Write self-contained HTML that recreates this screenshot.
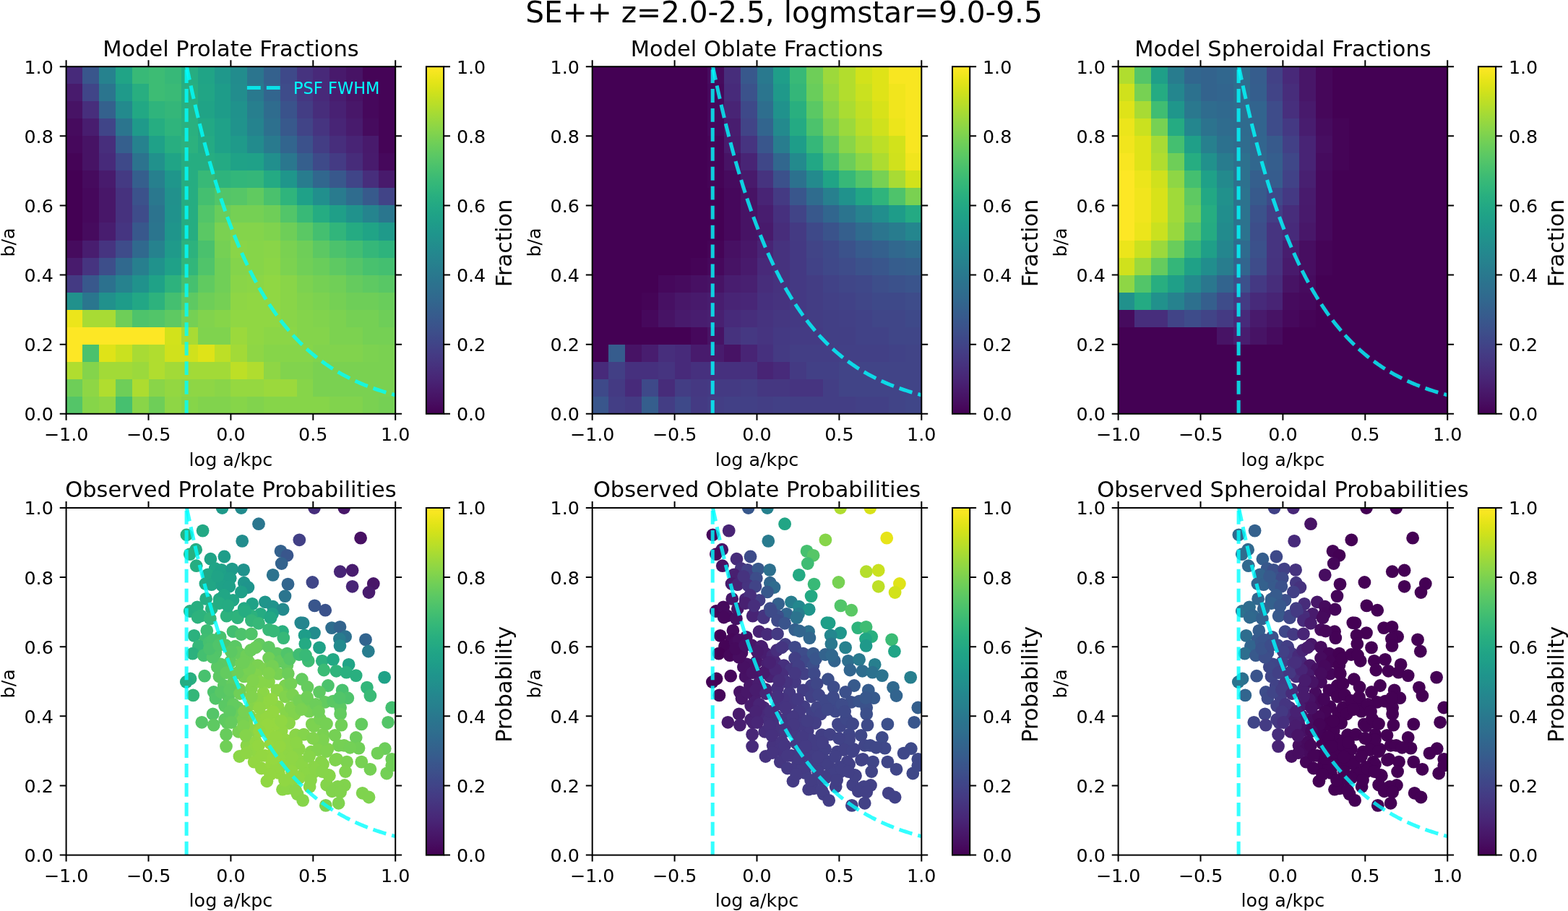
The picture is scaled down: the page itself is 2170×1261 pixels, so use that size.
<!DOCTYPE html>
<html><head><meta charset="utf-8"><title>SE++ shape fractions</title>
<style>html,body{margin:0;padding:0;background:#fff;}svg{display:block;}</style>
</head><body>
<svg width="2170" height="1261" viewBox="0 0 2170 1261">
<rect x="0" y="0" width="2170" height="1261" fill="#ffffff"/>
<defs>
<clipPath id="c00"><rect x="91.60" y="92.20" width="455.60" height="480.60"/></clipPath>
<clipPath id="c01"><rect x="819.70" y="92.20" width="455.60" height="480.60"/></clipPath>
<clipPath id="c02"><rect x="1547.60" y="92.20" width="455.60" height="480.60"/></clipPath>
<clipPath id="c10"><rect x="91.60" y="703.00" width="455.60" height="480.60"/></clipPath>
<clipPath id="c11"><rect x="819.70" y="703.00" width="455.60" height="480.60"/></clipPath>
<clipPath id="c12"><rect x="1547.60" y="703.00" width="455.60" height="480.60"/></clipPath>
<linearGradient id="vg" x1="0" y1="1" x2="0" y2="0">
<stop offset="0.0000" stop-color="#440154"/>
<stop offset="0.0156" stop-color="#46075a"/>
<stop offset="0.0312" stop-color="#470d60"/>
<stop offset="0.0469" stop-color="#471365"/>
<stop offset="0.0625" stop-color="#48186a"/>
<stop offset="0.0781" stop-color="#481d6f"/>
<stop offset="0.0938" stop-color="#482374"/>
<stop offset="0.1094" stop-color="#482878"/>
<stop offset="0.1250" stop-color="#472d7b"/>
<stop offset="0.1406" stop-color="#46327e"/>
<stop offset="0.1562" stop-color="#453781"/>
<stop offset="0.1719" stop-color="#443b84"/>
<stop offset="0.1875" stop-color="#424086"/>
<stop offset="0.2031" stop-color="#404588"/>
<stop offset="0.2188" stop-color="#3e4989"/>
<stop offset="0.2344" stop-color="#3d4e8a"/>
<stop offset="0.2500" stop-color="#3b528b"/>
<stop offset="0.2656" stop-color="#39568c"/>
<stop offset="0.2812" stop-color="#375b8d"/>
<stop offset="0.2969" stop-color="#355f8d"/>
<stop offset="0.3125" stop-color="#33638d"/>
<stop offset="0.3281" stop-color="#31678e"/>
<stop offset="0.3438" stop-color="#2f6b8e"/>
<stop offset="0.3594" stop-color="#2e6f8e"/>
<stop offset="0.3750" stop-color="#2c728e"/>
<stop offset="0.3906" stop-color="#2a768e"/>
<stop offset="0.4062" stop-color="#297a8e"/>
<stop offset="0.4219" stop-color="#277e8e"/>
<stop offset="0.4375" stop-color="#26828e"/>
<stop offset="0.4531" stop-color="#25858e"/>
<stop offset="0.4688" stop-color="#23898e"/>
<stop offset="0.4844" stop-color="#228d8d"/>
<stop offset="0.5000" stop-color="#21918c"/>
<stop offset="0.5156" stop-color="#1f948c"/>
<stop offset="0.5312" stop-color="#1f988b"/>
<stop offset="0.5469" stop-color="#1e9c89"/>
<stop offset="0.5625" stop-color="#1fa088"/>
<stop offset="0.5781" stop-color="#20a386"/>
<stop offset="0.5938" stop-color="#22a785"/>
<stop offset="0.6094" stop-color="#25ab82"/>
<stop offset="0.6250" stop-color="#28ae80"/>
<stop offset="0.6406" stop-color="#2db27d"/>
<stop offset="0.6562" stop-color="#32b67a"/>
<stop offset="0.6719" stop-color="#38b977"/>
<stop offset="0.6875" stop-color="#3fbc73"/>
<stop offset="0.7031" stop-color="#46c06f"/>
<stop offset="0.7188" stop-color="#4ec36b"/>
<stop offset="0.7344" stop-color="#56c667"/>
<stop offset="0.7500" stop-color="#5ec962"/>
<stop offset="0.7656" stop-color="#67cc5c"/>
<stop offset="0.7812" stop-color="#70cf57"/>
<stop offset="0.7969" stop-color="#7ad151"/>
<stop offset="0.8125" stop-color="#84d44b"/>
<stop offset="0.8281" stop-color="#8ed645"/>
<stop offset="0.8438" stop-color="#98d83e"/>
<stop offset="0.8594" stop-color="#a2da37"/>
<stop offset="0.8750" stop-color="#addc30"/>
<stop offset="0.8906" stop-color="#b8de29"/>
<stop offset="0.9062" stop-color="#c2df23"/>
<stop offset="0.9219" stop-color="#cde11d"/>
<stop offset="0.9375" stop-color="#d8e219"/>
<stop offset="0.9531" stop-color="#e2e418"/>
<stop offset="0.9688" stop-color="#ece51b"/>
<stop offset="0.9844" stop-color="#f6e620"/>
<stop offset="1.0000" stop-color="#fde725"/>
</linearGradient>
</defs>
<g clip-path="url(#c00)" shape-rendering="crispEdges">
<rect x="91.60" y="92.20" width="23.38" height="24.63" fill="#472a7a"/>
<rect x="114.38" y="92.20" width="23.38" height="24.63" fill="#39568c"/>
<rect x="137.16" y="92.20" width="23.38" height="24.63" fill="#26828e"/>
<rect x="159.94" y="92.20" width="23.38" height="24.63" fill="#20a486"/>
<rect x="182.72" y="92.20" width="23.38" height="24.63" fill="#38b977"/>
<rect x="205.50" y="92.20" width="23.38" height="24.63" fill="#3dbc74"/>
<rect x="228.28" y="92.20" width="23.38" height="24.63" fill="#37b878"/>
<rect x="251.06" y="92.20" width="23.38" height="24.63" fill="#26ad81"/>
<rect x="273.84" y="92.20" width="23.38" height="24.63" fill="#20a486"/>
<rect x="296.62" y="92.20" width="23.38" height="24.63" fill="#1f988b"/>
<rect x="319.40" y="92.20" width="23.38" height="24.63" fill="#228c8d"/>
<rect x="342.18" y="92.20" width="23.38" height="24.63" fill="#2b758e"/>
<rect x="364.96" y="92.20" width="23.38" height="24.63" fill="#34618d"/>
<rect x="387.74" y="92.20" width="23.38" height="24.63" fill="#3e4989"/>
<rect x="410.52" y="92.20" width="23.38" height="24.63" fill="#46337f"/>
<rect x="433.30" y="92.20" width="23.38" height="24.63" fill="#482979"/>
<rect x="456.08" y="92.20" width="23.38" height="24.63" fill="#481a6c"/>
<rect x="478.86" y="92.20" width="23.38" height="24.63" fill="#471365"/>
<rect x="501.64" y="92.20" width="23.38" height="24.63" fill="#450457"/>
<rect x="524.42" y="92.20" width="23.38" height="24.63" fill="#450457"/>
<rect x="91.60" y="116.23" width="23.38" height="24.63" fill="#481b6d"/>
<rect x="114.38" y="116.23" width="23.38" height="24.63" fill="#404588"/>
<rect x="137.16" y="116.23" width="23.38" height="24.63" fill="#2b758e"/>
<rect x="159.94" y="116.23" width="23.38" height="24.63" fill="#1f9a8a"/>
<rect x="182.72" y="116.23" width="23.38" height="24.63" fill="#28ae80"/>
<rect x="205.50" y="116.23" width="23.38" height="24.63" fill="#3dbc74"/>
<rect x="228.28" y="116.23" width="23.38" height="24.63" fill="#3aba76"/>
<rect x="251.06" y="116.23" width="23.38" height="24.63" fill="#28ae80"/>
<rect x="273.84" y="116.23" width="23.38" height="24.63" fill="#21a585"/>
<rect x="296.62" y="116.23" width="23.38" height="24.63" fill="#1e9c89"/>
<rect x="319.40" y="116.23" width="23.38" height="24.63" fill="#228d8d"/>
<rect x="342.18" y="116.23" width="23.38" height="24.63" fill="#29798e"/>
<rect x="364.96" y="116.23" width="23.38" height="24.63" fill="#32658e"/>
<rect x="387.74" y="116.23" width="23.38" height="24.63" fill="#3e4c8a"/>
<rect x="410.52" y="116.23" width="23.38" height="24.63" fill="#453781"/>
<rect x="433.30" y="116.23" width="23.38" height="24.63" fill="#482979"/>
<rect x="456.08" y="116.23" width="23.38" height="24.63" fill="#481d6f"/>
<rect x="478.86" y="116.23" width="23.38" height="24.63" fill="#471365"/>
<rect x="501.64" y="116.23" width="23.38" height="24.63" fill="#46085c"/>
<rect x="524.42" y="116.23" width="23.38" height="24.63" fill="#450457"/>
<rect x="91.60" y="140.26" width="23.38" height="24.63" fill="#471365"/>
<rect x="114.38" y="140.26" width="23.38" height="24.63" fill="#472e7c"/>
<rect x="137.16" y="140.26" width="23.38" height="24.63" fill="#34618d"/>
<rect x="159.94" y="140.26" width="23.38" height="24.63" fill="#238a8d"/>
<rect x="182.72" y="140.26" width="23.38" height="24.63" fill="#22a884"/>
<rect x="205.50" y="140.26" width="23.38" height="24.63" fill="#2fb47c"/>
<rect x="228.28" y="140.26" width="23.38" height="24.63" fill="#34b679"/>
<rect x="251.06" y="140.26" width="23.38" height="24.63" fill="#29af7f"/>
<rect x="273.84" y="140.26" width="23.38" height="24.63" fill="#20a386"/>
<rect x="296.62" y="140.26" width="23.38" height="24.63" fill="#1e9c89"/>
<rect x="319.40" y="140.26" width="23.38" height="24.63" fill="#20928c"/>
<rect x="342.18" y="140.26" width="23.38" height="24.63" fill="#277f8e"/>
<rect x="364.96" y="140.26" width="23.38" height="24.63" fill="#2f6c8e"/>
<rect x="387.74" y="140.26" width="23.38" height="24.63" fill="#3a538b"/>
<rect x="410.52" y="140.26" width="23.38" height="24.63" fill="#433d84"/>
<rect x="433.30" y="140.26" width="23.38" height="24.63" fill="#472d7b"/>
<rect x="456.08" y="140.26" width="23.38" height="24.63" fill="#482173"/>
<rect x="478.86" y="140.26" width="23.38" height="24.63" fill="#481769"/>
<rect x="501.64" y="140.26" width="23.38" height="24.63" fill="#46085c"/>
<rect x="524.42" y="140.26" width="23.38" height="24.63" fill="#450457"/>
<rect x="91.60" y="164.29" width="23.38" height="24.63" fill="#460b5e"/>
<rect x="114.38" y="164.29" width="23.38" height="24.63" fill="#481d6f"/>
<rect x="137.16" y="164.29" width="23.38" height="24.63" fill="#404588"/>
<rect x="159.94" y="164.29" width="23.38" height="24.63" fill="#2b758e"/>
<rect x="182.72" y="164.29" width="23.38" height="24.63" fill="#1f9a8a"/>
<rect x="205.50" y="164.29" width="23.38" height="24.63" fill="#26ad81"/>
<rect x="228.28" y="164.29" width="23.38" height="24.63" fill="#2fb47c"/>
<rect x="251.06" y="164.29" width="23.38" height="24.63" fill="#2ab07f"/>
<rect x="273.84" y="164.29" width="23.38" height="24.63" fill="#22a884"/>
<rect x="296.62" y="164.29" width="23.38" height="24.63" fill="#1fa188"/>
<rect x="319.40" y="164.29" width="23.38" height="24.63" fill="#20938c"/>
<rect x="342.18" y="164.29" width="23.38" height="24.63" fill="#25838e"/>
<rect x="364.96" y="164.29" width="23.38" height="24.63" fill="#2d708e"/>
<rect x="387.74" y="164.29" width="23.38" height="24.63" fill="#38598c"/>
<rect x="410.52" y="164.29" width="23.38" height="24.63" fill="#414487"/>
<rect x="433.30" y="164.29" width="23.38" height="24.63" fill="#463480"/>
<rect x="456.08" y="164.29" width="23.38" height="24.63" fill="#482576"/>
<rect x="478.86" y="164.29" width="23.38" height="24.63" fill="#481b6d"/>
<rect x="501.64" y="164.29" width="23.38" height="24.63" fill="#460b5e"/>
<rect x="524.42" y="164.29" width="23.38" height="24.63" fill="#450457"/>
<rect x="91.60" y="188.32" width="23.38" height="24.63" fill="#46085c"/>
<rect x="114.38" y="188.32" width="23.38" height="24.63" fill="#471365"/>
<rect x="137.16" y="188.32" width="23.38" height="24.63" fill="#472e7c"/>
<rect x="159.94" y="188.32" width="23.38" height="24.63" fill="#355f8d"/>
<rect x="182.72" y="188.32" width="23.38" height="24.63" fill="#26828e"/>
<rect x="205.50" y="188.32" width="23.38" height="24.63" fill="#1fa188"/>
<rect x="228.28" y="188.32" width="23.38" height="24.63" fill="#28ae80"/>
<rect x="251.06" y="188.32" width="23.38" height="24.63" fill="#2cb17e"/>
<rect x="273.84" y="188.32" width="23.38" height="24.63" fill="#24aa83"/>
<rect x="296.62" y="188.32" width="23.38" height="24.63" fill="#1fa188"/>
<rect x="319.40" y="188.32" width="23.38" height="24.63" fill="#1f9a8a"/>
<rect x="342.18" y="188.32" width="23.38" height="24.63" fill="#228b8d"/>
<rect x="364.96" y="188.32" width="23.38" height="24.63" fill="#297a8e"/>
<rect x="387.74" y="188.32" width="23.38" height="24.63" fill="#32658e"/>
<rect x="410.52" y="188.32" width="23.38" height="24.63" fill="#3b518b"/>
<rect x="433.30" y="188.32" width="23.38" height="24.63" fill="#433d84"/>
<rect x="456.08" y="188.32" width="23.38" height="24.63" fill="#472e7c"/>
<rect x="478.86" y="188.32" width="23.38" height="24.63" fill="#482475"/>
<rect x="501.64" y="188.32" width="23.38" height="24.63" fill="#481a6c"/>
<rect x="524.42" y="188.32" width="23.38" height="24.63" fill="#450457"/>
<rect x="91.60" y="212.35" width="23.38" height="24.63" fill="#450457"/>
<rect x="114.38" y="212.35" width="23.38" height="24.63" fill="#471365"/>
<rect x="137.16" y="212.35" width="23.38" height="24.63" fill="#472a7a"/>
<rect x="159.94" y="212.35" width="23.38" height="24.63" fill="#3e4989"/>
<rect x="182.72" y="212.35" width="23.38" height="24.63" fill="#2c738e"/>
<rect x="205.50" y="212.35" width="23.38" height="24.63" fill="#21918c"/>
<rect x="228.28" y="212.35" width="23.38" height="24.63" fill="#20a486"/>
<rect x="251.06" y="212.35" width="23.38" height="24.63" fill="#26ad81"/>
<rect x="273.84" y="212.35" width="23.38" height="24.63" fill="#26ad81"/>
<rect x="296.62" y="212.35" width="23.38" height="24.63" fill="#24aa83"/>
<rect x="319.40" y="212.35" width="23.38" height="24.63" fill="#1fa287"/>
<rect x="342.18" y="212.35" width="23.38" height="24.63" fill="#1fa188"/>
<rect x="364.96" y="212.35" width="23.38" height="24.63" fill="#218f8d"/>
<rect x="387.74" y="212.35" width="23.38" height="24.63" fill="#2a778e"/>
<rect x="410.52" y="212.35" width="23.38" height="24.63" fill="#355f8d"/>
<rect x="433.30" y="212.35" width="23.38" height="24.63" fill="#3e4a89"/>
<rect x="456.08" y="212.35" width="23.38" height="24.63" fill="#443b84"/>
<rect x="478.86" y="212.35" width="23.38" height="24.63" fill="#472c7a"/>
<rect x="501.64" y="212.35" width="23.38" height="24.63" fill="#481b6d"/>
<rect x="524.42" y="212.35" width="23.38" height="24.63" fill="#46085c"/>
<rect x="91.60" y="236.38" width="23.38" height="24.63" fill="#440154"/>
<rect x="114.38" y="236.38" width="23.38" height="24.63" fill="#460b5e"/>
<rect x="137.16" y="236.38" width="23.38" height="24.63" fill="#481b6d"/>
<rect x="159.94" y="236.38" width="23.38" height="24.63" fill="#443a83"/>
<rect x="182.72" y="236.38" width="23.38" height="24.63" fill="#355f8d"/>
<rect x="205.50" y="236.38" width="23.38" height="24.63" fill="#27808e"/>
<rect x="228.28" y="236.38" width="23.38" height="24.63" fill="#1f968b"/>
<rect x="251.06" y="236.38" width="23.38" height="24.63" fill="#26ad81"/>
<rect x="273.84" y="236.38" width="23.38" height="24.63" fill="#38b977"/>
<rect x="296.62" y="236.38" width="23.38" height="24.63" fill="#2eb37c"/>
<rect x="319.40" y="236.38" width="23.38" height="24.63" fill="#32b67a"/>
<rect x="342.18" y="236.38" width="23.38" height="24.63" fill="#34b679"/>
<rect x="364.96" y="236.38" width="23.38" height="24.63" fill="#24aa83"/>
<rect x="387.74" y="236.38" width="23.38" height="24.63" fill="#1f968b"/>
<rect x="410.52" y="236.38" width="23.38" height="24.63" fill="#287c8e"/>
<rect x="433.30" y="236.38" width="23.38" height="24.63" fill="#31678e"/>
<rect x="456.08" y="236.38" width="23.38" height="24.63" fill="#38588c"/>
<rect x="478.86" y="236.38" width="23.38" height="24.63" fill="#404588"/>
<rect x="501.64" y="236.38" width="23.38" height="24.63" fill="#472e7c"/>
<rect x="524.42" y="236.38" width="23.38" height="24.63" fill="#481a6c"/>
<rect x="91.60" y="260.41" width="23.38" height="24.63" fill="#440154"/>
<rect x="114.38" y="260.41" width="23.38" height="24.63" fill="#46085c"/>
<rect x="137.16" y="260.41" width="23.38" height="24.63" fill="#481769"/>
<rect x="159.94" y="260.41" width="23.38" height="24.63" fill="#46327e"/>
<rect x="182.72" y="260.41" width="23.38" height="24.63" fill="#3b528b"/>
<rect x="205.50" y="260.41" width="23.38" height="24.63" fill="#2a788e"/>
<rect x="228.28" y="260.41" width="23.38" height="24.63" fill="#21918c"/>
<rect x="251.06" y="260.41" width="23.38" height="24.63" fill="#26ad81"/>
<rect x="273.84" y="260.41" width="23.38" height="24.63" fill="#44bf70"/>
<rect x="296.62" y="260.41" width="23.38" height="24.63" fill="#52c569"/>
<rect x="319.40" y="260.41" width="23.38" height="24.63" fill="#56c667"/>
<rect x="342.18" y="260.41" width="23.38" height="24.63" fill="#60ca60"/>
<rect x="364.96" y="260.41" width="23.38" height="24.63" fill="#4ac16d"/>
<rect x="387.74" y="260.41" width="23.38" height="24.63" fill="#2fb47c"/>
<rect x="410.52" y="260.41" width="23.38" height="24.63" fill="#1fa188"/>
<rect x="433.30" y="260.41" width="23.38" height="24.63" fill="#218f8d"/>
<rect x="456.08" y="260.41" width="23.38" height="24.63" fill="#297b8e"/>
<rect x="478.86" y="260.41" width="23.38" height="24.63" fill="#2f6c8e"/>
<rect x="501.64" y="260.41" width="23.38" height="24.63" fill="#375a8c"/>
<rect x="524.42" y="260.41" width="23.38" height="24.63" fill="#414487"/>
<rect x="91.60" y="284.44" width="23.38" height="24.63" fill="#440154"/>
<rect x="114.38" y="284.44" width="23.38" height="24.63" fill="#46085c"/>
<rect x="137.16" y="284.44" width="23.38" height="24.63" fill="#481769"/>
<rect x="159.94" y="284.44" width="23.38" height="24.63" fill="#46327e"/>
<rect x="182.72" y="284.44" width="23.38" height="24.63" fill="#3e4c8a"/>
<rect x="205.50" y="284.44" width="23.38" height="24.63" fill="#2c738e"/>
<rect x="228.28" y="284.44" width="23.38" height="24.63" fill="#20928c"/>
<rect x="251.06" y="284.44" width="23.38" height="24.63" fill="#26ad81"/>
<rect x="273.84" y="284.44" width="23.38" height="24.63" fill="#52c569"/>
<rect x="296.62" y="284.44" width="23.38" height="24.63" fill="#69cd5b"/>
<rect x="319.40" y="284.44" width="23.38" height="24.63" fill="#75d054"/>
<rect x="342.18" y="284.44" width="23.38" height="24.63" fill="#75d054"/>
<rect x="364.96" y="284.44" width="23.38" height="24.63" fill="#6ece58"/>
<rect x="387.74" y="284.44" width="23.38" height="24.63" fill="#52c569"/>
<rect x="410.52" y="284.44" width="23.38" height="24.63" fill="#38b977"/>
<rect x="433.30" y="284.44" width="23.38" height="24.63" fill="#25ac82"/>
<rect x="456.08" y="284.44" width="23.38" height="24.63" fill="#1f9f88"/>
<rect x="478.86" y="284.44" width="23.38" height="24.63" fill="#20928c"/>
<rect x="501.64" y="284.44" width="23.38" height="24.63" fill="#25848e"/>
<rect x="524.42" y="284.44" width="23.38" height="24.63" fill="#2a768e"/>
<rect x="91.60" y="308.47" width="23.38" height="24.63" fill="#440154"/>
<rect x="114.38" y="308.47" width="23.38" height="24.63" fill="#460b5e"/>
<rect x="137.16" y="308.47" width="23.38" height="24.63" fill="#481d6f"/>
<rect x="159.94" y="308.47" width="23.38" height="24.63" fill="#453581"/>
<rect x="182.72" y="308.47" width="23.38" height="24.63" fill="#38588c"/>
<rect x="205.50" y="308.47" width="23.38" height="24.63" fill="#2b758e"/>
<rect x="228.28" y="308.47" width="23.38" height="24.63" fill="#1f958b"/>
<rect x="251.06" y="308.47" width="23.38" height="24.63" fill="#26ad81"/>
<rect x="273.84" y="308.47" width="23.38" height="24.63" fill="#5ac864"/>
<rect x="296.62" y="308.47" width="23.38" height="24.63" fill="#7ad151"/>
<rect x="319.40" y="308.47" width="23.38" height="24.63" fill="#84d44b"/>
<rect x="342.18" y="308.47" width="23.38" height="24.63" fill="#84d44b"/>
<rect x="364.96" y="308.47" width="23.38" height="24.63" fill="#7fd34e"/>
<rect x="387.74" y="308.47" width="23.38" height="24.63" fill="#6ece58"/>
<rect x="410.52" y="308.47" width="23.38" height="24.63" fill="#5ac864"/>
<rect x="433.30" y="308.47" width="23.38" height="24.63" fill="#44bf70"/>
<rect x="456.08" y="308.47" width="23.38" height="24.63" fill="#31b57b"/>
<rect x="478.86" y="308.47" width="23.38" height="24.63" fill="#25ab82"/>
<rect x="501.64" y="308.47" width="23.38" height="24.63" fill="#20a486"/>
<rect x="524.42" y="308.47" width="23.38" height="24.63" fill="#1f9a8a"/>
<rect x="91.60" y="332.50" width="23.38" height="24.63" fill="#460b5e"/>
<rect x="114.38" y="332.50" width="23.38" height="24.63" fill="#481d6f"/>
<rect x="137.16" y="332.50" width="23.38" height="24.63" fill="#463480"/>
<rect x="159.94" y="332.50" width="23.38" height="24.63" fill="#3e4c8a"/>
<rect x="182.72" y="332.50" width="23.38" height="24.63" fill="#30698e"/>
<rect x="205.50" y="332.50" width="23.38" height="24.63" fill="#26828e"/>
<rect x="228.28" y="332.50" width="23.38" height="24.63" fill="#1f9a8a"/>
<rect x="251.06" y="332.50" width="23.38" height="24.63" fill="#2db27d"/>
<rect x="273.84" y="332.50" width="23.38" height="24.63" fill="#4ac16d"/>
<rect x="296.62" y="332.50" width="23.38" height="24.63" fill="#75d054"/>
<rect x="319.40" y="332.50" width="23.38" height="24.63" fill="#89d548"/>
<rect x="342.18" y="332.50" width="23.38" height="24.63" fill="#86d549"/>
<rect x="364.96" y="332.50" width="23.38" height="24.63" fill="#89d548"/>
<rect x="387.74" y="332.50" width="23.38" height="24.63" fill="#7ad151"/>
<rect x="410.52" y="332.50" width="23.38" height="24.63" fill="#6ece58"/>
<rect x="433.30" y="332.50" width="23.38" height="24.63" fill="#5cc863"/>
<rect x="456.08" y="332.50" width="23.38" height="24.63" fill="#4cc26c"/>
<rect x="478.86" y="332.50" width="23.38" height="24.63" fill="#42be71"/>
<rect x="501.64" y="332.50" width="23.38" height="24.63" fill="#35b779"/>
<rect x="524.42" y="332.50" width="23.38" height="24.63" fill="#2eb37c"/>
<rect x="91.60" y="356.53" width="23.38" height="24.63" fill="#481b6d"/>
<rect x="114.38" y="356.53" width="23.38" height="24.63" fill="#463480"/>
<rect x="137.16" y="356.53" width="23.38" height="24.63" fill="#3d4e8a"/>
<rect x="159.94" y="356.53" width="23.38" height="24.63" fill="#30698e"/>
<rect x="182.72" y="356.53" width="23.38" height="24.63" fill="#277f8e"/>
<rect x="205.50" y="356.53" width="23.38" height="24.63" fill="#20928c"/>
<rect x="228.28" y="356.53" width="23.38" height="24.63" fill="#1fa188"/>
<rect x="251.06" y="356.53" width="23.38" height="24.63" fill="#32b67a"/>
<rect x="273.84" y="356.53" width="23.38" height="24.63" fill="#50c46a"/>
<rect x="296.62" y="356.53" width="23.38" height="24.63" fill="#70cf57"/>
<rect x="319.40" y="356.53" width="23.38" height="24.63" fill="#84d44b"/>
<rect x="342.18" y="356.53" width="23.38" height="24.63" fill="#86d549"/>
<rect x="364.96" y="356.53" width="23.38" height="24.63" fill="#8bd646"/>
<rect x="387.74" y="356.53" width="23.38" height="24.63" fill="#7cd250"/>
<rect x="410.52" y="356.53" width="23.38" height="24.63" fill="#70cf57"/>
<rect x="433.30" y="356.53" width="23.38" height="24.63" fill="#69cd5b"/>
<rect x="456.08" y="356.53" width="23.38" height="24.63" fill="#5ec962"/>
<rect x="478.86" y="356.53" width="23.38" height="24.63" fill="#54c568"/>
<rect x="501.64" y="356.53" width="23.38" height="24.63" fill="#48c16e"/>
<rect x="524.42" y="356.53" width="23.38" height="24.63" fill="#44bf70"/>
<rect x="91.60" y="380.56" width="23.38" height="24.63" fill="#443a83"/>
<rect x="114.38" y="380.56" width="23.38" height="24.63" fill="#38588c"/>
<rect x="137.16" y="380.56" width="23.38" height="24.63" fill="#2c718e"/>
<rect x="159.94" y="380.56" width="23.38" height="24.63" fill="#26828e"/>
<rect x="182.72" y="380.56" width="23.38" height="24.63" fill="#20928c"/>
<rect x="205.50" y="380.56" width="23.38" height="24.63" fill="#1fa287"/>
<rect x="228.28" y="380.56" width="23.38" height="24.63" fill="#2db27d"/>
<rect x="251.06" y="380.56" width="23.38" height="24.63" fill="#46c06f"/>
<rect x="273.84" y="380.56" width="23.38" height="24.63" fill="#60ca60"/>
<rect x="296.62" y="380.56" width="23.38" height="24.63" fill="#70cf57"/>
<rect x="319.40" y="380.56" width="23.38" height="24.63" fill="#89d548"/>
<rect x="342.18" y="380.56" width="23.38" height="24.63" fill="#8bd646"/>
<rect x="364.96" y="380.56" width="23.38" height="24.63" fill="#90d743"/>
<rect x="387.74" y="380.56" width="23.38" height="24.63" fill="#89d548"/>
<rect x="410.52" y="380.56" width="23.38" height="24.63" fill="#7cd250"/>
<rect x="433.30" y="380.56" width="23.38" height="24.63" fill="#75d054"/>
<rect x="456.08" y="380.56" width="23.38" height="24.63" fill="#70cf57"/>
<rect x="478.86" y="380.56" width="23.38" height="24.63" fill="#65cb5e"/>
<rect x="501.64" y="380.56" width="23.38" height="24.63" fill="#5ec962"/>
<rect x="524.42" y="380.56" width="23.38" height="24.63" fill="#58c765"/>
<rect x="91.60" y="404.59" width="23.38" height="24.63" fill="#21918c"/>
<rect x="114.38" y="404.59" width="23.38" height="24.63" fill="#2a768e"/>
<rect x="137.16" y="404.59" width="23.38" height="24.63" fill="#21918c"/>
<rect x="159.94" y="404.59" width="23.38" height="24.63" fill="#1e9c89"/>
<rect x="182.72" y="404.59" width="23.38" height="24.63" fill="#22a785"/>
<rect x="205.50" y="404.59" width="23.38" height="24.63" fill="#2db27d"/>
<rect x="228.28" y="404.59" width="23.38" height="24.63" fill="#44bf70"/>
<rect x="251.06" y="404.59" width="23.38" height="24.63" fill="#5ec962"/>
<rect x="273.84" y="404.59" width="23.38" height="24.63" fill="#6ece58"/>
<rect x="296.62" y="404.59" width="23.38" height="24.63" fill="#75d054"/>
<rect x="319.40" y="404.59" width="23.38" height="24.63" fill="#8ed645"/>
<rect x="342.18" y="404.59" width="23.38" height="24.63" fill="#90d743"/>
<rect x="364.96" y="404.59" width="23.38" height="24.63" fill="#90d743"/>
<rect x="387.74" y="404.59" width="23.38" height="24.63" fill="#89d548"/>
<rect x="410.52" y="404.59" width="23.38" height="24.63" fill="#81d34d"/>
<rect x="433.30" y="404.59" width="23.38" height="24.63" fill="#7cd250"/>
<rect x="456.08" y="404.59" width="23.38" height="24.63" fill="#75d054"/>
<rect x="478.86" y="404.59" width="23.38" height="24.63" fill="#6ece58"/>
<rect x="501.64" y="404.59" width="23.38" height="24.63" fill="#6ece58"/>
<rect x="524.42" y="404.59" width="23.38" height="24.63" fill="#69cd5b"/>
<rect x="91.60" y="428.62" width="23.38" height="24.63" fill="#ece51b"/>
<rect x="114.38" y="428.62" width="23.38" height="24.63" fill="#a8db34"/>
<rect x="137.16" y="428.62" width="23.38" height="24.63" fill="#a8db34"/>
<rect x="159.94" y="428.62" width="23.38" height="24.63" fill="#6ece58"/>
<rect x="182.72" y="428.62" width="23.38" height="24.63" fill="#4ec36b"/>
<rect x="205.50" y="428.62" width="23.38" height="24.63" fill="#52c569"/>
<rect x="228.28" y="428.62" width="23.38" height="24.63" fill="#5ec962"/>
<rect x="251.06" y="428.62" width="23.38" height="24.63" fill="#75d054"/>
<rect x="273.84" y="428.62" width="23.38" height="24.63" fill="#81d34d"/>
<rect x="296.62" y="428.62" width="23.38" height="24.63" fill="#86d549"/>
<rect x="319.40" y="428.62" width="23.38" height="24.63" fill="#90d743"/>
<rect x="342.18" y="428.62" width="23.38" height="24.63" fill="#90d743"/>
<rect x="364.96" y="428.62" width="23.38" height="24.63" fill="#90d743"/>
<rect x="387.74" y="428.62" width="23.38" height="24.63" fill="#89d548"/>
<rect x="410.52" y="428.62" width="23.38" height="24.63" fill="#84d44b"/>
<rect x="433.30" y="428.62" width="23.38" height="24.63" fill="#81d34d"/>
<rect x="456.08" y="428.62" width="23.38" height="24.63" fill="#7cd250"/>
<rect x="478.86" y="428.62" width="23.38" height="24.63" fill="#75d054"/>
<rect x="501.64" y="428.62" width="23.38" height="24.63" fill="#75d054"/>
<rect x="524.42" y="428.62" width="23.38" height="24.63" fill="#6ece58"/>
<rect x="91.60" y="452.65" width="23.38" height="24.63" fill="#fde725"/>
<rect x="114.38" y="452.65" width="23.38" height="24.63" fill="#fde725"/>
<rect x="137.16" y="452.65" width="23.38" height="24.63" fill="#fde725"/>
<rect x="159.94" y="452.65" width="23.38" height="24.63" fill="#fde725"/>
<rect x="182.72" y="452.65" width="23.38" height="24.63" fill="#fde725"/>
<rect x="205.50" y="452.65" width="23.38" height="24.63" fill="#fde725"/>
<rect x="228.28" y="452.65" width="23.38" height="24.63" fill="#d2e21b"/>
<rect x="251.06" y="452.65" width="23.38" height="24.63" fill="#a8db34"/>
<rect x="273.84" y="452.65" width="23.38" height="24.63" fill="#7fd34e"/>
<rect x="296.62" y="452.65" width="23.38" height="24.63" fill="#7fd34e"/>
<rect x="319.40" y="452.65" width="23.38" height="24.63" fill="#9bd93c"/>
<rect x="342.18" y="452.65" width="23.38" height="24.63" fill="#90d743"/>
<rect x="364.96" y="452.65" width="23.38" height="24.63" fill="#8bd646"/>
<rect x="387.74" y="452.65" width="23.38" height="24.63" fill="#8bd646"/>
<rect x="410.52" y="452.65" width="23.38" height="24.63" fill="#84d44b"/>
<rect x="433.30" y="452.65" width="23.38" height="24.63" fill="#84d44b"/>
<rect x="456.08" y="452.65" width="23.38" height="24.63" fill="#7cd250"/>
<rect x="478.86" y="452.65" width="23.38" height="24.63" fill="#7cd250"/>
<rect x="501.64" y="452.65" width="23.38" height="24.63" fill="#75d054"/>
<rect x="524.42" y="452.65" width="23.38" height="24.63" fill="#75d054"/>
<rect x="91.60" y="476.68" width="23.38" height="24.63" fill="#fde725"/>
<rect x="114.38" y="476.68" width="23.38" height="24.63" fill="#4ac16d"/>
<rect x="137.16" y="476.68" width="23.38" height="24.63" fill="#dfe318"/>
<rect x="159.94" y="476.68" width="23.38" height="24.63" fill="#cae11f"/>
<rect x="182.72" y="476.68" width="23.38" height="24.63" fill="#a8db34"/>
<rect x="205.50" y="476.68" width="23.38" height="24.63" fill="#b0dd2f"/>
<rect x="228.28" y="476.68" width="23.38" height="24.63" fill="#d0e11c"/>
<rect x="251.06" y="476.68" width="23.38" height="24.63" fill="#d0e11c"/>
<rect x="273.84" y="476.68" width="23.38" height="24.63" fill="#dfe318"/>
<rect x="296.62" y="476.68" width="23.38" height="24.63" fill="#bddf26"/>
<rect x="319.40" y="476.68" width="23.38" height="24.63" fill="#a2da37"/>
<rect x="342.18" y="476.68" width="23.38" height="24.63" fill="#8ed645"/>
<rect x="364.96" y="476.68" width="23.38" height="24.63" fill="#86d549"/>
<rect x="387.74" y="476.68" width="23.38" height="24.63" fill="#86d549"/>
<rect x="410.52" y="476.68" width="23.38" height="24.63" fill="#86d549"/>
<rect x="433.30" y="476.68" width="23.38" height="24.63" fill="#81d34d"/>
<rect x="456.08" y="476.68" width="23.38" height="24.63" fill="#81d34d"/>
<rect x="478.86" y="476.68" width="23.38" height="24.63" fill="#81d34d"/>
<rect x="501.64" y="476.68" width="23.38" height="24.63" fill="#7cd250"/>
<rect x="524.42" y="476.68" width="23.38" height="24.63" fill="#7ad151"/>
<rect x="91.60" y="500.71" width="23.38" height="24.63" fill="#b0dd2f"/>
<rect x="114.38" y="500.71" width="23.38" height="24.63" fill="#84d44b"/>
<rect x="137.16" y="500.71" width="23.38" height="24.63" fill="#a2da37"/>
<rect x="159.94" y="500.71" width="23.38" height="24.63" fill="#a2da37"/>
<rect x="182.72" y="500.71" width="23.38" height="24.63" fill="#9bd93c"/>
<rect x="205.50" y="500.71" width="23.38" height="24.63" fill="#b0dd2f"/>
<rect x="228.28" y="500.71" width="23.38" height="24.63" fill="#a2da37"/>
<rect x="251.06" y="500.71" width="23.38" height="24.63" fill="#a2da37"/>
<rect x="273.84" y="500.71" width="23.38" height="24.63" fill="#a2da37"/>
<rect x="296.62" y="500.71" width="23.38" height="24.63" fill="#a2da37"/>
<rect x="319.40" y="500.71" width="23.38" height="24.63" fill="#bddf26"/>
<rect x="342.18" y="500.71" width="23.38" height="24.63" fill="#b0dd2f"/>
<rect x="364.96" y="500.71" width="23.38" height="24.63" fill="#8ed645"/>
<rect x="387.74" y="500.71" width="23.38" height="24.63" fill="#81d34d"/>
<rect x="410.52" y="500.71" width="23.38" height="24.63" fill="#81d34d"/>
<rect x="433.30" y="500.71" width="23.38" height="24.63" fill="#7ad151"/>
<rect x="456.08" y="500.71" width="23.38" height="24.63" fill="#7ad151"/>
<rect x="478.86" y="500.71" width="23.38" height="24.63" fill="#7ad151"/>
<rect x="501.64" y="500.71" width="23.38" height="24.63" fill="#7ad151"/>
<rect x="524.42" y="500.71" width="23.38" height="24.63" fill="#7ad151"/>
<rect x="91.60" y="524.74" width="23.38" height="24.63" fill="#6ece58"/>
<rect x="114.38" y="524.74" width="23.38" height="24.63" fill="#8ed645"/>
<rect x="137.16" y="524.74" width="23.38" height="24.63" fill="#b0dd2f"/>
<rect x="159.94" y="524.74" width="23.38" height="24.63" fill="#6ece58"/>
<rect x="182.72" y="524.74" width="23.38" height="24.63" fill="#addc30"/>
<rect x="205.50" y="524.74" width="23.38" height="24.63" fill="#89d548"/>
<rect x="228.28" y="524.74" width="23.38" height="24.63" fill="#93d741"/>
<rect x="251.06" y="524.74" width="23.38" height="24.63" fill="#8ed645"/>
<rect x="273.84" y="524.74" width="23.38" height="24.63" fill="#8ed645"/>
<rect x="296.62" y="524.74" width="23.38" height="24.63" fill="#89d548"/>
<rect x="319.40" y="524.74" width="23.38" height="24.63" fill="#95d840"/>
<rect x="342.18" y="524.74" width="23.38" height="24.63" fill="#95d840"/>
<rect x="364.96" y="524.74" width="23.38" height="24.63" fill="#9bd93c"/>
<rect x="387.74" y="524.74" width="23.38" height="24.63" fill="#9bd93c"/>
<rect x="410.52" y="524.74" width="23.38" height="24.63" fill="#86d549"/>
<rect x="433.30" y="524.74" width="23.38" height="24.63" fill="#7ad151"/>
<rect x="456.08" y="524.74" width="23.38" height="24.63" fill="#7ad151"/>
<rect x="478.86" y="524.74" width="23.38" height="24.63" fill="#7ad151"/>
<rect x="501.64" y="524.74" width="23.38" height="24.63" fill="#7ad151"/>
<rect x="524.42" y="524.74" width="23.38" height="24.63" fill="#7ad151"/>
<rect x="91.60" y="548.77" width="23.38" height="24.63" fill="#54c568"/>
<rect x="114.38" y="548.77" width="23.38" height="24.63" fill="#86d549"/>
<rect x="137.16" y="548.77" width="23.38" height="24.63" fill="#8ed645"/>
<rect x="159.94" y="548.77" width="23.38" height="24.63" fill="#46c06f"/>
<rect x="182.72" y="548.77" width="23.38" height="24.63" fill="#89d548"/>
<rect x="205.50" y="548.77" width="23.38" height="24.63" fill="#6ece58"/>
<rect x="228.28" y="548.77" width="23.38" height="24.63" fill="#8ed645"/>
<rect x="251.06" y="548.77" width="23.38" height="24.63" fill="#86d549"/>
<rect x="273.84" y="548.77" width="23.38" height="24.63" fill="#81d34d"/>
<rect x="296.62" y="548.77" width="23.38" height="24.63" fill="#81d34d"/>
<rect x="319.40" y="548.77" width="23.38" height="24.63" fill="#86d549"/>
<rect x="342.18" y="548.77" width="23.38" height="24.63" fill="#81d34d"/>
<rect x="364.96" y="548.77" width="23.38" height="24.63" fill="#86d549"/>
<rect x="387.74" y="548.77" width="23.38" height="24.63" fill="#86d549"/>
<rect x="410.52" y="548.77" width="23.38" height="24.63" fill="#86d549"/>
<rect x="433.30" y="548.77" width="23.38" height="24.63" fill="#86d549"/>
<rect x="456.08" y="548.77" width="23.38" height="24.63" fill="#81d34d"/>
<rect x="478.86" y="548.77" width="23.38" height="24.63" fill="#81d34d"/>
<rect x="501.64" y="548.77" width="23.38" height="24.63" fill="#7ad151"/>
<rect x="524.42" y="548.77" width="23.38" height="24.63" fill="#75d054"/>
</g>
<g clip-path="url(#c00)">
<path d="M258.12 572.80 L258.12 92.20" fill="none" stroke="#00ffff" stroke-opacity="0.8" stroke-width="5.08" stroke-dasharray="18.8 8.13"/>
<path d="M258.46 92.20 L259.91 99.20 L261.37 106.09 L262.82 112.89 L264.27 119.58 L265.72 126.18 L267.17 132.68 L268.62 139.09 L270.07 145.41 L271.52 151.63 L272.97 157.76 L274.42 163.80 L275.87 169.76 L277.33 175.62 L278.78 181.41 L280.23 187.11 L281.68 192.72 L283.13 198.25 L284.58 203.71 L286.03 209.08 L287.48 214.38 L288.93 219.59 L290.38 224.74 L291.84 229.80 L293.29 234.80 L294.74 239.72 L296.19 244.57 L297.64 249.35 L299.09 254.06 L300.54 258.70 L301.99 263.27 L303.44 267.78 L304.89 272.22 L306.34 276.59 L307.80 280.91 L309.25 285.16 L310.70 289.34 L312.15 293.47 L313.60 297.54 L315.05 301.54 L316.50 305.49 L317.95 309.38 L319.40 313.22 L320.85 317.00 L322.30 320.72 L323.76 324.39 L325.21 328.01 L326.66 331.57 L328.11 335.09 L329.56 338.55 L331.01 341.96 L332.46 345.32 L333.91 348.63 L335.36 351.89 L336.81 355.11 L338.27 358.28 L339.72 361.40 L341.17 364.48 L342.62 367.51 L344.07 370.50 L345.52 373.45 L346.97 376.35 L348.42 379.21 L349.87 382.03 L351.32 384.81 L352.77 387.54 L354.23 390.24 L355.68 392.90 L357.13 395.52 L358.58 398.10 L360.03 400.64 L361.48 403.15 L362.93 405.62 L364.38 408.05 L365.83 410.45 L367.28 412.81 L368.73 415.14 L370.19 417.44 L371.64 419.70 L373.09 421.93 L374.54 424.13 L375.99 426.29 L377.44 428.42 L378.89 430.53 L380.34 432.60 L381.79 434.64 L383.24 436.65 L384.70 438.63 L386.15 440.58 L387.60 442.51 L389.05 444.41 L390.50 446.28 L391.95 448.12 L393.40 449.93 L394.85 451.72 L396.30 453.48 L397.75 455.22 L399.20 456.93 L400.66 458.62 L402.11 460.28 L403.56 461.92 L405.01 463.54 L406.46 465.13 L407.91 466.69 L409.36 468.24 L410.81 469.76 L412.26 471.26 L413.71 472.74 L415.16 474.20 L416.62 475.63 L418.07 477.05 L419.52 478.44 L420.97 479.81 L422.42 481.17 L423.87 482.50 L425.32 483.82 L426.77 485.11 L428.22 486.39 L429.67 487.65 L431.13 488.89 L432.58 490.11 L434.03 491.31 L435.48 492.50 L436.93 493.67 L438.38 494.82 L439.83 495.96 L441.28 497.07 L442.73 498.18 L444.18 499.26 L445.63 500.33 L447.09 501.39 L448.54 502.43 L449.99 503.45 L451.44 504.46 L452.89 505.46 L454.34 506.44 L455.79 507.40 L457.24 508.36 L458.69 509.29 L460.14 510.22 L461.59 511.13 L463.05 512.03 L464.50 512.91 L465.95 513.78 L467.40 514.64 L468.85 515.49 L470.30 516.32 L471.75 517.15 L473.20 517.96 L474.65 518.76 L476.10 519.54 L477.56 520.32 L479.01 521.08 L480.46 521.83 L481.91 522.58 L483.36 523.31 L484.81 524.03 L486.26 524.74 L487.71 525.44 L489.16 526.13 L490.61 526.81 L492.06 527.48 L493.52 528.14 L494.97 528.79 L496.42 529.43 L497.87 530.06 L499.32 530.68 L500.77 531.29 L502.22 531.90 L503.67 532.49 L505.12 533.08 L506.57 533.66 L508.02 534.23 L509.48 534.79 L510.93 535.34 L512.38 535.89 L513.83 536.43 L515.28 536.96 L516.73 537.48 L518.18 537.99 L519.63 538.50 L521.08 539.00 L522.53 539.49 L523.99 539.98 L525.44 540.45 L526.89 540.92 L528.34 541.39 L529.79 541.85 L531.24 542.30 L532.69 542.74 L534.14 543.18 L535.59 543.61 L537.04 544.03 L538.49 544.45 L539.95 544.87 L541.40 545.27 L542.85 545.67 L544.30 546.07 L545.75 546.46 L547.20 546.84" fill="none" stroke="#00ffff" stroke-opacity="0.8" stroke-width="5.08" stroke-dasharray="18.8 8.13"/>
</g>
<g clip-path="url(#c01)" shape-rendering="crispEdges">
<rect x="819.70" y="92.20" width="23.38" height="24.63" fill="#440154"/>
<rect x="842.48" y="92.20" width="23.38" height="24.63" fill="#440154"/>
<rect x="865.26" y="92.20" width="23.38" height="24.63" fill="#440154"/>
<rect x="888.04" y="92.20" width="23.38" height="24.63" fill="#440154"/>
<rect x="910.82" y="92.20" width="23.38" height="24.63" fill="#440154"/>
<rect x="933.60" y="92.20" width="23.38" height="24.63" fill="#440154"/>
<rect x="956.38" y="92.20" width="23.38" height="24.63" fill="#440154"/>
<rect x="979.16" y="92.20" width="23.38" height="24.63" fill="#460b5e"/>
<rect x="1001.94" y="92.20" width="23.38" height="24.63" fill="#472d7b"/>
<rect x="1024.72" y="92.20" width="23.38" height="24.63" fill="#38588c"/>
<rect x="1047.50" y="92.20" width="23.38" height="24.63" fill="#29798e"/>
<rect x="1070.28" y="92.20" width="23.38" height="24.63" fill="#1f9e89"/>
<rect x="1093.06" y="92.20" width="23.38" height="24.63" fill="#38b977"/>
<rect x="1115.84" y="92.20" width="23.38" height="24.63" fill="#6ece58"/>
<rect x="1138.62" y="92.20" width="23.38" height="24.63" fill="#9dd93b"/>
<rect x="1161.40" y="92.20" width="23.38" height="24.63" fill="#b2dd2d"/>
<rect x="1184.18" y="92.20" width="23.38" height="24.63" fill="#d2e21b"/>
<rect x="1206.96" y="92.20" width="23.38" height="24.63" fill="#dfe318"/>
<rect x="1229.74" y="92.20" width="23.38" height="24.63" fill="#f8e621"/>
<rect x="1252.52" y="92.20" width="23.38" height="24.63" fill="#f8e621"/>
<rect x="819.70" y="116.23" width="23.38" height="24.63" fill="#440154"/>
<rect x="842.48" y="116.23" width="23.38" height="24.63" fill="#440154"/>
<rect x="865.26" y="116.23" width="23.38" height="24.63" fill="#440154"/>
<rect x="888.04" y="116.23" width="23.38" height="24.63" fill="#440154"/>
<rect x="910.82" y="116.23" width="23.38" height="24.63" fill="#440154"/>
<rect x="933.60" y="116.23" width="23.38" height="24.63" fill="#440154"/>
<rect x="956.38" y="116.23" width="23.38" height="24.63" fill="#440154"/>
<rect x="979.16" y="116.23" width="23.38" height="24.63" fill="#46085c"/>
<rect x="1001.94" y="116.23" width="23.38" height="24.63" fill="#472a7a"/>
<rect x="1024.72" y="116.23" width="23.38" height="24.63" fill="#3b528b"/>
<rect x="1047.50" y="116.23" width="23.38" height="24.63" fill="#2b758e"/>
<rect x="1070.28" y="116.23" width="23.38" height="24.63" fill="#1f998a"/>
<rect x="1093.06" y="116.23" width="23.38" height="24.63" fill="#34b679"/>
<rect x="1115.84" y="116.23" width="23.38" height="24.63" fill="#69cd5b"/>
<rect x="1138.62" y="116.23" width="23.38" height="24.63" fill="#95d840"/>
<rect x="1161.40" y="116.23" width="23.38" height="24.63" fill="#b2dd2d"/>
<rect x="1184.18" y="116.23" width="23.38" height="24.63" fill="#cae11f"/>
<rect x="1206.96" y="116.23" width="23.38" height="24.63" fill="#dfe318"/>
<rect x="1229.74" y="116.23" width="23.38" height="24.63" fill="#f1e51d"/>
<rect x="1252.52" y="116.23" width="23.38" height="24.63" fill="#f8e621"/>
<rect x="819.70" y="140.26" width="23.38" height="24.63" fill="#440154"/>
<rect x="842.48" y="140.26" width="23.38" height="24.63" fill="#440154"/>
<rect x="865.26" y="140.26" width="23.38" height="24.63" fill="#440154"/>
<rect x="888.04" y="140.26" width="23.38" height="24.63" fill="#440154"/>
<rect x="910.82" y="140.26" width="23.38" height="24.63" fill="#440154"/>
<rect x="933.60" y="140.26" width="23.38" height="24.63" fill="#440154"/>
<rect x="956.38" y="140.26" width="23.38" height="24.63" fill="#440154"/>
<rect x="979.16" y="140.26" width="23.38" height="24.63" fill="#46085c"/>
<rect x="1001.94" y="140.26" width="23.38" height="24.63" fill="#482475"/>
<rect x="1024.72" y="140.26" width="23.38" height="24.63" fill="#3e4989"/>
<rect x="1047.50" y="140.26" width="23.38" height="24.63" fill="#2e6e8e"/>
<rect x="1070.28" y="140.26" width="23.38" height="24.63" fill="#20928c"/>
<rect x="1093.06" y="140.26" width="23.38" height="24.63" fill="#29af7f"/>
<rect x="1115.84" y="140.26" width="23.38" height="24.63" fill="#5ac864"/>
<rect x="1138.62" y="140.26" width="23.38" height="24.63" fill="#89d548"/>
<rect x="1161.40" y="140.26" width="23.38" height="24.63" fill="#aadc32"/>
<rect x="1184.18" y="140.26" width="23.38" height="24.63" fill="#c2df23"/>
<rect x="1206.96" y="140.26" width="23.38" height="24.63" fill="#d8e219"/>
<rect x="1229.74" y="140.26" width="23.38" height="24.63" fill="#f1e51d"/>
<rect x="1252.52" y="140.26" width="23.38" height="24.63" fill="#f8e621"/>
<rect x="819.70" y="164.29" width="23.38" height="24.63" fill="#440154"/>
<rect x="842.48" y="164.29" width="23.38" height="24.63" fill="#440154"/>
<rect x="865.26" y="164.29" width="23.38" height="24.63" fill="#440154"/>
<rect x="888.04" y="164.29" width="23.38" height="24.63" fill="#440154"/>
<rect x="910.82" y="164.29" width="23.38" height="24.63" fill="#440154"/>
<rect x="933.60" y="164.29" width="23.38" height="24.63" fill="#440154"/>
<rect x="956.38" y="164.29" width="23.38" height="24.63" fill="#440154"/>
<rect x="979.16" y="164.29" width="23.38" height="24.63" fill="#46085c"/>
<rect x="1001.94" y="164.29" width="23.38" height="24.63" fill="#481d6f"/>
<rect x="1024.72" y="164.29" width="23.38" height="24.63" fill="#414487"/>
<rect x="1047.50" y="164.29" width="23.38" height="24.63" fill="#32658e"/>
<rect x="1070.28" y="164.29" width="23.38" height="24.63" fill="#238a8d"/>
<rect x="1093.06" y="164.29" width="23.38" height="24.63" fill="#24aa83"/>
<rect x="1115.84" y="164.29" width="23.38" height="24.63" fill="#4cc26c"/>
<rect x="1138.62" y="164.29" width="23.38" height="24.63" fill="#7ad151"/>
<rect x="1161.40" y="164.29" width="23.38" height="24.63" fill="#9bd93c"/>
<rect x="1184.18" y="164.29" width="23.38" height="24.63" fill="#bade28"/>
<rect x="1206.96" y="164.29" width="23.38" height="24.63" fill="#d0e11c"/>
<rect x="1229.74" y="164.29" width="23.38" height="24.63" fill="#ece51b"/>
<rect x="1252.52" y="164.29" width="23.38" height="24.63" fill="#f8e621"/>
<rect x="819.70" y="188.32" width="23.38" height="24.63" fill="#440154"/>
<rect x="842.48" y="188.32" width="23.38" height="24.63" fill="#440154"/>
<rect x="865.26" y="188.32" width="23.38" height="24.63" fill="#440154"/>
<rect x="888.04" y="188.32" width="23.38" height="24.63" fill="#440154"/>
<rect x="910.82" y="188.32" width="23.38" height="24.63" fill="#440154"/>
<rect x="933.60" y="188.32" width="23.38" height="24.63" fill="#440154"/>
<rect x="956.38" y="188.32" width="23.38" height="24.63" fill="#440154"/>
<rect x="979.16" y="188.32" width="23.38" height="24.63" fill="#450457"/>
<rect x="1001.94" y="188.32" width="23.38" height="24.63" fill="#481b6d"/>
<rect x="1024.72" y="188.32" width="23.38" height="24.63" fill="#463480"/>
<rect x="1047.50" y="188.32" width="23.38" height="24.63" fill="#39568c"/>
<rect x="1070.28" y="188.32" width="23.38" height="24.63" fill="#287d8e"/>
<rect x="1093.06" y="188.32" width="23.38" height="24.63" fill="#1e9d89"/>
<rect x="1115.84" y="188.32" width="23.38" height="24.63" fill="#35b779"/>
<rect x="1138.62" y="188.32" width="23.38" height="24.63" fill="#5ec962"/>
<rect x="1161.40" y="188.32" width="23.38" height="24.63" fill="#89d548"/>
<rect x="1184.18" y="188.32" width="23.38" height="24.63" fill="#a8db34"/>
<rect x="1206.96" y="188.32" width="23.38" height="24.63" fill="#bddf26"/>
<rect x="1229.74" y="188.32" width="23.38" height="24.63" fill="#d2e21b"/>
<rect x="1252.52" y="188.32" width="23.38" height="24.63" fill="#f8e621"/>
<rect x="819.70" y="212.35" width="23.38" height="24.63" fill="#440154"/>
<rect x="842.48" y="212.35" width="23.38" height="24.63" fill="#440154"/>
<rect x="865.26" y="212.35" width="23.38" height="24.63" fill="#440154"/>
<rect x="888.04" y="212.35" width="23.38" height="24.63" fill="#440154"/>
<rect x="910.82" y="212.35" width="23.38" height="24.63" fill="#440154"/>
<rect x="933.60" y="212.35" width="23.38" height="24.63" fill="#440154"/>
<rect x="956.38" y="212.35" width="23.38" height="24.63" fill="#440154"/>
<rect x="979.16" y="212.35" width="23.38" height="24.63" fill="#450457"/>
<rect x="1001.94" y="212.35" width="23.38" height="24.63" fill="#471365"/>
<rect x="1024.72" y="212.35" width="23.38" height="24.63" fill="#482475"/>
<rect x="1047.50" y="212.35" width="23.38" height="24.63" fill="#3f4788"/>
<rect x="1070.28" y="212.35" width="23.38" height="24.63" fill="#31678e"/>
<rect x="1093.06" y="212.35" width="23.38" height="24.63" fill="#238a8d"/>
<rect x="1115.84" y="212.35" width="23.38" height="24.63" fill="#22a785"/>
<rect x="1138.62" y="212.35" width="23.38" height="24.63" fill="#44bf70"/>
<rect x="1161.40" y="212.35" width="23.38" height="24.63" fill="#6ccd5a"/>
<rect x="1184.18" y="212.35" width="23.38" height="24.63" fill="#8bd646"/>
<rect x="1206.96" y="212.35" width="23.38" height="24.63" fill="#addc30"/>
<rect x="1229.74" y="212.35" width="23.38" height="24.63" fill="#d0e11c"/>
<rect x="1252.52" y="212.35" width="23.38" height="24.63" fill="#f1e51d"/>
<rect x="819.70" y="236.38" width="23.38" height="24.63" fill="#440154"/>
<rect x="842.48" y="236.38" width="23.38" height="24.63" fill="#440154"/>
<rect x="865.26" y="236.38" width="23.38" height="24.63" fill="#440154"/>
<rect x="888.04" y="236.38" width="23.38" height="24.63" fill="#440154"/>
<rect x="910.82" y="236.38" width="23.38" height="24.63" fill="#440154"/>
<rect x="933.60" y="236.38" width="23.38" height="24.63" fill="#440154"/>
<rect x="956.38" y="236.38" width="23.38" height="24.63" fill="#440154"/>
<rect x="979.16" y="236.38" width="23.38" height="24.63" fill="#450457"/>
<rect x="1001.94" y="236.38" width="23.38" height="24.63" fill="#460b5e"/>
<rect x="1024.72" y="236.38" width="23.38" height="24.63" fill="#481a6c"/>
<rect x="1047.50" y="236.38" width="23.38" height="24.63" fill="#46337f"/>
<rect x="1070.28" y="236.38" width="23.38" height="24.63" fill="#3b518b"/>
<rect x="1093.06" y="236.38" width="23.38" height="24.63" fill="#2c718e"/>
<rect x="1115.84" y="236.38" width="23.38" height="24.63" fill="#238a8d"/>
<rect x="1138.62" y="236.38" width="23.38" height="24.63" fill="#20a486"/>
<rect x="1161.40" y="236.38" width="23.38" height="24.63" fill="#37b878"/>
<rect x="1184.18" y="236.38" width="23.38" height="24.63" fill="#52c569"/>
<rect x="1206.96" y="236.38" width="23.38" height="24.63" fill="#77d153"/>
<rect x="1229.74" y="236.38" width="23.38" height="24.63" fill="#a8db34"/>
<rect x="1252.52" y="236.38" width="23.38" height="24.63" fill="#d2e21b"/>
<rect x="819.70" y="260.41" width="23.38" height="24.63" fill="#440154"/>
<rect x="842.48" y="260.41" width="23.38" height="24.63" fill="#440154"/>
<rect x="865.26" y="260.41" width="23.38" height="24.63" fill="#440154"/>
<rect x="888.04" y="260.41" width="23.38" height="24.63" fill="#440154"/>
<rect x="910.82" y="260.41" width="23.38" height="24.63" fill="#440154"/>
<rect x="933.60" y="260.41" width="23.38" height="24.63" fill="#440154"/>
<rect x="956.38" y="260.41" width="23.38" height="24.63" fill="#440154"/>
<rect x="979.16" y="260.41" width="23.38" height="24.63" fill="#440154"/>
<rect x="1001.94" y="260.41" width="23.38" height="24.63" fill="#46085c"/>
<rect x="1024.72" y="260.41" width="23.38" height="24.63" fill="#471365"/>
<rect x="1047.50" y="260.41" width="23.38" height="24.63" fill="#482475"/>
<rect x="1070.28" y="260.41" width="23.38" height="24.63" fill="#443a83"/>
<rect x="1093.06" y="260.41" width="23.38" height="24.63" fill="#39568c"/>
<rect x="1115.84" y="260.41" width="23.38" height="24.63" fill="#2f6c8e"/>
<rect x="1138.62" y="260.41" width="23.38" height="24.63" fill="#27808e"/>
<rect x="1161.40" y="260.41" width="23.38" height="24.63" fill="#20928c"/>
<rect x="1184.18" y="260.41" width="23.38" height="24.63" fill="#21a585"/>
<rect x="1206.96" y="260.41" width="23.38" height="24.63" fill="#2fb47c"/>
<rect x="1229.74" y="260.41" width="23.38" height="24.63" fill="#4ec36b"/>
<rect x="1252.52" y="260.41" width="23.38" height="24.63" fill="#7ad151"/>
<rect x="819.70" y="284.44" width="23.38" height="24.63" fill="#440154"/>
<rect x="842.48" y="284.44" width="23.38" height="24.63" fill="#440154"/>
<rect x="865.26" y="284.44" width="23.38" height="24.63" fill="#440154"/>
<rect x="888.04" y="284.44" width="23.38" height="24.63" fill="#440154"/>
<rect x="910.82" y="284.44" width="23.38" height="24.63" fill="#440154"/>
<rect x="933.60" y="284.44" width="23.38" height="24.63" fill="#440154"/>
<rect x="956.38" y="284.44" width="23.38" height="24.63" fill="#440154"/>
<rect x="979.16" y="284.44" width="23.38" height="24.63" fill="#440154"/>
<rect x="1001.94" y="284.44" width="23.38" height="24.63" fill="#46085c"/>
<rect x="1024.72" y="284.44" width="23.38" height="24.63" fill="#471365"/>
<rect x="1047.50" y="284.44" width="23.38" height="24.63" fill="#481d6f"/>
<rect x="1070.28" y="284.44" width="23.38" height="24.63" fill="#46307e"/>
<rect x="1093.06" y="284.44" width="23.38" height="24.63" fill="#414487"/>
<rect x="1115.84" y="284.44" width="23.38" height="24.63" fill="#38588c"/>
<rect x="1138.62" y="284.44" width="23.38" height="24.63" fill="#31668e"/>
<rect x="1161.40" y="284.44" width="23.38" height="24.63" fill="#2b748e"/>
<rect x="1184.18" y="284.44" width="23.38" height="24.63" fill="#26828e"/>
<rect x="1206.96" y="284.44" width="23.38" height="24.63" fill="#218e8d"/>
<rect x="1229.74" y="284.44" width="23.38" height="24.63" fill="#1e9c89"/>
<rect x="1252.52" y="284.44" width="23.38" height="24.63" fill="#24aa83"/>
<rect x="819.70" y="308.47" width="23.38" height="24.63" fill="#440154"/>
<rect x="842.48" y="308.47" width="23.38" height="24.63" fill="#440154"/>
<rect x="865.26" y="308.47" width="23.38" height="24.63" fill="#440154"/>
<rect x="888.04" y="308.47" width="23.38" height="24.63" fill="#440154"/>
<rect x="910.82" y="308.47" width="23.38" height="24.63" fill="#440154"/>
<rect x="933.60" y="308.47" width="23.38" height="24.63" fill="#440154"/>
<rect x="956.38" y="308.47" width="23.38" height="24.63" fill="#440154"/>
<rect x="979.16" y="308.47" width="23.38" height="24.63" fill="#440154"/>
<rect x="1001.94" y="308.47" width="23.38" height="24.63" fill="#46085c"/>
<rect x="1024.72" y="308.47" width="23.38" height="24.63" fill="#471365"/>
<rect x="1047.50" y="308.47" width="23.38" height="24.63" fill="#481a6c"/>
<rect x="1070.28" y="308.47" width="23.38" height="24.63" fill="#472d7b"/>
<rect x="1093.06" y="308.47" width="23.38" height="24.63" fill="#443a83"/>
<rect x="1115.84" y="308.47" width="23.38" height="24.63" fill="#3e4989"/>
<rect x="1138.62" y="308.47" width="23.38" height="24.63" fill="#3a538b"/>
<rect x="1161.40" y="308.47" width="23.38" height="24.63" fill="#355f8d"/>
<rect x="1184.18" y="308.47" width="23.38" height="24.63" fill="#2f6b8e"/>
<rect x="1206.96" y="308.47" width="23.38" height="24.63" fill="#2b758e"/>
<rect x="1229.74" y="308.47" width="23.38" height="24.63" fill="#287c8e"/>
<rect x="1252.52" y="308.47" width="23.38" height="24.63" fill="#24868e"/>
<rect x="819.70" y="332.50" width="23.38" height="24.63" fill="#440154"/>
<rect x="842.48" y="332.50" width="23.38" height="24.63" fill="#440154"/>
<rect x="865.26" y="332.50" width="23.38" height="24.63" fill="#440154"/>
<rect x="888.04" y="332.50" width="23.38" height="24.63" fill="#440154"/>
<rect x="910.82" y="332.50" width="23.38" height="24.63" fill="#440154"/>
<rect x="933.60" y="332.50" width="23.38" height="24.63" fill="#440154"/>
<rect x="956.38" y="332.50" width="23.38" height="24.63" fill="#440154"/>
<rect x="979.16" y="332.50" width="23.38" height="24.63" fill="#450457"/>
<rect x="1001.94" y="332.50" width="23.38" height="24.63" fill="#471063"/>
<rect x="1024.72" y="332.50" width="23.38" height="24.63" fill="#481769"/>
<rect x="1047.50" y="332.50" width="23.38" height="24.63" fill="#482475"/>
<rect x="1070.28" y="332.50" width="23.38" height="24.63" fill="#46327e"/>
<rect x="1093.06" y="332.50" width="23.38" height="24.63" fill="#443983"/>
<rect x="1115.84" y="332.50" width="23.38" height="24.63" fill="#414487"/>
<rect x="1138.62" y="332.50" width="23.38" height="24.63" fill="#3e4989"/>
<rect x="1161.40" y="332.50" width="23.38" height="24.63" fill="#3b528b"/>
<rect x="1184.18" y="332.50" width="23.38" height="24.63" fill="#375b8d"/>
<rect x="1206.96" y="332.50" width="23.38" height="24.63" fill="#34608d"/>
<rect x="1229.74" y="332.50" width="23.38" height="24.63" fill="#31688e"/>
<rect x="1252.52" y="332.50" width="23.38" height="24.63" fill="#2e6d8e"/>
<rect x="819.70" y="356.53" width="23.38" height="24.63" fill="#440154"/>
<rect x="842.48" y="356.53" width="23.38" height="24.63" fill="#440154"/>
<rect x="865.26" y="356.53" width="23.38" height="24.63" fill="#440154"/>
<rect x="888.04" y="356.53" width="23.38" height="24.63" fill="#440154"/>
<rect x="910.82" y="356.53" width="23.38" height="24.63" fill="#440154"/>
<rect x="933.60" y="356.53" width="23.38" height="24.63" fill="#440154"/>
<rect x="956.38" y="356.53" width="23.38" height="24.63" fill="#450457"/>
<rect x="979.16" y="356.53" width="23.38" height="24.63" fill="#46085c"/>
<rect x="1001.94" y="356.53" width="23.38" height="24.63" fill="#471365"/>
<rect x="1024.72" y="356.53" width="23.38" height="24.63" fill="#481a6c"/>
<rect x="1047.50" y="356.53" width="23.38" height="24.63" fill="#482979"/>
<rect x="1070.28" y="356.53" width="23.38" height="24.63" fill="#46327e"/>
<rect x="1093.06" y="356.53" width="23.38" height="24.63" fill="#443983"/>
<rect x="1115.84" y="356.53" width="23.38" height="24.63" fill="#414287"/>
<rect x="1138.62" y="356.53" width="23.38" height="24.63" fill="#3f4889"/>
<rect x="1161.40" y="356.53" width="23.38" height="24.63" fill="#3e4c8a"/>
<rect x="1184.18" y="356.53" width="23.38" height="24.63" fill="#3b528b"/>
<rect x="1206.96" y="356.53" width="23.38" height="24.63" fill="#39568c"/>
<rect x="1229.74" y="356.53" width="23.38" height="24.63" fill="#365d8d"/>
<rect x="1252.52" y="356.53" width="23.38" height="24.63" fill="#355f8d"/>
<rect x="819.70" y="380.56" width="23.38" height="24.63" fill="#440154"/>
<rect x="842.48" y="380.56" width="23.38" height="24.63" fill="#440154"/>
<rect x="865.26" y="380.56" width="23.38" height="24.63" fill="#440154"/>
<rect x="888.04" y="380.56" width="23.38" height="24.63" fill="#440154"/>
<rect x="910.82" y="380.56" width="23.38" height="24.63" fill="#46085c"/>
<rect x="933.60" y="380.56" width="23.38" height="24.63" fill="#460b5e"/>
<rect x="956.38" y="380.56" width="23.38" height="24.63" fill="#471063"/>
<rect x="979.16" y="380.56" width="23.38" height="24.63" fill="#471365"/>
<rect x="1001.94" y="380.56" width="23.38" height="24.63" fill="#481d6f"/>
<rect x="1024.72" y="380.56" width="23.38" height="24.63" fill="#482071"/>
<rect x="1047.50" y="380.56" width="23.38" height="24.63" fill="#472d7b"/>
<rect x="1070.28" y="380.56" width="23.38" height="24.63" fill="#46327e"/>
<rect x="1093.06" y="380.56" width="23.38" height="24.63" fill="#443983"/>
<rect x="1115.84" y="380.56" width="23.38" height="24.63" fill="#433d84"/>
<rect x="1138.62" y="380.56" width="23.38" height="24.63" fill="#414287"/>
<rect x="1161.40" y="380.56" width="23.38" height="24.63" fill="#404688"/>
<rect x="1184.18" y="380.56" width="23.38" height="24.63" fill="#3f4889"/>
<rect x="1206.96" y="380.56" width="23.38" height="24.63" fill="#3d4e8a"/>
<rect x="1229.74" y="380.56" width="23.38" height="24.63" fill="#3b518b"/>
<rect x="1252.52" y="380.56" width="23.38" height="24.63" fill="#3a548c"/>
<rect x="819.70" y="404.59" width="23.38" height="24.63" fill="#440154"/>
<rect x="842.48" y="404.59" width="23.38" height="24.63" fill="#440154"/>
<rect x="865.26" y="404.59" width="23.38" height="24.63" fill="#440154"/>
<rect x="888.04" y="404.59" width="23.38" height="24.63" fill="#450457"/>
<rect x="910.82" y="404.59" width="23.38" height="24.63" fill="#471063"/>
<rect x="933.60" y="404.59" width="23.38" height="24.63" fill="#481769"/>
<rect x="956.38" y="404.59" width="23.38" height="24.63" fill="#481a6c"/>
<rect x="979.16" y="404.59" width="23.38" height="24.63" fill="#481d6f"/>
<rect x="1001.94" y="404.59" width="23.38" height="24.63" fill="#482475"/>
<rect x="1024.72" y="404.59" width="23.38" height="24.63" fill="#482677"/>
<rect x="1047.50" y="404.59" width="23.38" height="24.63" fill="#46307e"/>
<rect x="1070.28" y="404.59" width="23.38" height="24.63" fill="#46337f"/>
<rect x="1093.06" y="404.59" width="23.38" height="24.63" fill="#443983"/>
<rect x="1115.84" y="404.59" width="23.38" height="24.63" fill="#433d84"/>
<rect x="1138.62" y="404.59" width="23.38" height="24.63" fill="#424086"/>
<rect x="1161.40" y="404.59" width="23.38" height="24.63" fill="#414287"/>
<rect x="1184.18" y="404.59" width="23.38" height="24.63" fill="#404688"/>
<rect x="1206.96" y="404.59" width="23.38" height="24.63" fill="#3e4989"/>
<rect x="1229.74" y="404.59" width="23.38" height="24.63" fill="#3e4989"/>
<rect x="1252.52" y="404.59" width="23.38" height="24.63" fill="#3e4c8a"/>
<rect x="819.70" y="428.62" width="23.38" height="24.63" fill="#440154"/>
<rect x="842.48" y="428.62" width="23.38" height="24.63" fill="#440154"/>
<rect x="865.26" y="428.62" width="23.38" height="24.63" fill="#440154"/>
<rect x="888.04" y="428.62" width="23.38" height="24.63" fill="#46085c"/>
<rect x="910.82" y="428.62" width="23.38" height="24.63" fill="#471365"/>
<rect x="933.60" y="428.62" width="23.38" height="24.63" fill="#481a6c"/>
<rect x="956.38" y="428.62" width="23.38" height="24.63" fill="#481d6f"/>
<rect x="979.16" y="428.62" width="23.38" height="24.63" fill="#482071"/>
<rect x="1001.94" y="428.62" width="23.38" height="24.63" fill="#472a7a"/>
<rect x="1024.72" y="428.62" width="23.38" height="24.63" fill="#472e7c"/>
<rect x="1047.50" y="428.62" width="23.38" height="24.63" fill="#46337f"/>
<rect x="1070.28" y="428.62" width="23.38" height="24.63" fill="#453781"/>
<rect x="1093.06" y="428.62" width="23.38" height="24.63" fill="#443983"/>
<rect x="1115.84" y="428.62" width="23.38" height="24.63" fill="#433d84"/>
<rect x="1138.62" y="428.62" width="23.38" height="24.63" fill="#423f85"/>
<rect x="1161.40" y="428.62" width="23.38" height="24.63" fill="#424086"/>
<rect x="1184.18" y="428.62" width="23.38" height="24.63" fill="#414287"/>
<rect x="1206.96" y="428.62" width="23.38" height="24.63" fill="#404688"/>
<rect x="1229.74" y="428.62" width="23.38" height="24.63" fill="#404688"/>
<rect x="1252.52" y="428.62" width="23.38" height="24.63" fill="#3e4989"/>
<rect x="819.70" y="452.65" width="23.38" height="24.63" fill="#440154"/>
<rect x="842.48" y="452.65" width="23.38" height="24.63" fill="#440154"/>
<rect x="865.26" y="452.65" width="23.38" height="24.63" fill="#440154"/>
<rect x="888.04" y="452.65" width="23.38" height="24.63" fill="#440154"/>
<rect x="910.82" y="452.65" width="23.38" height="24.63" fill="#440154"/>
<rect x="933.60" y="452.65" width="23.38" height="24.63" fill="#440154"/>
<rect x="956.38" y="452.65" width="23.38" height="24.63" fill="#46085c"/>
<rect x="979.16" y="452.65" width="23.38" height="24.63" fill="#471365"/>
<rect x="1001.94" y="452.65" width="23.38" height="24.63" fill="#46327e"/>
<rect x="1024.72" y="452.65" width="23.38" height="24.63" fill="#453882"/>
<rect x="1047.50" y="452.65" width="23.38" height="24.63" fill="#463480"/>
<rect x="1070.28" y="452.65" width="23.38" height="24.63" fill="#443983"/>
<rect x="1093.06" y="452.65" width="23.38" height="24.63" fill="#443b84"/>
<rect x="1115.84" y="452.65" width="23.38" height="24.63" fill="#443b84"/>
<rect x="1138.62" y="452.65" width="23.38" height="24.63" fill="#423f85"/>
<rect x="1161.40" y="452.65" width="23.38" height="24.63" fill="#423f85"/>
<rect x="1184.18" y="452.65" width="23.38" height="24.63" fill="#414287"/>
<rect x="1206.96" y="452.65" width="23.38" height="24.63" fill="#414287"/>
<rect x="1229.74" y="452.65" width="23.38" height="24.63" fill="#404688"/>
<rect x="1252.52" y="452.65" width="23.38" height="24.63" fill="#404688"/>
<rect x="819.70" y="476.68" width="23.38" height="24.63" fill="#440154"/>
<rect x="842.48" y="476.68" width="23.38" height="24.63" fill="#365c8d"/>
<rect x="865.26" y="476.68" width="23.38" height="24.63" fill="#471365"/>
<rect x="888.04" y="476.68" width="23.38" height="24.63" fill="#481d6f"/>
<rect x="910.82" y="476.68" width="23.38" height="24.63" fill="#472e7c"/>
<rect x="933.60" y="476.68" width="23.38" height="24.63" fill="#472a7a"/>
<rect x="956.38" y="476.68" width="23.38" height="24.63" fill="#481b6d"/>
<rect x="979.16" y="476.68" width="23.38" height="24.63" fill="#481b6d"/>
<rect x="1001.94" y="476.68" width="23.38" height="24.63" fill="#471365"/>
<rect x="1024.72" y="476.68" width="23.38" height="24.63" fill="#482475"/>
<rect x="1047.50" y="476.68" width="23.38" height="24.63" fill="#46307e"/>
<rect x="1070.28" y="476.68" width="23.38" height="24.63" fill="#443a83"/>
<rect x="1093.06" y="476.68" width="23.38" height="24.63" fill="#433e85"/>
<rect x="1115.84" y="476.68" width="23.38" height="24.63" fill="#433e85"/>
<rect x="1138.62" y="476.68" width="23.38" height="24.63" fill="#433e85"/>
<rect x="1161.40" y="476.68" width="23.38" height="24.63" fill="#424086"/>
<rect x="1184.18" y="476.68" width="23.38" height="24.63" fill="#424086"/>
<rect x="1206.96" y="476.68" width="23.38" height="24.63" fill="#424086"/>
<rect x="1229.74" y="476.68" width="23.38" height="24.63" fill="#414287"/>
<rect x="1252.52" y="476.68" width="23.38" height="24.63" fill="#414487"/>
<rect x="819.70" y="500.71" width="23.38" height="24.63" fill="#472a7a"/>
<rect x="842.48" y="500.71" width="23.38" height="24.63" fill="#423f85"/>
<rect x="865.26" y="500.71" width="23.38" height="24.63" fill="#46307e"/>
<rect x="888.04" y="500.71" width="23.38" height="24.63" fill="#46307e"/>
<rect x="910.82" y="500.71" width="23.38" height="24.63" fill="#463480"/>
<rect x="933.60" y="500.71" width="23.38" height="24.63" fill="#472a7a"/>
<rect x="956.38" y="500.71" width="23.38" height="24.63" fill="#46307e"/>
<rect x="979.16" y="500.71" width="23.38" height="24.63" fill="#46307e"/>
<rect x="1001.94" y="500.71" width="23.38" height="24.63" fill="#46307e"/>
<rect x="1024.72" y="500.71" width="23.38" height="24.63" fill="#46307e"/>
<rect x="1047.50" y="500.71" width="23.38" height="24.63" fill="#482475"/>
<rect x="1070.28" y="500.71" width="23.38" height="24.63" fill="#472a7a"/>
<rect x="1093.06" y="500.71" width="23.38" height="24.63" fill="#443a83"/>
<rect x="1115.84" y="500.71" width="23.38" height="24.63" fill="#424086"/>
<rect x="1138.62" y="500.71" width="23.38" height="24.63" fill="#424086"/>
<rect x="1161.40" y="500.71" width="23.38" height="24.63" fill="#414487"/>
<rect x="1184.18" y="500.71" width="23.38" height="24.63" fill="#414487"/>
<rect x="1206.96" y="500.71" width="23.38" height="24.63" fill="#414487"/>
<rect x="1229.74" y="500.71" width="23.38" height="24.63" fill="#414487"/>
<rect x="1252.52" y="500.71" width="23.38" height="24.63" fill="#414487"/>
<rect x="819.70" y="524.74" width="23.38" height="24.63" fill="#3e4989"/>
<rect x="842.48" y="524.74" width="23.38" height="24.63" fill="#443a83"/>
<rect x="865.26" y="524.74" width="23.38" height="24.63" fill="#472a7a"/>
<rect x="888.04" y="524.74" width="23.38" height="24.63" fill="#3e4989"/>
<rect x="910.82" y="524.74" width="23.38" height="24.63" fill="#472c7a"/>
<rect x="933.60" y="524.74" width="23.38" height="24.63" fill="#433d84"/>
<rect x="956.38" y="524.74" width="23.38" height="24.63" fill="#453882"/>
<rect x="979.16" y="524.74" width="23.38" height="24.63" fill="#443a83"/>
<rect x="1001.94" y="524.74" width="23.38" height="24.63" fill="#443a83"/>
<rect x="1024.72" y="524.74" width="23.38" height="24.63" fill="#433d84"/>
<rect x="1047.50" y="524.74" width="23.38" height="24.63" fill="#453781"/>
<rect x="1070.28" y="524.74" width="23.38" height="24.63" fill="#453781"/>
<rect x="1093.06" y="524.74" width="23.38" height="24.63" fill="#463480"/>
<rect x="1115.84" y="524.74" width="23.38" height="24.63" fill="#463480"/>
<rect x="1138.62" y="524.74" width="23.38" height="24.63" fill="#433e85"/>
<rect x="1161.40" y="524.74" width="23.38" height="24.63" fill="#414487"/>
<rect x="1184.18" y="524.74" width="23.38" height="24.63" fill="#414487"/>
<rect x="1206.96" y="524.74" width="23.38" height="24.63" fill="#414487"/>
<rect x="1229.74" y="524.74" width="23.38" height="24.63" fill="#414487"/>
<rect x="1252.52" y="524.74" width="23.38" height="24.63" fill="#414487"/>
<rect x="819.70" y="548.77" width="23.38" height="24.63" fill="#39568c"/>
<rect x="842.48" y="548.77" width="23.38" height="24.63" fill="#433e85"/>
<rect x="865.26" y="548.77" width="23.38" height="24.63" fill="#443a83"/>
<rect x="888.04" y="548.77" width="23.38" height="24.63" fill="#355e8d"/>
<rect x="910.82" y="548.77" width="23.38" height="24.63" fill="#433d84"/>
<rect x="933.60" y="548.77" width="23.38" height="24.63" fill="#3e4989"/>
<rect x="956.38" y="548.77" width="23.38" height="24.63" fill="#443a83"/>
<rect x="979.16" y="548.77" width="23.38" height="24.63" fill="#433e85"/>
<rect x="1001.94" y="548.77" width="23.38" height="24.63" fill="#424086"/>
<rect x="1024.72" y="548.77" width="23.38" height="24.63" fill="#424086"/>
<rect x="1047.50" y="548.77" width="23.38" height="24.63" fill="#433e85"/>
<rect x="1070.28" y="548.77" width="23.38" height="24.63" fill="#424086"/>
<rect x="1093.06" y="548.77" width="23.38" height="24.63" fill="#433e85"/>
<rect x="1115.84" y="548.77" width="23.38" height="24.63" fill="#433e85"/>
<rect x="1138.62" y="548.77" width="23.38" height="24.63" fill="#433e85"/>
<rect x="1161.40" y="548.77" width="23.38" height="24.63" fill="#433e85"/>
<rect x="1184.18" y="548.77" width="23.38" height="24.63" fill="#424086"/>
<rect x="1206.96" y="548.77" width="23.38" height="24.63" fill="#424086"/>
<rect x="1229.74" y="548.77" width="23.38" height="24.63" fill="#414487"/>
<rect x="1252.52" y="548.77" width="23.38" height="24.63" fill="#404688"/>
</g>
<g clip-path="url(#c01)">
<path d="M986.22 572.80 L986.22 92.20" fill="none" stroke="#00ffff" stroke-opacity="0.8" stroke-width="5.08" stroke-dasharray="18.8 8.13"/>
<path d="M986.56 92.20 L988.01 99.20 L989.47 106.09 L990.92 112.89 L992.37 119.58 L993.82 126.18 L995.27 132.68 L996.72 139.09 L998.17 145.41 L999.62 151.63 L1001.07 157.76 L1002.52 163.80 L1003.97 169.76 L1005.43 175.62 L1006.88 181.41 L1008.33 187.11 L1009.78 192.72 L1011.23 198.25 L1012.68 203.71 L1014.13 209.08 L1015.58 214.38 L1017.03 219.59 L1018.48 224.74 L1019.94 229.80 L1021.39 234.80 L1022.84 239.72 L1024.29 244.57 L1025.74 249.35 L1027.19 254.06 L1028.64 258.70 L1030.09 263.27 L1031.54 267.78 L1032.99 272.22 L1034.44 276.59 L1035.90 280.91 L1037.35 285.16 L1038.80 289.34 L1040.25 293.47 L1041.70 297.54 L1043.15 301.54 L1044.60 305.49 L1046.05 309.38 L1047.50 313.22 L1048.95 317.00 L1050.40 320.72 L1051.86 324.39 L1053.31 328.01 L1054.76 331.57 L1056.21 335.09 L1057.66 338.55 L1059.11 341.96 L1060.56 345.32 L1062.01 348.63 L1063.46 351.89 L1064.91 355.11 L1066.37 358.28 L1067.82 361.40 L1069.27 364.48 L1070.72 367.51 L1072.17 370.50 L1073.62 373.45 L1075.07 376.35 L1076.52 379.21 L1077.97 382.03 L1079.42 384.81 L1080.87 387.54 L1082.33 390.24 L1083.78 392.90 L1085.23 395.52 L1086.68 398.10 L1088.13 400.64 L1089.58 403.15 L1091.03 405.62 L1092.48 408.05 L1093.93 410.45 L1095.38 412.81 L1096.83 415.14 L1098.29 417.44 L1099.74 419.70 L1101.19 421.93 L1102.64 424.13 L1104.09 426.29 L1105.54 428.42 L1106.99 430.53 L1108.44 432.60 L1109.89 434.64 L1111.34 436.65 L1112.80 438.63 L1114.25 440.58 L1115.70 442.51 L1117.15 444.41 L1118.60 446.28 L1120.05 448.12 L1121.50 449.93 L1122.95 451.72 L1124.40 453.48 L1125.85 455.22 L1127.30 456.93 L1128.76 458.62 L1130.21 460.28 L1131.66 461.92 L1133.11 463.54 L1134.56 465.13 L1136.01 466.69 L1137.46 468.24 L1138.91 469.76 L1140.36 471.26 L1141.81 472.74 L1143.26 474.20 L1144.72 475.63 L1146.17 477.05 L1147.62 478.44 L1149.07 479.81 L1150.52 481.17 L1151.97 482.50 L1153.42 483.82 L1154.87 485.11 L1156.32 486.39 L1157.77 487.65 L1159.23 488.89 L1160.68 490.11 L1162.13 491.31 L1163.58 492.50 L1165.03 493.67 L1166.48 494.82 L1167.93 495.96 L1169.38 497.07 L1170.83 498.18 L1172.28 499.26 L1173.73 500.33 L1175.19 501.39 L1176.64 502.43 L1178.09 503.45 L1179.54 504.46 L1180.99 505.46 L1182.44 506.44 L1183.89 507.40 L1185.34 508.36 L1186.79 509.29 L1188.24 510.22 L1189.69 511.13 L1191.15 512.03 L1192.60 512.91 L1194.05 513.78 L1195.50 514.64 L1196.95 515.49 L1198.40 516.32 L1199.85 517.15 L1201.30 517.96 L1202.75 518.76 L1204.20 519.54 L1205.66 520.32 L1207.11 521.08 L1208.56 521.83 L1210.01 522.58 L1211.46 523.31 L1212.91 524.03 L1214.36 524.74 L1215.81 525.44 L1217.26 526.13 L1218.71 526.81 L1220.16 527.48 L1221.62 528.14 L1223.07 528.79 L1224.52 529.43 L1225.97 530.06 L1227.42 530.68 L1228.87 531.29 L1230.32 531.90 L1231.77 532.49 L1233.22 533.08 L1234.67 533.66 L1236.12 534.23 L1237.58 534.79 L1239.03 535.34 L1240.48 535.89 L1241.93 536.43 L1243.38 536.96 L1244.83 537.48 L1246.28 537.99 L1247.73 538.50 L1249.18 539.00 L1250.63 539.49 L1252.09 539.98 L1253.54 540.45 L1254.99 540.92 L1256.44 541.39 L1257.89 541.85 L1259.34 542.30 L1260.79 542.74 L1262.24 543.18 L1263.69 543.61 L1265.14 544.03 L1266.59 544.45 L1268.05 544.87 L1269.50 545.27 L1270.95 545.67 L1272.40 546.07 L1273.85 546.46 L1275.30 546.84" fill="none" stroke="#00ffff" stroke-opacity="0.8" stroke-width="5.08" stroke-dasharray="18.8 8.13"/>
</g>
<g clip-path="url(#c02)" shape-rendering="crispEdges">
<rect x="1547.60" y="92.20" width="23.38" height="24.63" fill="#b0dd2f"/>
<rect x="1570.38" y="92.20" width="23.38" height="24.63" fill="#54c568"/>
<rect x="1593.16" y="92.20" width="23.38" height="24.63" fill="#1f9f88"/>
<rect x="1615.94" y="92.20" width="23.38" height="24.63" fill="#287c8e"/>
<rect x="1638.72" y="92.20" width="23.38" height="24.63" fill="#31668e"/>
<rect x="1661.50" y="92.20" width="23.38" height="24.63" fill="#33638d"/>
<rect x="1684.28" y="92.20" width="23.38" height="24.63" fill="#31678e"/>
<rect x="1707.06" y="92.20" width="23.38" height="24.63" fill="#2f6c8e"/>
<rect x="1729.84" y="92.20" width="23.38" height="24.63" fill="#365d8d"/>
<rect x="1752.62" y="92.20" width="23.38" height="24.63" fill="#424186"/>
<rect x="1775.40" y="92.20" width="23.38" height="24.63" fill="#482979"/>
<rect x="1798.18" y="92.20" width="23.38" height="24.63" fill="#481668"/>
<rect x="1820.96" y="92.20" width="23.38" height="24.63" fill="#46075a"/>
<rect x="1843.74" y="92.20" width="23.38" height="24.63" fill="#440154"/>
<rect x="1866.52" y="92.20" width="23.38" height="24.63" fill="#440154"/>
<rect x="1889.30" y="92.20" width="23.38" height="24.63" fill="#440154"/>
<rect x="1912.08" y="92.20" width="23.38" height="24.63" fill="#440154"/>
<rect x="1934.86" y="92.20" width="23.38" height="24.63" fill="#440154"/>
<rect x="1957.64" y="92.20" width="23.38" height="24.63" fill="#440154"/>
<rect x="1980.42" y="92.20" width="23.38" height="24.63" fill="#440154"/>
<rect x="1547.60" y="116.23" width="23.38" height="24.63" fill="#d0e11c"/>
<rect x="1570.38" y="116.23" width="23.38" height="24.63" fill="#77d153"/>
<rect x="1593.16" y="116.23" width="23.38" height="24.63" fill="#25ab82"/>
<rect x="1615.94" y="116.23" width="23.38" height="24.63" fill="#24868e"/>
<rect x="1638.72" y="116.23" width="23.38" height="24.63" fill="#2c718e"/>
<rect x="1661.50" y="116.23" width="23.38" height="24.63" fill="#33638d"/>
<rect x="1684.28" y="116.23" width="23.38" height="24.63" fill="#32658e"/>
<rect x="1707.06" y="116.23" width="23.38" height="24.63" fill="#2e6d8e"/>
<rect x="1729.84" y="116.23" width="23.38" height="24.63" fill="#355e8d"/>
<rect x="1752.62" y="116.23" width="23.38" height="24.63" fill="#414487"/>
<rect x="1775.40" y="116.23" width="23.38" height="24.63" fill="#472d7b"/>
<rect x="1798.18" y="116.23" width="23.38" height="24.63" fill="#481668"/>
<rect x="1820.96" y="116.23" width="23.38" height="24.63" fill="#46075a"/>
<rect x="1843.74" y="116.23" width="23.38" height="24.63" fill="#440154"/>
<rect x="1866.52" y="116.23" width="23.38" height="24.63" fill="#440154"/>
<rect x="1889.30" y="116.23" width="23.38" height="24.63" fill="#440154"/>
<rect x="1912.08" y="116.23" width="23.38" height="24.63" fill="#440154"/>
<rect x="1934.86" y="116.23" width="23.38" height="24.63" fill="#440154"/>
<rect x="1957.64" y="116.23" width="23.38" height="24.63" fill="#440154"/>
<rect x="1980.42" y="116.23" width="23.38" height="24.63" fill="#440154"/>
<rect x="1547.60" y="140.26" width="23.38" height="24.63" fill="#dfe318"/>
<rect x="1570.38" y="140.26" width="23.38" height="24.63" fill="#a8db34"/>
<rect x="1593.16" y="140.26" width="23.38" height="24.63" fill="#40bd72"/>
<rect x="1615.94" y="140.26" width="23.38" height="24.63" fill="#1f968b"/>
<rect x="1638.72" y="140.26" width="23.38" height="24.63" fill="#2a788e"/>
<rect x="1661.50" y="140.26" width="23.38" height="24.63" fill="#2f6c8e"/>
<rect x="1684.28" y="140.26" width="23.38" height="24.63" fill="#30698e"/>
<rect x="1707.06" y="140.26" width="23.38" height="24.63" fill="#2f6c8e"/>
<rect x="1729.84" y="140.26" width="23.38" height="24.63" fill="#32648e"/>
<rect x="1752.62" y="140.26" width="23.38" height="24.63" fill="#3e4c8a"/>
<rect x="1775.40" y="140.26" width="23.38" height="24.63" fill="#472f7d"/>
<rect x="1798.18" y="140.26" width="23.38" height="24.63" fill="#481a6c"/>
<rect x="1820.96" y="140.26" width="23.38" height="24.63" fill="#46075a"/>
<rect x="1843.74" y="140.26" width="23.38" height="24.63" fill="#440154"/>
<rect x="1866.52" y="140.26" width="23.38" height="24.63" fill="#440154"/>
<rect x="1889.30" y="140.26" width="23.38" height="24.63" fill="#440154"/>
<rect x="1912.08" y="140.26" width="23.38" height="24.63" fill="#440154"/>
<rect x="1934.86" y="140.26" width="23.38" height="24.63" fill="#440154"/>
<rect x="1957.64" y="140.26" width="23.38" height="24.63" fill="#440154"/>
<rect x="1980.42" y="140.26" width="23.38" height="24.63" fill="#440154"/>
<rect x="1547.60" y="164.29" width="23.38" height="24.63" fill="#ece51b"/>
<rect x="1570.38" y="164.29" width="23.38" height="24.63" fill="#cae11f"/>
<rect x="1593.16" y="164.29" width="23.38" height="24.63" fill="#77d153"/>
<rect x="1615.94" y="164.29" width="23.38" height="24.63" fill="#25ab82"/>
<rect x="1638.72" y="164.29" width="23.38" height="24.63" fill="#24868e"/>
<rect x="1661.50" y="164.29" width="23.38" height="24.63" fill="#2c738e"/>
<rect x="1684.28" y="164.29" width="23.38" height="24.63" fill="#2f6c8e"/>
<rect x="1707.06" y="164.29" width="23.38" height="24.63" fill="#2f6b8e"/>
<rect x="1729.84" y="164.29" width="23.38" height="24.63" fill="#32648e"/>
<rect x="1752.62" y="164.29" width="23.38" height="24.63" fill="#3e4c8a"/>
<rect x="1775.40" y="164.29" width="23.38" height="24.63" fill="#443983"/>
<rect x="1798.18" y="164.29" width="23.38" height="24.63" fill="#481d6f"/>
<rect x="1820.96" y="164.29" width="23.38" height="24.63" fill="#460b5e"/>
<rect x="1843.74" y="164.29" width="23.38" height="24.63" fill="#450457"/>
<rect x="1866.52" y="164.29" width="23.38" height="24.63" fill="#440154"/>
<rect x="1889.30" y="164.29" width="23.38" height="24.63" fill="#440154"/>
<rect x="1912.08" y="164.29" width="23.38" height="24.63" fill="#440154"/>
<rect x="1934.86" y="164.29" width="23.38" height="24.63" fill="#440154"/>
<rect x="1957.64" y="164.29" width="23.38" height="24.63" fill="#440154"/>
<rect x="1980.42" y="164.29" width="23.38" height="24.63" fill="#440154"/>
<rect x="1547.60" y="188.32" width="23.38" height="24.63" fill="#f1e51d"/>
<rect x="1570.38" y="188.32" width="23.38" height="24.63" fill="#dfe318"/>
<rect x="1593.16" y="188.32" width="23.38" height="24.63" fill="#a8db34"/>
<rect x="1615.94" y="188.32" width="23.38" height="24.63" fill="#44bf70"/>
<rect x="1638.72" y="188.32" width="23.38" height="24.63" fill="#1f9f88"/>
<rect x="1661.50" y="188.32" width="23.38" height="24.63" fill="#27808e"/>
<rect x="1684.28" y="188.32" width="23.38" height="24.63" fill="#2c718e"/>
<rect x="1707.06" y="188.32" width="23.38" height="24.63" fill="#2f6c8e"/>
<rect x="1729.84" y="188.32" width="23.38" height="24.63" fill="#32658e"/>
<rect x="1752.62" y="188.32" width="23.38" height="24.63" fill="#375a8c"/>
<rect x="1775.40" y="188.32" width="23.38" height="24.63" fill="#424086"/>
<rect x="1798.18" y="188.32" width="23.38" height="24.63" fill="#482475"/>
<rect x="1820.96" y="188.32" width="23.38" height="24.63" fill="#470e61"/>
<rect x="1843.74" y="188.32" width="23.38" height="24.63" fill="#450457"/>
<rect x="1866.52" y="188.32" width="23.38" height="24.63" fill="#440154"/>
<rect x="1889.30" y="188.32" width="23.38" height="24.63" fill="#440154"/>
<rect x="1912.08" y="188.32" width="23.38" height="24.63" fill="#440154"/>
<rect x="1934.86" y="188.32" width="23.38" height="24.63" fill="#440154"/>
<rect x="1957.64" y="188.32" width="23.38" height="24.63" fill="#440154"/>
<rect x="1980.42" y="188.32" width="23.38" height="24.63" fill="#440154"/>
<rect x="1547.60" y="212.35" width="23.38" height="24.63" fill="#f8e621"/>
<rect x="1570.38" y="212.35" width="23.38" height="24.63" fill="#dfe318"/>
<rect x="1593.16" y="212.35" width="23.38" height="24.63" fill="#b0dd2f"/>
<rect x="1615.94" y="212.35" width="23.38" height="24.63" fill="#6ece58"/>
<rect x="1638.72" y="212.35" width="23.38" height="24.63" fill="#26ad81"/>
<rect x="1661.50" y="212.35" width="23.38" height="24.63" fill="#21918c"/>
<rect x="1684.28" y="212.35" width="23.38" height="24.63" fill="#287c8e"/>
<rect x="1707.06" y="212.35" width="23.38" height="24.63" fill="#2d718e"/>
<rect x="1729.84" y="212.35" width="23.38" height="24.63" fill="#31678e"/>
<rect x="1752.62" y="212.35" width="23.38" height="24.63" fill="#355e8d"/>
<rect x="1775.40" y="212.35" width="23.38" height="24.63" fill="#3f4788"/>
<rect x="1798.18" y="212.35" width="23.38" height="24.63" fill="#482475"/>
<rect x="1820.96" y="212.35" width="23.38" height="24.63" fill="#460b5e"/>
<rect x="1843.74" y="212.35" width="23.38" height="24.63" fill="#450457"/>
<rect x="1866.52" y="212.35" width="23.38" height="24.63" fill="#440154"/>
<rect x="1889.30" y="212.35" width="23.38" height="24.63" fill="#440154"/>
<rect x="1912.08" y="212.35" width="23.38" height="24.63" fill="#440154"/>
<rect x="1934.86" y="212.35" width="23.38" height="24.63" fill="#440154"/>
<rect x="1957.64" y="212.35" width="23.38" height="24.63" fill="#440154"/>
<rect x="1980.42" y="212.35" width="23.38" height="24.63" fill="#440154"/>
<rect x="1547.60" y="236.38" width="23.38" height="24.63" fill="#fde725"/>
<rect x="1570.38" y="236.38" width="23.38" height="24.63" fill="#ece51b"/>
<rect x="1593.16" y="236.38" width="23.38" height="24.63" fill="#d0e11c"/>
<rect x="1615.94" y="236.38" width="23.38" height="24.63" fill="#8ed645"/>
<rect x="1638.72" y="236.38" width="23.38" height="24.63" fill="#44bf70"/>
<rect x="1661.50" y="236.38" width="23.38" height="24.63" fill="#1fa188"/>
<rect x="1684.28" y="236.38" width="23.38" height="24.63" fill="#238a8d"/>
<rect x="1707.06" y="236.38" width="23.38" height="24.63" fill="#2d718e"/>
<rect x="1729.84" y="236.38" width="23.38" height="24.63" fill="#355f8d"/>
<rect x="1752.62" y="236.38" width="23.38" height="24.63" fill="#365c8d"/>
<rect x="1775.40" y="236.38" width="23.38" height="24.63" fill="#414287"/>
<rect x="1798.18" y="236.38" width="23.38" height="24.63" fill="#482071"/>
<rect x="1820.96" y="236.38" width="23.38" height="24.63" fill="#46085c"/>
<rect x="1843.74" y="236.38" width="23.38" height="24.63" fill="#440154"/>
<rect x="1866.52" y="236.38" width="23.38" height="24.63" fill="#440154"/>
<rect x="1889.30" y="236.38" width="23.38" height="24.63" fill="#440154"/>
<rect x="1912.08" y="236.38" width="23.38" height="24.63" fill="#440154"/>
<rect x="1934.86" y="236.38" width="23.38" height="24.63" fill="#440154"/>
<rect x="1957.64" y="236.38" width="23.38" height="24.63" fill="#440154"/>
<rect x="1980.42" y="236.38" width="23.38" height="24.63" fill="#440154"/>
<rect x="1547.60" y="260.41" width="23.38" height="24.63" fill="#fde725"/>
<rect x="1570.38" y="260.41" width="23.38" height="24.63" fill="#f1e51d"/>
<rect x="1593.16" y="260.41" width="23.38" height="24.63" fill="#d8e219"/>
<rect x="1615.94" y="260.41" width="23.38" height="24.63" fill="#a0da39"/>
<rect x="1638.72" y="260.41" width="23.38" height="24.63" fill="#5ec962"/>
<rect x="1661.50" y="260.41" width="23.38" height="24.63" fill="#22a884"/>
<rect x="1684.28" y="260.41" width="23.38" height="24.63" fill="#21918c"/>
<rect x="1707.06" y="260.41" width="23.38" height="24.63" fill="#2c738e"/>
<rect x="1729.84" y="260.41" width="23.38" height="24.63" fill="#375a8c"/>
<rect x="1752.62" y="260.41" width="23.38" height="24.63" fill="#3e4989"/>
<rect x="1775.40" y="260.41" width="23.38" height="24.63" fill="#443983"/>
<rect x="1798.18" y="260.41" width="23.38" height="24.63" fill="#481b6d"/>
<rect x="1820.96" y="260.41" width="23.38" height="24.63" fill="#46085c"/>
<rect x="1843.74" y="260.41" width="23.38" height="24.63" fill="#440154"/>
<rect x="1866.52" y="260.41" width="23.38" height="24.63" fill="#440154"/>
<rect x="1889.30" y="260.41" width="23.38" height="24.63" fill="#440154"/>
<rect x="1912.08" y="260.41" width="23.38" height="24.63" fill="#440154"/>
<rect x="1934.86" y="260.41" width="23.38" height="24.63" fill="#440154"/>
<rect x="1957.64" y="260.41" width="23.38" height="24.63" fill="#440154"/>
<rect x="1980.42" y="260.41" width="23.38" height="24.63" fill="#440154"/>
<rect x="1547.60" y="284.44" width="23.38" height="24.63" fill="#fde725"/>
<rect x="1570.38" y="284.44" width="23.38" height="24.63" fill="#f1e51d"/>
<rect x="1593.16" y="284.44" width="23.38" height="24.63" fill="#d8e219"/>
<rect x="1615.94" y="284.44" width="23.38" height="24.63" fill="#a0da39"/>
<rect x="1638.72" y="284.44" width="23.38" height="24.63" fill="#69cd5b"/>
<rect x="1661.50" y="284.44" width="23.38" height="24.63" fill="#26ad81"/>
<rect x="1684.28" y="284.44" width="23.38" height="24.63" fill="#218e8d"/>
<rect x="1707.06" y="284.44" width="23.38" height="24.63" fill="#2c738e"/>
<rect x="1729.84" y="284.44" width="23.38" height="24.63" fill="#3b528b"/>
<rect x="1752.62" y="284.44" width="23.38" height="24.63" fill="#433e85"/>
<rect x="1775.40" y="284.44" width="23.38" height="24.63" fill="#472d7b"/>
<rect x="1798.18" y="284.44" width="23.38" height="24.63" fill="#481a6c"/>
<rect x="1820.96" y="284.44" width="23.38" height="24.63" fill="#46085c"/>
<rect x="1843.74" y="284.44" width="23.38" height="24.63" fill="#440154"/>
<rect x="1866.52" y="284.44" width="23.38" height="24.63" fill="#440154"/>
<rect x="1889.30" y="284.44" width="23.38" height="24.63" fill="#440154"/>
<rect x="1912.08" y="284.44" width="23.38" height="24.63" fill="#440154"/>
<rect x="1934.86" y="284.44" width="23.38" height="24.63" fill="#440154"/>
<rect x="1957.64" y="284.44" width="23.38" height="24.63" fill="#440154"/>
<rect x="1980.42" y="284.44" width="23.38" height="24.63" fill="#440154"/>
<rect x="1547.60" y="308.47" width="23.38" height="24.63" fill="#fde725"/>
<rect x="1570.38" y="308.47" width="23.38" height="24.63" fill="#ece51b"/>
<rect x="1593.16" y="308.47" width="23.38" height="24.63" fill="#cae11f"/>
<rect x="1615.94" y="308.47" width="23.38" height="24.63" fill="#98d83e"/>
<rect x="1638.72" y="308.47" width="23.38" height="24.63" fill="#52c569"/>
<rect x="1661.50" y="308.47" width="23.38" height="24.63" fill="#25ab82"/>
<rect x="1684.28" y="308.47" width="23.38" height="24.63" fill="#228b8d"/>
<rect x="1707.06" y="308.47" width="23.38" height="24.63" fill="#2c738e"/>
<rect x="1729.84" y="308.47" width="23.38" height="24.63" fill="#3d4e8a"/>
<rect x="1752.62" y="308.47" width="23.38" height="24.63" fill="#463480"/>
<rect x="1775.40" y="308.47" width="23.38" height="24.63" fill="#472a7a"/>
<rect x="1798.18" y="308.47" width="23.38" height="24.63" fill="#481769"/>
<rect x="1820.96" y="308.47" width="23.38" height="24.63" fill="#46085c"/>
<rect x="1843.74" y="308.47" width="23.38" height="24.63" fill="#440154"/>
<rect x="1866.52" y="308.47" width="23.38" height="24.63" fill="#440154"/>
<rect x="1889.30" y="308.47" width="23.38" height="24.63" fill="#440154"/>
<rect x="1912.08" y="308.47" width="23.38" height="24.63" fill="#440154"/>
<rect x="1934.86" y="308.47" width="23.38" height="24.63" fill="#440154"/>
<rect x="1957.64" y="308.47" width="23.38" height="24.63" fill="#440154"/>
<rect x="1980.42" y="308.47" width="23.38" height="24.63" fill="#440154"/>
<rect x="1547.60" y="332.50" width="23.38" height="24.63" fill="#ece51b"/>
<rect x="1570.38" y="332.50" width="23.38" height="24.63" fill="#cae11f"/>
<rect x="1593.16" y="332.50" width="23.38" height="24.63" fill="#9bd93c"/>
<rect x="1615.94" y="332.50" width="23.38" height="24.63" fill="#69cd5b"/>
<rect x="1638.72" y="332.50" width="23.38" height="24.63" fill="#34b679"/>
<rect x="1661.50" y="332.50" width="23.38" height="24.63" fill="#1f9f88"/>
<rect x="1684.28" y="332.50" width="23.38" height="24.63" fill="#24868e"/>
<rect x="1707.06" y="332.50" width="23.38" height="24.63" fill="#2f6b8e"/>
<rect x="1729.84" y="332.50" width="23.38" height="24.63" fill="#3b518b"/>
<rect x="1752.62" y="332.50" width="23.38" height="24.63" fill="#463480"/>
<rect x="1775.40" y="332.50" width="23.38" height="24.63" fill="#481d6f"/>
<rect x="1798.18" y="332.50" width="23.38" height="24.63" fill="#470e61"/>
<rect x="1820.96" y="332.50" width="23.38" height="24.63" fill="#450457"/>
<rect x="1843.74" y="332.50" width="23.38" height="24.63" fill="#440154"/>
<rect x="1866.52" y="332.50" width="23.38" height="24.63" fill="#440154"/>
<rect x="1889.30" y="332.50" width="23.38" height="24.63" fill="#440154"/>
<rect x="1912.08" y="332.50" width="23.38" height="24.63" fill="#440154"/>
<rect x="1934.86" y="332.50" width="23.38" height="24.63" fill="#440154"/>
<rect x="1957.64" y="332.50" width="23.38" height="24.63" fill="#440154"/>
<rect x="1980.42" y="332.50" width="23.38" height="24.63" fill="#440154"/>
<rect x="1547.60" y="356.53" width="23.38" height="24.63" fill="#d0e11c"/>
<rect x="1570.38" y="356.53" width="23.38" height="24.63" fill="#9bd93c"/>
<rect x="1593.16" y="356.53" width="23.38" height="24.63" fill="#65cb5e"/>
<rect x="1615.94" y="356.53" width="23.38" height="24.63" fill="#34b679"/>
<rect x="1638.72" y="356.53" width="23.38" height="24.63" fill="#1fa187"/>
<rect x="1661.50" y="356.53" width="23.38" height="24.63" fill="#218e8d"/>
<rect x="1684.28" y="356.53" width="23.38" height="24.63" fill="#287d8e"/>
<rect x="1707.06" y="356.53" width="23.38" height="24.63" fill="#32658e"/>
<rect x="1729.84" y="356.53" width="23.38" height="24.63" fill="#3e4c8a"/>
<rect x="1752.62" y="356.53" width="23.38" height="24.63" fill="#46337f"/>
<rect x="1775.40" y="356.53" width="23.38" height="24.63" fill="#481a6c"/>
<rect x="1798.18" y="356.53" width="23.38" height="24.63" fill="#470e61"/>
<rect x="1820.96" y="356.53" width="23.38" height="24.63" fill="#450457"/>
<rect x="1843.74" y="356.53" width="23.38" height="24.63" fill="#440154"/>
<rect x="1866.52" y="356.53" width="23.38" height="24.63" fill="#440154"/>
<rect x="1889.30" y="356.53" width="23.38" height="24.63" fill="#440154"/>
<rect x="1912.08" y="356.53" width="23.38" height="24.63" fill="#440154"/>
<rect x="1934.86" y="356.53" width="23.38" height="24.63" fill="#440154"/>
<rect x="1957.64" y="356.53" width="23.38" height="24.63" fill="#440154"/>
<rect x="1980.42" y="356.53" width="23.38" height="24.63" fill="#440154"/>
<rect x="1547.60" y="380.56" width="23.38" height="24.63" fill="#8ed645"/>
<rect x="1570.38" y="380.56" width="23.38" height="24.63" fill="#52c569"/>
<rect x="1593.16" y="380.56" width="23.38" height="24.63" fill="#28ae80"/>
<rect x="1615.94" y="380.56" width="23.38" height="24.63" fill="#1f9f88"/>
<rect x="1638.72" y="380.56" width="23.38" height="24.63" fill="#238a8d"/>
<rect x="1661.50" y="380.56" width="23.38" height="24.63" fill="#2a778e"/>
<rect x="1684.28" y="380.56" width="23.38" height="24.63" fill="#32648e"/>
<rect x="1707.06" y="380.56" width="23.38" height="24.63" fill="#3c508b"/>
<rect x="1729.84" y="380.56" width="23.38" height="24.63" fill="#443983"/>
<rect x="1752.62" y="380.56" width="23.38" height="24.63" fill="#472d7b"/>
<rect x="1775.40" y="380.56" width="23.38" height="24.63" fill="#471365"/>
<rect x="1798.18" y="380.56" width="23.38" height="24.63" fill="#460b5e"/>
<rect x="1820.96" y="380.56" width="23.38" height="24.63" fill="#440154"/>
<rect x="1843.74" y="380.56" width="23.38" height="24.63" fill="#440154"/>
<rect x="1866.52" y="380.56" width="23.38" height="24.63" fill="#440154"/>
<rect x="1889.30" y="380.56" width="23.38" height="24.63" fill="#440154"/>
<rect x="1912.08" y="380.56" width="23.38" height="24.63" fill="#440154"/>
<rect x="1934.86" y="380.56" width="23.38" height="24.63" fill="#440154"/>
<rect x="1957.64" y="380.56" width="23.38" height="24.63" fill="#440154"/>
<rect x="1980.42" y="380.56" width="23.38" height="24.63" fill="#440154"/>
<rect x="1547.60" y="404.59" width="23.38" height="24.63" fill="#21918c"/>
<rect x="1570.38" y="404.59" width="23.38" height="24.63" fill="#24aa83"/>
<rect x="1593.16" y="404.59" width="23.38" height="24.63" fill="#21918c"/>
<rect x="1615.94" y="404.59" width="23.38" height="24.63" fill="#26828e"/>
<rect x="1638.72" y="404.59" width="23.38" height="24.63" fill="#2d708e"/>
<rect x="1661.50" y="404.59" width="23.38" height="24.63" fill="#355f8d"/>
<rect x="1684.28" y="404.59" width="23.38" height="24.63" fill="#3e4c8a"/>
<rect x="1707.06" y="404.59" width="23.38" height="24.63" fill="#443a83"/>
<rect x="1729.84" y="404.59" width="23.38" height="24.63" fill="#472a7a"/>
<rect x="1752.62" y="404.59" width="23.38" height="24.63" fill="#482475"/>
<rect x="1775.40" y="404.59" width="23.38" height="24.63" fill="#460b5e"/>
<rect x="1798.18" y="404.59" width="23.38" height="24.63" fill="#46085c"/>
<rect x="1820.96" y="404.59" width="23.38" height="24.63" fill="#440154"/>
<rect x="1843.74" y="404.59" width="23.38" height="24.63" fill="#440154"/>
<rect x="1866.52" y="404.59" width="23.38" height="24.63" fill="#440154"/>
<rect x="1889.30" y="404.59" width="23.38" height="24.63" fill="#440154"/>
<rect x="1912.08" y="404.59" width="23.38" height="24.63" fill="#440154"/>
<rect x="1934.86" y="404.59" width="23.38" height="24.63" fill="#440154"/>
<rect x="1957.64" y="404.59" width="23.38" height="24.63" fill="#440154"/>
<rect x="1980.42" y="404.59" width="23.38" height="24.63" fill="#440154"/>
<rect x="1547.60" y="428.62" width="23.38" height="24.63" fill="#460b5e"/>
<rect x="1570.38" y="428.62" width="23.38" height="24.63" fill="#472e7c"/>
<rect x="1593.16" y="428.62" width="23.38" height="24.63" fill="#472e7c"/>
<rect x="1615.94" y="428.62" width="23.38" height="24.63" fill="#414487"/>
<rect x="1638.72" y="428.62" width="23.38" height="24.63" fill="#3e4c8a"/>
<rect x="1661.50" y="428.62" width="23.38" height="24.63" fill="#414487"/>
<rect x="1684.28" y="428.62" width="23.38" height="24.63" fill="#443a83"/>
<rect x="1707.06" y="428.62" width="23.38" height="24.63" fill="#472a7a"/>
<rect x="1729.84" y="428.62" width="23.38" height="24.63" fill="#481a6c"/>
<rect x="1752.62" y="428.62" width="23.38" height="24.63" fill="#471365"/>
<rect x="1775.40" y="428.62" width="23.38" height="24.63" fill="#46085c"/>
<rect x="1798.18" y="428.62" width="23.38" height="24.63" fill="#450457"/>
<rect x="1820.96" y="428.62" width="23.38" height="24.63" fill="#440154"/>
<rect x="1843.74" y="428.62" width="23.38" height="24.63" fill="#440154"/>
<rect x="1866.52" y="428.62" width="23.38" height="24.63" fill="#440154"/>
<rect x="1889.30" y="428.62" width="23.38" height="24.63" fill="#440154"/>
<rect x="1912.08" y="428.62" width="23.38" height="24.63" fill="#440154"/>
<rect x="1934.86" y="428.62" width="23.38" height="24.63" fill="#440154"/>
<rect x="1957.64" y="428.62" width="23.38" height="24.63" fill="#440154"/>
<rect x="1980.42" y="428.62" width="23.38" height="24.63" fill="#440154"/>
<rect x="1547.60" y="452.65" width="23.38" height="24.63" fill="#440154"/>
<rect x="1570.38" y="452.65" width="23.38" height="24.63" fill="#440154"/>
<rect x="1593.16" y="452.65" width="23.38" height="24.63" fill="#440154"/>
<rect x="1615.94" y="452.65" width="23.38" height="24.63" fill="#440154"/>
<rect x="1638.72" y="452.65" width="23.38" height="24.63" fill="#440154"/>
<rect x="1661.50" y="452.65" width="23.38" height="24.63" fill="#440154"/>
<rect x="1684.28" y="452.65" width="23.38" height="24.63" fill="#471365"/>
<rect x="1707.06" y="452.65" width="23.38" height="24.63" fill="#481d6f"/>
<rect x="1729.84" y="452.65" width="23.38" height="24.63" fill="#471365"/>
<rect x="1752.62" y="452.65" width="23.38" height="24.63" fill="#460b5e"/>
<rect x="1775.40" y="452.65" width="23.38" height="24.63" fill="#440154"/>
<rect x="1798.18" y="452.65" width="23.38" height="24.63" fill="#440154"/>
<rect x="1820.96" y="452.65" width="23.38" height="24.63" fill="#440154"/>
<rect x="1843.74" y="452.65" width="23.38" height="24.63" fill="#440154"/>
<rect x="1866.52" y="452.65" width="23.38" height="24.63" fill="#440154"/>
<rect x="1889.30" y="452.65" width="23.38" height="24.63" fill="#440154"/>
<rect x="1912.08" y="452.65" width="23.38" height="24.63" fill="#440154"/>
<rect x="1934.86" y="452.65" width="23.38" height="24.63" fill="#440154"/>
<rect x="1957.64" y="452.65" width="23.38" height="24.63" fill="#440154"/>
<rect x="1980.42" y="452.65" width="23.38" height="24.63" fill="#440154"/>
<rect x="1547.60" y="476.68" width="23.38" height="24.63" fill="#440154"/>
<rect x="1570.38" y="476.68" width="23.38" height="24.63" fill="#440154"/>
<rect x="1593.16" y="476.68" width="23.38" height="24.63" fill="#440154"/>
<rect x="1615.94" y="476.68" width="23.38" height="24.63" fill="#440154"/>
<rect x="1638.72" y="476.68" width="23.38" height="24.63" fill="#440154"/>
<rect x="1661.50" y="476.68" width="23.38" height="24.63" fill="#440154"/>
<rect x="1684.28" y="476.68" width="23.38" height="24.63" fill="#440154"/>
<rect x="1707.06" y="476.68" width="23.38" height="24.63" fill="#440154"/>
<rect x="1729.84" y="476.68" width="23.38" height="24.63" fill="#440154"/>
<rect x="1752.62" y="476.68" width="23.38" height="24.63" fill="#440154"/>
<rect x="1775.40" y="476.68" width="23.38" height="24.63" fill="#440154"/>
<rect x="1798.18" y="476.68" width="23.38" height="24.63" fill="#440154"/>
<rect x="1820.96" y="476.68" width="23.38" height="24.63" fill="#440154"/>
<rect x="1843.74" y="476.68" width="23.38" height="24.63" fill="#440154"/>
<rect x="1866.52" y="476.68" width="23.38" height="24.63" fill="#440154"/>
<rect x="1889.30" y="476.68" width="23.38" height="24.63" fill="#440154"/>
<rect x="1912.08" y="476.68" width="23.38" height="24.63" fill="#440154"/>
<rect x="1934.86" y="476.68" width="23.38" height="24.63" fill="#440154"/>
<rect x="1957.64" y="476.68" width="23.38" height="24.63" fill="#440154"/>
<rect x="1980.42" y="476.68" width="23.38" height="24.63" fill="#440154"/>
<rect x="1547.60" y="500.71" width="23.38" height="24.63" fill="#440154"/>
<rect x="1570.38" y="500.71" width="23.38" height="24.63" fill="#440154"/>
<rect x="1593.16" y="500.71" width="23.38" height="24.63" fill="#440154"/>
<rect x="1615.94" y="500.71" width="23.38" height="24.63" fill="#440154"/>
<rect x="1638.72" y="500.71" width="23.38" height="24.63" fill="#440154"/>
<rect x="1661.50" y="500.71" width="23.38" height="24.63" fill="#440154"/>
<rect x="1684.28" y="500.71" width="23.38" height="24.63" fill="#440154"/>
<rect x="1707.06" y="500.71" width="23.38" height="24.63" fill="#440154"/>
<rect x="1729.84" y="500.71" width="23.38" height="24.63" fill="#440154"/>
<rect x="1752.62" y="500.71" width="23.38" height="24.63" fill="#440154"/>
<rect x="1775.40" y="500.71" width="23.38" height="24.63" fill="#440154"/>
<rect x="1798.18" y="500.71" width="23.38" height="24.63" fill="#440154"/>
<rect x="1820.96" y="500.71" width="23.38" height="24.63" fill="#440154"/>
<rect x="1843.74" y="500.71" width="23.38" height="24.63" fill="#440154"/>
<rect x="1866.52" y="500.71" width="23.38" height="24.63" fill="#440154"/>
<rect x="1889.30" y="500.71" width="23.38" height="24.63" fill="#440154"/>
<rect x="1912.08" y="500.71" width="23.38" height="24.63" fill="#440154"/>
<rect x="1934.86" y="500.71" width="23.38" height="24.63" fill="#440154"/>
<rect x="1957.64" y="500.71" width="23.38" height="24.63" fill="#440154"/>
<rect x="1980.42" y="500.71" width="23.38" height="24.63" fill="#440154"/>
<rect x="1547.60" y="524.74" width="23.38" height="24.63" fill="#440154"/>
<rect x="1570.38" y="524.74" width="23.38" height="24.63" fill="#440154"/>
<rect x="1593.16" y="524.74" width="23.38" height="24.63" fill="#440154"/>
<rect x="1615.94" y="524.74" width="23.38" height="24.63" fill="#440154"/>
<rect x="1638.72" y="524.74" width="23.38" height="24.63" fill="#440154"/>
<rect x="1661.50" y="524.74" width="23.38" height="24.63" fill="#440154"/>
<rect x="1684.28" y="524.74" width="23.38" height="24.63" fill="#440154"/>
<rect x="1707.06" y="524.74" width="23.38" height="24.63" fill="#440154"/>
<rect x="1729.84" y="524.74" width="23.38" height="24.63" fill="#440154"/>
<rect x="1752.62" y="524.74" width="23.38" height="24.63" fill="#440154"/>
<rect x="1775.40" y="524.74" width="23.38" height="24.63" fill="#440154"/>
<rect x="1798.18" y="524.74" width="23.38" height="24.63" fill="#440154"/>
<rect x="1820.96" y="524.74" width="23.38" height="24.63" fill="#440154"/>
<rect x="1843.74" y="524.74" width="23.38" height="24.63" fill="#440154"/>
<rect x="1866.52" y="524.74" width="23.38" height="24.63" fill="#440154"/>
<rect x="1889.30" y="524.74" width="23.38" height="24.63" fill="#440154"/>
<rect x="1912.08" y="524.74" width="23.38" height="24.63" fill="#440154"/>
<rect x="1934.86" y="524.74" width="23.38" height="24.63" fill="#440154"/>
<rect x="1957.64" y="524.74" width="23.38" height="24.63" fill="#440154"/>
<rect x="1980.42" y="524.74" width="23.38" height="24.63" fill="#440154"/>
<rect x="1547.60" y="548.77" width="23.38" height="24.63" fill="#440154"/>
<rect x="1570.38" y="548.77" width="23.38" height="24.63" fill="#440154"/>
<rect x="1593.16" y="548.77" width="23.38" height="24.63" fill="#440154"/>
<rect x="1615.94" y="548.77" width="23.38" height="24.63" fill="#440154"/>
<rect x="1638.72" y="548.77" width="23.38" height="24.63" fill="#440154"/>
<rect x="1661.50" y="548.77" width="23.38" height="24.63" fill="#440154"/>
<rect x="1684.28" y="548.77" width="23.38" height="24.63" fill="#440154"/>
<rect x="1707.06" y="548.77" width="23.38" height="24.63" fill="#440154"/>
<rect x="1729.84" y="548.77" width="23.38" height="24.63" fill="#440154"/>
<rect x="1752.62" y="548.77" width="23.38" height="24.63" fill="#440154"/>
<rect x="1775.40" y="548.77" width="23.38" height="24.63" fill="#440154"/>
<rect x="1798.18" y="548.77" width="23.38" height="24.63" fill="#440154"/>
<rect x="1820.96" y="548.77" width="23.38" height="24.63" fill="#440154"/>
<rect x="1843.74" y="548.77" width="23.38" height="24.63" fill="#440154"/>
<rect x="1866.52" y="548.77" width="23.38" height="24.63" fill="#440154"/>
<rect x="1889.30" y="548.77" width="23.38" height="24.63" fill="#440154"/>
<rect x="1912.08" y="548.77" width="23.38" height="24.63" fill="#440154"/>
<rect x="1934.86" y="548.77" width="23.38" height="24.63" fill="#440154"/>
<rect x="1957.64" y="548.77" width="23.38" height="24.63" fill="#440154"/>
<rect x="1980.42" y="548.77" width="23.38" height="24.63" fill="#440154"/>
</g>
<g clip-path="url(#c02)">
<path d="M1714.12 572.80 L1714.12 92.20" fill="none" stroke="#00ffff" stroke-opacity="0.8" stroke-width="5.08" stroke-dasharray="18.8 8.13"/>
<path d="M1714.46 92.20 L1715.91 99.20 L1717.37 106.09 L1718.82 112.89 L1720.27 119.58 L1721.72 126.18 L1723.17 132.68 L1724.62 139.09 L1726.07 145.41 L1727.52 151.63 L1728.97 157.76 L1730.42 163.80 L1731.87 169.76 L1733.33 175.62 L1734.78 181.41 L1736.23 187.11 L1737.68 192.72 L1739.13 198.25 L1740.58 203.71 L1742.03 209.08 L1743.48 214.38 L1744.93 219.59 L1746.38 224.74 L1747.84 229.80 L1749.29 234.80 L1750.74 239.72 L1752.19 244.57 L1753.64 249.35 L1755.09 254.06 L1756.54 258.70 L1757.99 263.27 L1759.44 267.78 L1760.89 272.22 L1762.34 276.59 L1763.80 280.91 L1765.25 285.16 L1766.70 289.34 L1768.15 293.47 L1769.60 297.54 L1771.05 301.54 L1772.50 305.49 L1773.95 309.38 L1775.40 313.22 L1776.85 317.00 L1778.30 320.72 L1779.76 324.39 L1781.21 328.01 L1782.66 331.57 L1784.11 335.09 L1785.56 338.55 L1787.01 341.96 L1788.46 345.32 L1789.91 348.63 L1791.36 351.89 L1792.81 355.11 L1794.27 358.28 L1795.72 361.40 L1797.17 364.48 L1798.62 367.51 L1800.07 370.50 L1801.52 373.45 L1802.97 376.35 L1804.42 379.21 L1805.87 382.03 L1807.32 384.81 L1808.77 387.54 L1810.23 390.24 L1811.68 392.90 L1813.13 395.52 L1814.58 398.10 L1816.03 400.64 L1817.48 403.15 L1818.93 405.62 L1820.38 408.05 L1821.83 410.45 L1823.28 412.81 L1824.73 415.14 L1826.19 417.44 L1827.64 419.70 L1829.09 421.93 L1830.54 424.13 L1831.99 426.29 L1833.44 428.42 L1834.89 430.53 L1836.34 432.60 L1837.79 434.64 L1839.24 436.65 L1840.70 438.63 L1842.15 440.58 L1843.60 442.51 L1845.05 444.41 L1846.50 446.28 L1847.95 448.12 L1849.40 449.93 L1850.85 451.72 L1852.30 453.48 L1853.75 455.22 L1855.20 456.93 L1856.66 458.62 L1858.11 460.28 L1859.56 461.92 L1861.01 463.54 L1862.46 465.13 L1863.91 466.69 L1865.36 468.24 L1866.81 469.76 L1868.26 471.26 L1869.71 472.74 L1871.16 474.20 L1872.62 475.63 L1874.07 477.05 L1875.52 478.44 L1876.97 479.81 L1878.42 481.17 L1879.87 482.50 L1881.32 483.82 L1882.77 485.11 L1884.22 486.39 L1885.67 487.65 L1887.13 488.89 L1888.58 490.11 L1890.03 491.31 L1891.48 492.50 L1892.93 493.67 L1894.38 494.82 L1895.83 495.96 L1897.28 497.07 L1898.73 498.18 L1900.18 499.26 L1901.63 500.33 L1903.09 501.39 L1904.54 502.43 L1905.99 503.45 L1907.44 504.46 L1908.89 505.46 L1910.34 506.44 L1911.79 507.40 L1913.24 508.36 L1914.69 509.29 L1916.14 510.22 L1917.59 511.13 L1919.05 512.03 L1920.50 512.91 L1921.95 513.78 L1923.40 514.64 L1924.85 515.49 L1926.30 516.32 L1927.75 517.15 L1929.20 517.96 L1930.65 518.76 L1932.10 519.54 L1933.56 520.32 L1935.01 521.08 L1936.46 521.83 L1937.91 522.58 L1939.36 523.31 L1940.81 524.03 L1942.26 524.74 L1943.71 525.44 L1945.16 526.13 L1946.61 526.81 L1948.06 527.48 L1949.52 528.14 L1950.97 528.79 L1952.42 529.43 L1953.87 530.06 L1955.32 530.68 L1956.77 531.29 L1958.22 531.90 L1959.67 532.49 L1961.12 533.08 L1962.57 533.66 L1964.02 534.23 L1965.48 534.79 L1966.93 535.34 L1968.38 535.89 L1969.83 536.43 L1971.28 536.96 L1972.73 537.48 L1974.18 537.99 L1975.63 538.50 L1977.08 539.00 L1978.53 539.49 L1979.99 539.98 L1981.44 540.45 L1982.89 540.92 L1984.34 541.39 L1985.79 541.85 L1987.24 542.30 L1988.69 542.74 L1990.14 543.18 L1991.59 543.61 L1993.04 544.03 L1994.49 544.45 L1995.95 544.87 L1997.40 545.27 L1998.85 545.67 L2000.30 546.07 L2001.75 546.46 L2003.20 546.84" fill="none" stroke="#00ffff" stroke-opacity="0.8" stroke-width="5.08" stroke-dasharray="18.8 8.13"/>
</g>
<g clip-path="url(#c10)">
<circle cx="307.60" cy="703.00" r="8.90" fill="#1f9a8a"/>
<circle cx="333.90" cy="703.00" r="8.90" fill="#228b8d"/>
<circle cx="358.00" cy="725.20" r="8.90" fill="#2a768e"/>
<circle cx="280.60" cy="734.60" r="8.90" fill="#22a884"/>
<circle cx="258.40" cy="740.30" r="8.90" fill="#29af7f"/>
<circle cx="335.20" cy="748.90" r="8.90" fill="#228d8d"/>
<circle cx="271.10" cy="760.70" r="8.90" fill="#25ab82"/>
<circle cx="262.80" cy="767.10" r="8.90" fill="#29af7f"/>
<circle cx="310.40" cy="770.50" r="8.90" fill="#1e9d89"/>
<circle cx="291.40" cy="773.70" r="8.90" fill="#20a386"/>
<circle cx="388.50" cy="762.90" r="8.90" fill="#34618d"/>
<circle cx="397.50" cy="768.80" r="8.90" fill="#39568c"/>
<circle cx="389.70" cy="780.00" r="8.90" fill="#33628d"/>
<circle cx="271.70" cy="783.20" r="8.90" fill="#26ad81"/>
<circle cx="297.70" cy="787.00" r="8.90" fill="#20a486"/>
<circle cx="306.60" cy="788.90" r="8.90" fill="#1fa187"/>
<circle cx="321.20" cy="787.60" r="8.90" fill="#1f9a8a"/>
<circle cx="337.10" cy="788.90" r="8.90" fill="#20928c"/>
<circle cx="377.70" cy="795.90" r="8.90" fill="#2c738e"/>
<circle cx="287.60" cy="795.30" r="8.90" fill="#22a884"/>
<circle cx="398.50" cy="808.60" r="8.90" fill="#32658e"/>
<circle cx="337.70" cy="806.70" r="8.90" fill="#1f968b"/>
<circle cx="343.40" cy="813.00" r="8.90" fill="#1f948c"/>
<circle cx="284.40" cy="808.00" r="8.90" fill="#23a983"/>
<circle cx="292.70" cy="809.20" r="8.90" fill="#21a685"/>
<circle cx="311.10" cy="800.30" r="8.90" fill="#1fa088"/>
<circle cx="318.70" cy="800.30" r="8.90" fill="#1f9e89"/>
<circle cx="307.30" cy="810.50" r="8.90" fill="#1fa187"/>
<circle cx="317.40" cy="811.80" r="8.90" fill="#1fa088"/>
<circle cx="333.90" cy="819.40" r="8.90" fill="#1f9f88"/>
<circle cx="394.50" cy="825.10" r="8.90" fill="#2b758e"/>
<circle cx="285.10" cy="828.90" r="8.90" fill="#25ac82"/>
<circle cx="303.50" cy="829.50" r="8.90" fill="#23a983"/>
<circle cx="312.30" cy="829.50" r="8.90" fill="#22a884"/>
<circle cx="322.50" cy="830.80" r="8.90" fill="#21a585"/>
<circle cx="349.10" cy="835.90" r="8.90" fill="#1fa287"/>
<circle cx="366.90" cy="833.30" r="8.90" fill="#1f958b"/>
<circle cx="377.70" cy="839.70" r="8.90" fill="#20938c"/>
<circle cx="391.60" cy="843.50" r="8.90" fill="#238a8d"/>
<circle cx="262.80" cy="846.00" r="8.90" fill="#26ad81"/>
<circle cx="273.00" cy="840.30" r="8.90" fill="#28ae80"/>
<circle cx="292.70" cy="842.80" r="8.90" fill="#2ab07f"/>
<circle cx="314.90" cy="851.10" r="8.90" fill="#2cb17e"/>
<circle cx="337.70" cy="842.20" r="8.90" fill="#23a983"/>
<circle cx="360.60" cy="849.80" r="8.90" fill="#25ab82"/>
<circle cx="377.00" cy="849.80" r="8.90" fill="#1fa088"/>
<circle cx="278.10" cy="852.40" r="8.90" fill="#2eb37c"/>
<circle cx="328.80" cy="852.40" r="8.90" fill="#2cb17e"/>
<circle cx="347.90" cy="852.40" r="8.90" fill="#2cb17e"/>
<circle cx="435.00" cy="703.00" r="8.90" fill="#472e7c"/>
<circle cx="476.20" cy="703.00" r="8.90" fill="#481769"/>
<circle cx="414.30" cy="747.30" r="8.90" fill="#424086"/>
<circle cx="499.10" cy="744.70" r="8.90" fill="#471063"/>
<circle cx="470.80" cy="791.20" r="8.90" fill="#482576"/>
<circle cx="487.60" cy="789.50" r="8.90" fill="#481c6e"/>
<circle cx="432.40" cy="806.00" r="8.90" fill="#404688"/>
<circle cx="516.80" cy="808.00" r="8.90" fill="#481668"/>
<circle cx="487.60" cy="811.80" r="8.90" fill="#482576"/>
<circle cx="510.50" cy="820.00" r="8.90" fill="#481b6d"/>
<circle cx="435.40" cy="838.40" r="8.90" fill="#39568c"/>
<circle cx="450.20" cy="844.70" r="8.90" fill="#3b528b"/>
<circle cx="273.60" cy="854.50" r="8.90" fill="#2db27d"/>
<circle cx="290.80" cy="856.40" r="8.90" fill="#35b779"/>
<circle cx="313.60" cy="852.60" r="8.90" fill="#2db27d"/>
<circle cx="328.80" cy="855.20" r="8.90" fill="#2eb37c"/>
<circle cx="339.00" cy="846.30" r="8.90" fill="#26ad81"/>
<circle cx="347.90" cy="859.00" r="8.90" fill="#34b679"/>
<circle cx="358.00" cy="862.80" r="8.90" fill="#37b878"/>
<circle cx="374.50" cy="855.20" r="8.90" fill="#22a884"/>
<circle cx="268.60" cy="879.90" r="8.90" fill="#2cb17e"/>
<circle cx="286.30" cy="872.90" r="8.90" fill="#3dbc74"/>
<circle cx="284.40" cy="885.60" r="8.90" fill="#40bd72"/>
<circle cx="304.70" cy="881.80" r="8.90" fill="#48c16e"/>
<circle cx="322.50" cy="874.20" r="8.90" fill="#42be71"/>
<circle cx="333.90" cy="878.00" r="8.90" fill="#4cc26c"/>
<circle cx="347.90" cy="877.40" r="8.90" fill="#50c46a"/>
<circle cx="358.70" cy="892.00" r="8.90" fill="#63cb5f"/>
<circle cx="372.00" cy="871.60" r="8.90" fill="#38b977"/>
<circle cx="391.00" cy="874.20" r="8.90" fill="#29af7f"/>
<circle cx="392.30" cy="883.10" r="8.90" fill="#37b878"/>
<circle cx="274.90" cy="894.50" r="8.90" fill="#35b779"/>
<circle cx="266.60" cy="904.60" r="8.90" fill="#2cb17e"/>
<circle cx="281.90" cy="907.20" r="8.90" fill="#44bf70"/>
<circle cx="298.40" cy="903.40" r="8.90" fill="#52c569"/>
<circle cx="295.80" cy="909.70" r="8.90" fill="#52c569"/>
<circle cx="312.30" cy="893.20" r="8.90" fill="#52c569"/>
<circle cx="326.30" cy="895.80" r="8.90" fill="#5ac864"/>
<circle cx="331.40" cy="904.60" r="8.90" fill="#67cc5c"/>
<circle cx="344.10" cy="916.10" r="8.90" fill="#73d056"/>
<circle cx="372.00" cy="895.80" r="8.90" fill="#5ec962"/>
<circle cx="383.40" cy="904.60" r="8.90" fill="#5ec962"/>
<circle cx="372.00" cy="911.00" r="8.90" fill="#70cf57"/>
<circle cx="387.20" cy="915.40" r="8.90" fill="#65cb5e"/>
<circle cx="397.40" cy="904.60" r="8.90" fill="#50c46a"/>
<circle cx="303.50" cy="922.40" r="8.90" fill="#5cc863"/>
<circle cx="318.70" cy="916.10" r="8.90" fill="#60ca60"/>
<circle cx="333.90" cy="918.60" r="8.90" fill="#6ece58"/>
<circle cx="356.80" cy="921.10" r="8.90" fill="#7ad151"/>
<circle cx="366.90" cy="926.20" r="8.90" fill="#7cd250"/>
<circle cx="384.70" cy="932.60" r="8.90" fill="#77d153"/>
<circle cx="397.40" cy="921.10" r="8.90" fill="#63cb5f"/>
<circle cx="283.10" cy="935.70" r="8.90" fill="#48c16e"/>
<circle cx="263.50" cy="939.50" r="8.90" fill="#29af7f"/>
<circle cx="257.80" cy="944.00" r="8.90" fill="#25ab82"/>
<circle cx="303.50" cy="936.40" r="8.90" fill="#5cc863"/>
<circle cx="321.20" cy="932.60" r="8.90" fill="#65cb5e"/>
<circle cx="337.70" cy="936.40" r="8.90" fill="#75d054"/>
<circle cx="354.20" cy="933.80" r="8.90" fill="#81d34d"/>
<circle cx="372.00" cy="944.00" r="8.90" fill="#86d549"/>
<circle cx="394.80" cy="949.00" r="8.90" fill="#7ad151"/>
<circle cx="267.30" cy="962.40" r="8.90" fill="#34b679"/>
<circle cx="295.80" cy="958.00" r="8.90" fill="#4ec36b"/>
<circle cx="309.80" cy="949.00" r="8.90" fill="#5cc863"/>
<circle cx="298.40" cy="966.80" r="8.90" fill="#52c569"/>
<circle cx="316.10" cy="964.30" r="8.90" fill="#5cc863"/>
<circle cx="331.40" cy="954.10" r="8.90" fill="#70cf57"/>
<circle cx="347.90" cy="952.90" r="8.90" fill="#81d34d"/>
<circle cx="364.40" cy="959.20" r="8.90" fill="#8bd646"/>
<circle cx="383.40" cy="955.40" r="8.90" fill="#89d548"/>
<circle cx="394.80" cy="964.30" r="8.90" fill="#81d34d"/>
<circle cx="311.10" cy="977.00" r="8.90" fill="#5ac864"/>
<circle cx="328.80" cy="979.50" r="8.90" fill="#69cd5b"/>
<circle cx="349.10" cy="974.40" r="8.90" fill="#84d44b"/>
<circle cx="366.90" cy="973.20" r="8.90" fill="#90d743"/>
<circle cx="384.70" cy="978.20" r="8.90" fill="#8bd646"/>
<circle cx="294.60" cy="988.40" r="8.90" fill="#54c568"/>
<circle cx="279.30" cy="999.80" r="8.90" fill="#56c667"/>
<circle cx="311.10" cy="996.00" r="8.90" fill="#5ec962"/>
<circle cx="326.30" cy="991.00" r="8.90" fill="#69cd5b"/>
<circle cx="345.30" cy="991.00" r="8.90" fill="#81d34d"/>
<circle cx="361.80" cy="992.20" r="8.90" fill="#90d743"/>
<circle cx="379.60" cy="994.70" r="8.90" fill="#93d741"/>
<circle cx="295.80" cy="1003.60" r="8.90" fill="#5ec962"/>
<circle cx="396.10" cy="987.10" r="8.90" fill="#86d549"/>
<circle cx="416.30" cy="862.10" r="8.90" fill="#23888e"/>
<circle cx="435.00" cy="876.10" r="8.90" fill="#228c8d"/>
<circle cx="421.60" cy="879.30" r="8.90" fill="#1e9d89"/>
<circle cx="459.10" cy="869.10" r="8.90" fill="#2e6d8e"/>
<circle cx="470.50" cy="867.80" r="8.90" fill="#33638d"/>
<circle cx="478.10" cy="881.20" r="8.90" fill="#2c718e"/>
<circle cx="469.90" cy="884.30" r="8.90" fill="#287c8e"/>
<circle cx="470.50" cy="893.90" r="8.90" fill="#238a8d"/>
<circle cx="506.00" cy="885.40" r="8.90" fill="#32648e"/>
<circle cx="509.80" cy="901.50" r="8.90" fill="#287d8e"/>
<circle cx="422.30" cy="891.30" r="8.90" fill="#24aa83"/>
<circle cx="442.00" cy="896.40" r="8.90" fill="#1fa187"/>
<circle cx="401.00" cy="912.00" r="8.90" fill="#56c667"/>
<circle cx="414.00" cy="906.00" r="8.90" fill="#3fbc73"/>
<circle cx="426.70" cy="914.80" r="8.90" fill="#3dbc74"/>
<circle cx="445.80" cy="914.80" r="8.90" fill="#2cb17e"/>
<circle cx="461.00" cy="912.90" r="8.90" fill="#22a884"/>
<circle cx="482.60" cy="919.90" r="8.90" fill="#20a486"/>
<circle cx="448.30" cy="927.50" r="8.90" fill="#3bbb75"/>
<circle cx="465.40" cy="928.80" r="8.90" fill="#2fb47c"/>
<circle cx="479.40" cy="930.70" r="8.90" fill="#2ab07f"/>
<circle cx="492.70" cy="935.10" r="8.90" fill="#29af7f"/>
<circle cx="532.10" cy="937.60" r="8.90" fill="#1fa287"/>
<circle cx="398.80" cy="932.60" r="8.90" fill="#6ccd5a"/>
<circle cx="417.80" cy="940.20" r="8.90" fill="#63cb5f"/>
<circle cx="425.50" cy="951.00" r="8.90" fill="#65cb5e"/>
<circle cx="402.60" cy="946.50" r="8.90" fill="#73d056"/>
<circle cx="454.00" cy="949.00" r="8.90" fill="#4cc26c"/>
<circle cx="442.00" cy="958.00" r="8.90" fill="#5ec962"/>
<circle cx="473.70" cy="955.40" r="8.90" fill="#48c16e"/>
<circle cx="481.30" cy="966.20" r="8.90" fill="#4ec36b"/>
<circle cx="507.90" cy="951.60" r="8.90" fill="#32b67a"/>
<circle cx="512.40" cy="963.00" r="8.90" fill="#3aba76"/>
<circle cx="449.60" cy="971.90" r="8.90" fill="#63cb5f"/>
<circle cx="461.00" cy="970.60" r="8.90" fill="#5ac864"/>
<circle cx="471.10" cy="979.50" r="8.90" fill="#5cc863"/>
<circle cx="471.10" cy="988.40" r="8.90" fill="#63cb5f"/>
<circle cx="542.20" cy="979.50" r="8.90" fill="#44bf70"/>
<circle cx="425.50" cy="969.40" r="8.90" fill="#6ece58"/>
<circle cx="402.60" cy="979.50" r="8.90" fill="#81d34d"/>
<circle cx="407.70" cy="988.40" r="8.90" fill="#81d34d"/>
<circle cx="428.00" cy="984.60" r="8.90" fill="#75d054"/>
<circle cx="445.80" cy="999.80" r="8.90" fill="#75d054"/>
<circle cx="431.80" cy="1002.40" r="8.90" fill="#7cd250"/>
<circle cx="472.40" cy="1003.60" r="8.90" fill="#70cf57"/>
<circle cx="500.30" cy="1002.40" r="8.90" fill="#63cb5f"/>
<circle cx="537.10" cy="999.80" r="8.90" fill="#54c568"/>
<circle cx="400.10" cy="1001.00" r="8.90" fill="#89d548"/>
<circle cx="314.20" cy="1000.10" r="8.90" fill="#60ca60"/>
<circle cx="313.00" cy="1016.60" r="8.90" fill="#67cc5c"/>
<circle cx="330.10" cy="1012.80" r="8.90" fill="#77d153"/>
<circle cx="341.50" cy="1002.60" r="8.90" fill="#81d34d"/>
<circle cx="313.00" cy="1033.10" r="8.90" fill="#70cf57"/>
<circle cx="331.40" cy="1047.00" r="8.90" fill="#8bd646"/>
<circle cx="341.50" cy="1031.80" r="8.90" fill="#89d548"/>
<circle cx="354.20" cy="1026.70" r="8.90" fill="#90d743"/>
<circle cx="372.00" cy="1014.00" r="8.90" fill="#95d840"/>
<circle cx="389.70" cy="1011.50" r="8.90" fill="#90d743"/>
<circle cx="394.80" cy="1024.20" r="8.90" fill="#90d743"/>
<circle cx="351.70" cy="1054.60" r="8.90" fill="#93d741"/>
<circle cx="361.80" cy="1063.50" r="8.90" fill="#93d741"/>
<circle cx="366.90" cy="1045.80" r="8.90" fill="#95d840"/>
<circle cx="379.60" cy="1039.40" r="8.90" fill="#95d840"/>
<circle cx="392.30" cy="1045.80" r="8.90" fill="#90d743"/>
<circle cx="369.40" cy="1081.30" r="8.90" fill="#90d743"/>
<circle cx="385.90" cy="1069.90" r="8.90" fill="#93d741"/>
<circle cx="391.00" cy="1092.70" r="8.90" fill="#8bd646"/>
<circle cx="396.10" cy="1082.60" r="8.90" fill="#90d743"/>
<circle cx="350.40" cy="1038.10" r="8.90" fill="#90d743"/>
<circle cx="360.60" cy="1002.60" r="8.90" fill="#93d741"/>
<circle cx="379.60" cy="1002.60" r="8.90" fill="#95d840"/>
<circle cx="374.50" cy="1029.30" r="8.90" fill="#95d840"/>
<circle cx="434.30" cy="1005.20" r="8.90" fill="#7cd250"/>
<circle cx="409.00" cy="1017.20" r="8.90" fill="#89d548"/>
<circle cx="420.40" cy="1016.60" r="8.90" fill="#84d44b"/>
<circle cx="447.00" cy="1016.60" r="8.90" fill="#7ad151"/>
<circle cx="463.50" cy="1017.80" r="8.90" fill="#75d054"/>
<circle cx="492.70" cy="1021.00" r="8.90" fill="#6ccd5a"/>
<circle cx="440.70" cy="1026.70" r="8.90" fill="#7fd34e"/>
<circle cx="468.60" cy="1031.80" r="8.90" fill="#75d054"/>
<circle cx="476.20" cy="1031.80" r="8.90" fill="#75d054"/>
<circle cx="496.50" cy="1035.60" r="8.90" fill="#70cf57"/>
<circle cx="532.70" cy="1036.20" r="8.90" fill="#6ccd5a"/>
<circle cx="522.50" cy="1042.60" r="8.90" fill="#70cf57"/>
<circle cx="542.20" cy="1050.80" r="8.90" fill="#6ece58"/>
<circle cx="453.40" cy="1036.90" r="8.90" fill="#7fd34e"/>
<circle cx="400.10" cy="1039.40" r="8.90" fill="#8ed645"/>
<circle cx="414.00" cy="1036.90" r="8.90" fill="#89d548"/>
<circle cx="430.50" cy="1040.70" r="8.90" fill="#84d44b"/>
<circle cx="444.50" cy="1054.60" r="8.90" fill="#86d549"/>
<circle cx="466.10" cy="1050.80" r="8.90" fill="#7fd34e"/>
<circle cx="480.00" cy="1054.60" r="8.90" fill="#7cd250"/>
<circle cx="500.30" cy="1054.60" r="8.90" fill="#77d153"/>
<circle cx="512.40" cy="1064.80" r="8.90" fill="#75d054"/>
<circle cx="535.20" cy="1070.50" r="8.90" fill="#73d056"/>
<circle cx="542.20" cy="1059.70" r="8.90" fill="#70cf57"/>
<circle cx="478.10" cy="1068.00" r="8.90" fill="#7fd34e"/>
<circle cx="455.90" cy="1073.70" r="8.90" fill="#86d549"/>
<circle cx="434.30" cy="1068.60" r="8.90" fill="#89d548"/>
<circle cx="402.60" cy="1077.50" r="8.90" fill="#90d743"/>
<circle cx="420.40" cy="1071.10" r="8.90" fill="#8bd646"/>
<circle cx="428.60" cy="1088.90" r="8.90" fill="#89d548"/>
<circle cx="452.10" cy="1086.40" r="8.90" fill="#84d44b"/>
<circle cx="476.90" cy="1087.00" r="8.90" fill="#81d34d"/>
<circle cx="467.30" cy="1088.90" r="8.90" fill="#81d34d"/>
<circle cx="459.70" cy="1095.30" r="8.90" fill="#81d34d"/>
<circle cx="471.10" cy="1096.50" r="8.90" fill="#81d34d"/>
<circle cx="397.50" cy="1091.40" r="8.90" fill="#8bd646"/>
<circle cx="411.50" cy="1099.10" r="8.90" fill="#86d549"/>
<circle cx="419.10" cy="1107.90" r="8.90" fill="#86d549"/>
<circle cx="450.80" cy="1114.90" r="8.90" fill="#7cd250"/>
<circle cx="468.60" cy="1111.80" r="8.90" fill="#7fd34e"/>
<circle cx="501.60" cy="1097.80" r="8.90" fill="#7fd34e"/>
<circle cx="510.50" cy="1103.50" r="8.90" fill="#7fd34e"/>
<circle cx="289.60" cy="889.20" r="8.90" fill="#46c06f"/>
<circle cx="294.40" cy="886.00" r="8.90" fill="#48c16e"/>
<circle cx="325.30" cy="894.70" r="8.90" fill="#5ac864"/>
<circle cx="329.30" cy="903.40" r="8.90" fill="#63cb5f"/>
<circle cx="341.20" cy="907.40" r="8.90" fill="#6ece58"/>
<circle cx="319.80" cy="901.90" r="8.90" fill="#5cc863"/>
<circle cx="305.50" cy="919.30" r="8.90" fill="#5cc863"/>
<circle cx="300.80" cy="923.30" r="8.90" fill="#5ac864"/>
<circle cx="313.40" cy="931.20" r="8.90" fill="#63cb5f"/>
<circle cx="329.00" cy="931.00" r="8.90" fill="#6ece58"/>
<circle cx="345.00" cy="927.00" r="8.90" fill="#77d153"/>
<circle cx="294.40" cy="909.80" r="8.90" fill="#52c569"/>
<circle cx="337.00" cy="917.00" r="8.90" fill="#6ece58"/>
<circle cx="347.00" cy="900.00" r="8.90" fill="#69cd5b"/>
<circle cx="310.00" cy="824.00" r="8.90" fill="#21a685"/>
<circle cx="303.50" cy="835.00" r="8.90" fill="#25ac82"/>
<circle cx="315.50" cy="838.50" r="8.90" fill="#25ab82"/>
<circle cx="419.50" cy="862.50" r="8.90" fill="#25858e"/>
<circle cx="378.50" cy="873.50" r="8.90" fill="#37b878"/>
<circle cx="377.00" cy="922.00" r="8.90" fill="#75d054"/>
<circle cx="360.00" cy="944.00" r="8.90" fill="#86d549"/>
<circle cx="356.00" cy="968.00" r="8.90" fill="#89d548"/>
<circle cx="376.00" cy="968.00" r="8.90" fill="#90d743"/>
<circle cx="405.00" cy="962.00" r="8.90" fill="#7ad151"/>
<circle cx="414.00" cy="970.00" r="8.90" fill="#75d054"/>
<circle cx="425.00" cy="965.00" r="8.90" fill="#6ece58"/>
<circle cx="378.00" cy="985.00" r="8.90" fill="#93d741"/>
<circle cx="417.00" cy="982.00" r="8.90" fill="#7ad151"/>
<circle cx="353.80" cy="896.30" r="8.90" fill="#69cd5b"/>
<circle cx="372.00" cy="932.00" r="8.90" fill="#7fd34e"/>
<circle cx="336.00" cy="997.00" r="8.90" fill="#77d153"/>
<circle cx="348.00" cy="1011.00" r="8.90" fill="#89d548"/>
<circle cx="369.00" cy="992.00" r="8.90" fill="#93d741"/>
<circle cx="370.00" cy="1003.00" r="8.90" fill="#95d840"/>
<circle cx="382.00" cy="1020.00" r="8.90" fill="#93d741"/>
<circle cx="389.00" cy="998.00" r="8.90" fill="#90d743"/>
<circle cx="400.00" cy="1030.00" r="8.90" fill="#8ed645"/>
<circle cx="414.00" cy="1053.00" r="8.90" fill="#8bd646"/>
<circle cx="376.00" cy="1058.00" r="8.90" fill="#95d840"/>
<circle cx="358.00" cy="1032.00" r="8.90" fill="#93d741"/>
<circle cx="393.00" cy="1058.00" r="8.90" fill="#90d743"/>
<circle cx="407.00" cy="1078.00" r="8.90" fill="#90d743"/>
<circle cx="443.00" cy="995.00" r="8.90" fill="#75d054"/>
<circle cx="452.00" cy="1002.00" r="8.90" fill="#75d054"/>
<circle cx="447.00" cy="1024.00" r="8.90" fill="#7cd250"/>
<circle cx="440.00" cy="1038.00" r="8.90" fill="#81d34d"/>
<circle cx="452.00" cy="1040.00" r="8.90" fill="#7fd34e"/>
<circle cx="447.00" cy="1058.00" r="8.90" fill="#86d549"/>
<circle cx="434.00" cy="1062.00" r="8.90" fill="#89d548"/>
<circle cx="455.00" cy="1073.00" r="8.90" fill="#86d549"/>
<circle cx="433.00" cy="1022.00" r="8.90" fill="#81d34d"/>
<circle cx="464.00" cy="1052.00" r="8.90" fill="#7fd34e"/>
<circle cx="383.00" cy="1062.00" r="8.90" fill="#93d741"/>
<circle cx="405.00" cy="1060.00" r="8.90" fill="#8ed645"/>
<circle cx="418.00" cy="1058.00" r="8.90" fill="#8bd646"/>
<circle cx="425.00" cy="1071.00" r="8.90" fill="#8bd646"/>
<circle cx="437.00" cy="1065.00" r="8.90" fill="#89d548"/>
<circle cx="414.00" cy="1077.00" r="8.90" fill="#8ed645"/>
<circle cx="394.00" cy="1080.00" r="8.90" fill="#90d743"/>
<circle cx="322.00" cy="946.00" r="8.90" fill="#63cb5f"/>
<circle cx="306.00" cy="958.00" r="8.90" fill="#58c765"/>
<circle cx="318.00" cy="955.00" r="8.90" fill="#5ec962"/>
<circle cx="332.00" cy="960.00" r="8.90" fill="#70cf57"/>
<circle cx="323.00" cy="975.00" r="8.90" fill="#63cb5f"/>
<circle cx="338.00" cy="985.00" r="8.90" fill="#77d153"/>
<circle cx="318.00" cy="985.00" r="8.90" fill="#5ec962"/>
<circle cx="320.00" cy="1000.00" r="8.90" fill="#65cb5e"/>
<circle cx="337.00" cy="1005.00" r="8.90" fill="#7cd250"/>
<circle cx="340.00" cy="1018.00" r="8.90" fill="#84d44b"/>
<circle cx="437.00" cy="975.00" r="8.90" fill="#6ccd5a"/>
<circle cx="470.00" cy="966.00" r="8.90" fill="#52c569"/>
<circle cx="441.00" cy="985.00" r="8.90" fill="#70cf57"/>
<circle cx="423.00" cy="907.00" r="8.90" fill="#38b977"/>
<circle cx="484.40" cy="1034.80" r="8.90" fill="#73d056"/>
<circle cx="446.00" cy="1068.00" r="8.90" fill="#86d549"/>
<circle cx="290.00" cy="898.00" r="8.90" fill="#4ac16d"/>
<circle cx="303.00" cy="893.00" r="8.90" fill="#50c46a"/>
<circle cx="350.00" cy="942.00" r="8.90" fill="#81d34d"/>
<circle cx="348.00" cy="964.00" r="8.90" fill="#81d34d"/>
<circle cx="359.00" cy="980.00" r="8.90" fill="#8ed645"/>
<circle cx="359.00" cy="1012.00" r="8.90" fill="#93d741"/>
<circle cx="387.00" cy="1033.00" r="8.90" fill="#93d741"/>
<circle cx="410.00" cy="1028.00" r="8.90" fill="#8bd646"/>
<circle cx="428.00" cy="1047.00" r="8.90" fill="#86d549"/>
<circle cx="404.00" cy="1048.00" r="8.90" fill="#8ed645"/>
<circle cx="362.00" cy="1046.00" r="8.90" fill="#93d741"/>
<circle cx="378.00" cy="1050.00" r="8.90" fill="#95d840"/>
<circle cx="341.00" cy="1042.00" r="8.90" fill="#8ed645"/>
<circle cx="374.00" cy="1072.00" r="8.90" fill="#93d741"/>
<circle cx="404.00" cy="1068.00" r="8.90" fill="#90d743"/>
<circle cx="409.00" cy="1094.00" r="8.90" fill="#89d548"/>
<circle cx="430.00" cy="1080.00" r="8.90" fill="#89d548"/>
<circle cx="301.00" cy="797.80" r="8.90" fill="#20a386"/>
</g>
<g clip-path="url(#c10)">
<path d="M258.12 1183.60 L258.12 703.00" fill="none" stroke="#00ffff" stroke-opacity="0.8" stroke-width="5.08" stroke-dasharray="18.8 8.13"/>
<path d="M258.46 703.00 L259.91 710.00 L261.37 716.89 L262.82 723.69 L264.27 730.38 L265.72 736.98 L267.17 743.48 L268.62 749.89 L270.07 756.21 L271.52 762.43 L272.97 768.56 L274.42 774.60 L275.87 780.56 L277.33 786.42 L278.78 792.21 L280.23 797.91 L281.68 803.52 L283.13 809.05 L284.58 814.51 L286.03 819.88 L287.48 825.18 L288.93 830.39 L290.38 835.54 L291.84 840.60 L293.29 845.60 L294.74 850.52 L296.19 855.37 L297.64 860.15 L299.09 864.86 L300.54 869.50 L301.99 874.07 L303.44 878.58 L304.89 883.02 L306.34 887.39 L307.80 891.71 L309.25 895.96 L310.70 900.14 L312.15 904.27 L313.60 908.34 L315.05 912.34 L316.50 916.29 L317.95 920.18 L319.40 924.02 L320.85 927.80 L322.30 931.52 L323.76 935.19 L325.21 938.81 L326.66 942.37 L328.11 945.89 L329.56 949.35 L331.01 952.76 L332.46 956.12 L333.91 959.43 L335.36 962.69 L336.81 965.91 L338.27 969.08 L339.72 972.20 L341.17 975.28 L342.62 978.31 L344.07 981.30 L345.52 984.25 L346.97 987.15 L348.42 990.01 L349.87 992.83 L351.32 995.61 L352.77 998.34 L354.23 1001.04 L355.68 1003.70 L357.13 1006.32 L358.58 1008.90 L360.03 1011.44 L361.48 1013.95 L362.93 1016.42 L364.38 1018.85 L365.83 1021.25 L367.28 1023.61 L368.73 1025.94 L370.19 1028.24 L371.64 1030.50 L373.09 1032.73 L374.54 1034.93 L375.99 1037.09 L377.44 1039.22 L378.89 1041.33 L380.34 1043.40 L381.79 1045.44 L383.24 1047.45 L384.70 1049.43 L386.15 1051.38 L387.60 1053.31 L389.05 1055.21 L390.50 1057.08 L391.95 1058.92 L393.40 1060.73 L394.85 1062.52 L396.30 1064.28 L397.75 1066.02 L399.20 1067.73 L400.66 1069.42 L402.11 1071.08 L403.56 1072.72 L405.01 1074.34 L406.46 1075.93 L407.91 1077.49 L409.36 1079.04 L410.81 1080.56 L412.26 1082.06 L413.71 1083.54 L415.16 1085.00 L416.62 1086.43 L418.07 1087.85 L419.52 1089.24 L420.97 1090.61 L422.42 1091.97 L423.87 1093.30 L425.32 1094.62 L426.77 1095.91 L428.22 1097.19 L429.67 1098.45 L431.13 1099.69 L432.58 1100.91 L434.03 1102.11 L435.48 1103.30 L436.93 1104.47 L438.38 1105.62 L439.83 1106.76 L441.28 1107.87 L442.73 1108.98 L444.18 1110.06 L445.63 1111.13 L447.09 1112.19 L448.54 1113.23 L449.99 1114.25 L451.44 1115.26 L452.89 1116.26 L454.34 1117.24 L455.79 1118.20 L457.24 1119.16 L458.69 1120.09 L460.14 1121.02 L461.59 1121.93 L463.05 1122.83 L464.50 1123.71 L465.95 1124.58 L467.40 1125.44 L468.85 1126.29 L470.30 1127.12 L471.75 1127.95 L473.20 1128.76 L474.65 1129.56 L476.10 1130.34 L477.56 1131.12 L479.01 1131.88 L480.46 1132.63 L481.91 1133.38 L483.36 1134.11 L484.81 1134.83 L486.26 1135.54 L487.71 1136.24 L489.16 1136.93 L490.61 1137.61 L492.06 1138.28 L493.52 1138.94 L494.97 1139.59 L496.42 1140.23 L497.87 1140.86 L499.32 1141.48 L500.77 1142.09 L502.22 1142.70 L503.67 1143.29 L505.12 1143.88 L506.57 1144.46 L508.02 1145.03 L509.48 1145.59 L510.93 1146.14 L512.38 1146.69 L513.83 1147.23 L515.28 1147.76 L516.73 1148.28 L518.18 1148.79 L519.63 1149.30 L521.08 1149.80 L522.53 1150.29 L523.99 1150.78 L525.44 1151.25 L526.89 1151.72 L528.34 1152.19 L529.79 1152.65 L531.24 1153.10 L532.69 1153.54 L534.14 1153.98 L535.59 1154.41 L537.04 1154.83 L538.49 1155.25 L539.95 1155.67 L541.40 1156.07 L542.85 1156.47 L544.30 1156.87 L545.75 1157.26 L547.20 1157.64" fill="none" stroke="#00ffff" stroke-opacity="0.8" stroke-width="5.08" stroke-dasharray="18.8 8.13"/>
</g>
<g clip-path="url(#c11)">
<circle cx="1035.70" cy="703.00" r="8.90" fill="#38588c"/>
<circle cx="1062.00" cy="703.00" r="8.90" fill="#26818e"/>
<circle cx="1086.10" cy="725.20" r="8.90" fill="#21a585"/>
<circle cx="1008.70" cy="734.60" r="8.90" fill="#482475"/>
<circle cx="986.50" cy="740.30" r="8.90" fill="#46075a"/>
<circle cx="1063.30" cy="748.90" r="8.90" fill="#297b8e"/>
<circle cx="999.20" cy="760.70" r="8.90" fill="#481467"/>
<circle cx="990.90" cy="767.10" r="8.90" fill="#46085c"/>
<circle cx="1038.50" cy="770.50" r="8.90" fill="#3e4c8a"/>
<circle cx="1019.50" cy="773.70" r="8.90" fill="#472c7a"/>
<circle cx="1116.60" cy="762.90" r="8.90" fill="#46c06f"/>
<circle cx="1125.60" cy="768.80" r="8.90" fill="#56c667"/>
<circle cx="1117.80" cy="780.00" r="8.90" fill="#3fbc73"/>
<circle cx="999.80" cy="783.20" r="8.90" fill="#471164"/>
<circle cx="1025.80" cy="787.00" r="8.90" fill="#46337f"/>
<circle cx="1034.70" cy="788.90" r="8.90" fill="#424086"/>
<circle cx="1049.30" cy="787.60" r="8.90" fill="#38588c"/>
<circle cx="1065.20" cy="788.90" r="8.90" fill="#2d708e"/>
<circle cx="1105.80" cy="795.90" r="8.90" fill="#23a983"/>
<circle cx="1015.70" cy="795.30" r="8.90" fill="#482071"/>
<circle cx="1126.60" cy="808.60" r="8.90" fill="#38b977"/>
<circle cx="1065.80" cy="806.70" r="8.90" fill="#31668e"/>
<circle cx="1071.50" cy="813.00" r="8.90" fill="#2f6c8e"/>
<circle cx="1012.50" cy="808.00" r="8.90" fill="#481a6c"/>
<circle cx="1020.80" cy="809.20" r="8.90" fill="#482475"/>
<circle cx="1039.20" cy="800.30" r="8.90" fill="#424086"/>
<circle cx="1046.80" cy="800.30" r="8.90" fill="#3d4d8a"/>
<circle cx="1035.40" cy="810.50" r="8.90" fill="#463480"/>
<circle cx="1045.50" cy="811.80" r="8.90" fill="#414487"/>
<circle cx="1062.00" cy="819.40" r="8.90" fill="#38588c"/>
<circle cx="1122.60" cy="825.10" r="8.90" fill="#23a983"/>
<circle cx="1013.20" cy="828.90" r="8.90" fill="#481668"/>
<circle cx="1031.60" cy="829.50" r="8.90" fill="#482475"/>
<circle cx="1040.40" cy="829.50" r="8.90" fill="#472f7d"/>
<circle cx="1050.60" cy="830.80" r="8.90" fill="#433e85"/>
<circle cx="1077.20" cy="835.90" r="8.90" fill="#34618d"/>
<circle cx="1095.00" cy="833.30" r="8.90" fill="#277e8e"/>
<circle cx="1105.80" cy="839.70" r="8.90" fill="#23888e"/>
<circle cx="1119.70" cy="843.50" r="8.90" fill="#1f958b"/>
<circle cx="990.90" cy="846.00" r="8.90" fill="#450457"/>
<circle cx="1001.10" cy="840.30" r="8.90" fill="#460a5d"/>
<circle cx="1020.80" cy="842.80" r="8.90" fill="#481668"/>
<circle cx="1043.00" cy="851.10" r="8.90" fill="#482677"/>
<circle cx="1065.80" cy="842.20" r="8.90" fill="#3e4c8a"/>
<circle cx="1088.70" cy="849.80" r="8.90" fill="#32658e"/>
<circle cx="1105.10" cy="849.80" r="8.90" fill="#287d8e"/>
<circle cx="1006.20" cy="852.40" r="8.90" fill="#460b5e"/>
<circle cx="1056.90" cy="852.40" r="8.90" fill="#453781"/>
<circle cx="1076.00" cy="852.40" r="8.90" fill="#3c508b"/>
<circle cx="1163.10" cy="703.00" r="8.90" fill="#b0dd2f"/>
<circle cx="1204.30" cy="703.00" r="8.90" fill="#d8e219"/>
<circle cx="1142.40" cy="747.30" r="8.90" fill="#86d549"/>
<circle cx="1227.20" cy="744.70" r="8.90" fill="#e7e419"/>
<circle cx="1198.90" cy="791.20" r="8.90" fill="#b5de2b"/>
<circle cx="1215.70" cy="789.50" r="8.90" fill="#cae11f"/>
<circle cx="1160.50" cy="806.00" r="8.90" fill="#77d153"/>
<circle cx="1244.90" cy="808.00" r="8.90" fill="#dfe318"/>
<circle cx="1215.70" cy="811.80" r="8.90" fill="#bddf26"/>
<circle cx="1238.60" cy="820.00" r="8.90" fill="#d2e21b"/>
<circle cx="1163.50" cy="838.40" r="8.90" fill="#52c569"/>
<circle cx="1178.30" cy="844.70" r="8.90" fill="#5ac864"/>
<circle cx="1001.70" cy="854.50" r="8.90" fill="#46085c"/>
<circle cx="1018.90" cy="856.40" r="8.90" fill="#471063"/>
<circle cx="1041.70" cy="852.60" r="8.90" fill="#482475"/>
<circle cx="1056.90" cy="855.20" r="8.90" fill="#463480"/>
<circle cx="1067.10" cy="846.30" r="8.90" fill="#3e4a89"/>
<circle cx="1076.00" cy="859.00" r="8.90" fill="#3e4a89"/>
<circle cx="1086.10" cy="862.80" r="8.90" fill="#3a548c"/>
<circle cx="1102.60" cy="855.20" r="8.90" fill="#2c738e"/>
<circle cx="996.70" cy="879.90" r="8.90" fill="#440256"/>
<circle cx="1014.40" cy="872.90" r="8.90" fill="#460a5d"/>
<circle cx="1012.50" cy="885.60" r="8.90" fill="#46075a"/>
<circle cx="1032.80" cy="881.80" r="8.90" fill="#471164"/>
<circle cx="1050.60" cy="874.20" r="8.90" fill="#482374"/>
<circle cx="1062.00" cy="878.00" r="8.90" fill="#472a7a"/>
<circle cx="1076.00" cy="877.40" r="8.90" fill="#443a83"/>
<circle cx="1086.80" cy="892.00" r="8.90" fill="#433d84"/>
<circle cx="1100.10" cy="871.60" r="8.90" fill="#355f8d"/>
<circle cx="1119.10" cy="874.20" r="8.90" fill="#2d718e"/>
<circle cx="1120.40" cy="883.10" r="8.90" fill="#31668e"/>
<circle cx="1003.00" cy="894.50" r="8.90" fill="#450457"/>
<circle cx="994.70" cy="904.60" r="8.90" fill="#440154"/>
<circle cx="1010.00" cy="907.20" r="8.90" fill="#46075a"/>
<circle cx="1026.50" cy="903.40" r="8.90" fill="#470e61"/>
<circle cx="1023.90" cy="909.70" r="8.90" fill="#470d60"/>
<circle cx="1040.40" cy="893.20" r="8.90" fill="#481668"/>
<circle cx="1054.40" cy="895.80" r="8.90" fill="#481d6f"/>
<circle cx="1059.50" cy="904.60" r="8.90" fill="#481f70"/>
<circle cx="1072.20" cy="916.10" r="8.90" fill="#482878"/>
<circle cx="1100.10" cy="895.80" r="8.90" fill="#3f4889"/>
<circle cx="1111.50" cy="904.60" r="8.90" fill="#3e4c8a"/>
<circle cx="1100.10" cy="911.00" r="8.90" fill="#423f85"/>
<circle cx="1115.30" cy="915.40" r="8.90" fill="#3e4989"/>
<circle cx="1125.50" cy="904.60" r="8.90" fill="#38598c"/>
<circle cx="1031.60" cy="922.40" r="8.90" fill="#471164"/>
<circle cx="1046.80" cy="916.10" r="8.90" fill="#481769"/>
<circle cx="1062.00" cy="918.60" r="8.90" fill="#481f70"/>
<circle cx="1084.90" cy="921.10" r="8.90" fill="#46307e"/>
<circle cx="1095.00" cy="926.20" r="8.90" fill="#453781"/>
<circle cx="1112.80" cy="932.60" r="8.90" fill="#424086"/>
<circle cx="1125.50" cy="921.10" r="8.90" fill="#3d4e8a"/>
<circle cx="1011.20" cy="935.70" r="8.90" fill="#46085c"/>
<circle cx="991.60" cy="939.50" r="8.90" fill="#440256"/>
<circle cx="985.90" cy="944.00" r="8.90" fill="#440256"/>
<circle cx="1031.60" cy="936.40" r="8.90" fill="#471164"/>
<circle cx="1049.30" cy="932.60" r="8.90" fill="#481769"/>
<circle cx="1065.80" cy="936.40" r="8.90" fill="#482173"/>
<circle cx="1082.30" cy="933.80" r="8.90" fill="#472e7c"/>
<circle cx="1100.10" cy="944.00" r="8.90" fill="#453882"/>
<circle cx="1122.90" cy="949.00" r="8.90" fill="#414287"/>
<circle cx="995.40" cy="962.40" r="8.90" fill="#46075a"/>
<circle cx="1023.90" cy="958.00" r="8.90" fill="#471365"/>
<circle cx="1037.90" cy="949.00" r="8.90" fill="#481769"/>
<circle cx="1026.50" cy="966.80" r="8.90" fill="#481668"/>
<circle cx="1044.20" cy="964.30" r="8.90" fill="#481d6f"/>
<circle cx="1059.50" cy="954.10" r="8.90" fill="#482475"/>
<circle cx="1076.00" cy="952.90" r="8.90" fill="#472f7d"/>
<circle cx="1092.50" cy="959.20" r="8.90" fill="#453781"/>
<circle cx="1111.50" cy="955.40" r="8.90" fill="#433d84"/>
<circle cx="1122.90" cy="964.30" r="8.90" fill="#424186"/>
<circle cx="1039.20" cy="977.00" r="8.90" fill="#481c6e"/>
<circle cx="1056.90" cy="979.50" r="8.90" fill="#482979"/>
<circle cx="1077.20" cy="974.40" r="8.90" fill="#46307e"/>
<circle cx="1095.00" cy="973.20" r="8.90" fill="#453781"/>
<circle cx="1112.80" cy="978.20" r="8.90" fill="#433d84"/>
<circle cx="1022.70" cy="988.40" r="8.90" fill="#481a6c"/>
<circle cx="1007.40" cy="999.80" r="8.90" fill="#481a6c"/>
<circle cx="1039.20" cy="996.00" r="8.90" fill="#482071"/>
<circle cx="1054.40" cy="991.00" r="8.90" fill="#482979"/>
<circle cx="1073.40" cy="991.00" r="8.90" fill="#46307e"/>
<circle cx="1089.90" cy="992.20" r="8.90" fill="#453581"/>
<circle cx="1107.70" cy="994.70" r="8.90" fill="#443a83"/>
<circle cx="1023.90" cy="1003.60" r="8.90" fill="#481f70"/>
<circle cx="1124.20" cy="987.10" r="8.90" fill="#424086"/>
<circle cx="1144.40" cy="862.10" r="8.90" fill="#1e9c89"/>
<circle cx="1163.10" cy="876.10" r="8.90" fill="#1f968b"/>
<circle cx="1149.70" cy="879.30" r="8.90" fill="#24868e"/>
<circle cx="1187.20" cy="869.10" r="8.90" fill="#2eb37c"/>
<circle cx="1198.60" cy="867.80" r="8.90" fill="#3fbc73"/>
<circle cx="1206.20" cy="881.20" r="8.90" fill="#29af7f"/>
<circle cx="1198.00" cy="884.30" r="8.90" fill="#21a685"/>
<circle cx="1198.60" cy="893.90" r="8.90" fill="#1f998a"/>
<circle cx="1234.10" cy="885.40" r="8.90" fill="#3bbb75"/>
<circle cx="1237.90" cy="901.50" r="8.90" fill="#20a486"/>
<circle cx="1150.40" cy="891.30" r="8.90" fill="#2a788e"/>
<circle cx="1170.10" cy="896.40" r="8.90" fill="#26818e"/>
<circle cx="1129.10" cy="912.00" r="8.90" fill="#39558c"/>
<circle cx="1142.10" cy="906.00" r="8.90" fill="#33638d"/>
<circle cx="1154.80" cy="914.80" r="8.90" fill="#32648e"/>
<circle cx="1173.90" cy="914.80" r="8.90" fill="#2e6f8e"/>
<circle cx="1189.10" cy="912.90" r="8.90" fill="#297a8e"/>
<circle cx="1210.70" cy="919.90" r="8.90" fill="#277f8e"/>
<circle cx="1176.40" cy="927.50" r="8.90" fill="#32658e"/>
<circle cx="1193.50" cy="928.80" r="8.90" fill="#2e6d8e"/>
<circle cx="1207.50" cy="930.70" r="8.90" fill="#2c718e"/>
<circle cx="1220.80" cy="935.10" r="8.90" fill="#2c738e"/>
<circle cx="1260.20" cy="937.60" r="8.90" fill="#277f8e"/>
<circle cx="1126.90" cy="932.60" r="8.90" fill="#3e4989"/>
<circle cx="1145.90" cy="940.20" r="8.90" fill="#3c4f8a"/>
<circle cx="1153.60" cy="951.00" r="8.90" fill="#3d4d8a"/>
<circle cx="1130.70" cy="946.50" r="8.90" fill="#3f4788"/>
<circle cx="1182.10" cy="949.00" r="8.90" fill="#375a8c"/>
<circle cx="1170.10" cy="958.00" r="8.90" fill="#3c508b"/>
<circle cx="1201.80" cy="955.40" r="8.90" fill="#365c8d"/>
<circle cx="1209.40" cy="966.20" r="8.90" fill="#375a8c"/>
<circle cx="1236.00" cy="951.60" r="8.90" fill="#30698e"/>
<circle cx="1240.50" cy="963.00" r="8.90" fill="#32648e"/>
<circle cx="1177.70" cy="971.90" r="8.90" fill="#3c4f8a"/>
<circle cx="1189.10" cy="970.60" r="8.90" fill="#3a538b"/>
<circle cx="1199.20" cy="979.50" r="8.90" fill="#3b528b"/>
<circle cx="1199.20" cy="988.40" r="8.90" fill="#3c4f8a"/>
<circle cx="1270.30" cy="979.50" r="8.90" fill="#355f8d"/>
<circle cx="1153.60" cy="969.40" r="8.90" fill="#3e4989"/>
<circle cx="1130.70" cy="979.50" r="8.90" fill="#414487"/>
<circle cx="1135.80" cy="988.40" r="8.90" fill="#414287"/>
<circle cx="1156.10" cy="984.60" r="8.90" fill="#3f4889"/>
<circle cx="1173.90" cy="999.80" r="8.90" fill="#3f4788"/>
<circle cx="1159.90" cy="1002.40" r="8.90" fill="#404588"/>
<circle cx="1200.50" cy="1003.60" r="8.90" fill="#3e4a89"/>
<circle cx="1228.40" cy="1002.40" r="8.90" fill="#3c508b"/>
<circle cx="1265.20" cy="999.80" r="8.90" fill="#39568c"/>
<circle cx="1128.20" cy="1001.00" r="8.90" fill="#433e85"/>
<circle cx="1042.30" cy="1000.10" r="8.90" fill="#482374"/>
<circle cx="1041.10" cy="1016.60" r="8.90" fill="#482677"/>
<circle cx="1058.20" cy="1012.80" r="8.90" fill="#472e7c"/>
<circle cx="1069.60" cy="1002.60" r="8.90" fill="#46307e"/>
<circle cx="1041.10" cy="1033.10" r="8.90" fill="#472a7a"/>
<circle cx="1059.50" cy="1047.00" r="8.90" fill="#46337f"/>
<circle cx="1069.60" cy="1031.80" r="8.90" fill="#46337f"/>
<circle cx="1082.30" cy="1026.70" r="8.90" fill="#463480"/>
<circle cx="1100.10" cy="1014.00" r="8.90" fill="#453882"/>
<circle cx="1117.80" cy="1011.50" r="8.90" fill="#443b84"/>
<circle cx="1122.90" cy="1024.20" r="8.90" fill="#433d84"/>
<circle cx="1079.80" cy="1054.60" r="8.90" fill="#453781"/>
<circle cx="1089.90" cy="1063.50" r="8.90" fill="#443983"/>
<circle cx="1095.00" cy="1045.80" r="8.90" fill="#453882"/>
<circle cx="1107.70" cy="1039.40" r="8.90" fill="#443a83"/>
<circle cx="1120.40" cy="1045.80" r="8.90" fill="#443b84"/>
<circle cx="1097.50" cy="1081.30" r="8.90" fill="#443b84"/>
<circle cx="1114.00" cy="1069.90" r="8.90" fill="#433d84"/>
<circle cx="1119.10" cy="1092.70" r="8.90" fill="#433d84"/>
<circle cx="1124.20" cy="1082.60" r="8.90" fill="#433d84"/>
<circle cx="1078.50" cy="1038.10" r="8.90" fill="#463480"/>
<circle cx="1088.70" cy="1002.60" r="8.90" fill="#453581"/>
<circle cx="1107.70" cy="1002.60" r="8.90" fill="#443a83"/>
<circle cx="1102.60" cy="1029.30" r="8.90" fill="#443983"/>
<circle cx="1162.40" cy="1005.20" r="8.90" fill="#404588"/>
<circle cx="1137.10" cy="1017.20" r="8.90" fill="#423f85"/>
<circle cx="1148.50" cy="1016.60" r="8.90" fill="#424186"/>
<circle cx="1175.10" cy="1016.60" r="8.90" fill="#404588"/>
<circle cx="1191.60" cy="1017.80" r="8.90" fill="#3f4788"/>
<circle cx="1220.80" cy="1021.00" r="8.90" fill="#3e4a89"/>
<circle cx="1168.80" cy="1026.70" r="8.90" fill="#414287"/>
<circle cx="1196.70" cy="1031.80" r="8.90" fill="#404688"/>
<circle cx="1204.30" cy="1031.80" r="8.90" fill="#3f4788"/>
<circle cx="1224.60" cy="1035.60" r="8.90" fill="#3f4889"/>
<circle cx="1260.80" cy="1036.20" r="8.90" fill="#3e4a89"/>
<circle cx="1250.60" cy="1042.60" r="8.90" fill="#3f4889"/>
<circle cx="1270.30" cy="1050.80" r="8.90" fill="#3e4989"/>
<circle cx="1181.50" cy="1036.90" r="8.90" fill="#414287"/>
<circle cx="1128.20" cy="1039.40" r="8.90" fill="#433d84"/>
<circle cx="1142.10" cy="1036.90" r="8.90" fill="#423f85"/>
<circle cx="1158.60" cy="1040.70" r="8.90" fill="#424086"/>
<circle cx="1172.60" cy="1054.60" r="8.90" fill="#424086"/>
<circle cx="1194.20" cy="1050.80" r="8.90" fill="#414287"/>
<circle cx="1208.10" cy="1054.60" r="8.90" fill="#404588"/>
<circle cx="1228.40" cy="1054.60" r="8.90" fill="#404688"/>
<circle cx="1240.50" cy="1064.80" r="8.90" fill="#404688"/>
<circle cx="1263.30" cy="1070.50" r="8.90" fill="#3f4788"/>
<circle cx="1270.30" cy="1059.70" r="8.90" fill="#3f4889"/>
<circle cx="1206.20" cy="1068.00" r="8.90" fill="#414487"/>
<circle cx="1184.00" cy="1073.70" r="8.90" fill="#424186"/>
<circle cx="1162.40" cy="1068.60" r="8.90" fill="#424086"/>
<circle cx="1130.70" cy="1077.50" r="8.90" fill="#433d84"/>
<circle cx="1148.50" cy="1071.10" r="8.90" fill="#423f85"/>
<circle cx="1156.70" cy="1088.90" r="8.90" fill="#423f85"/>
<circle cx="1180.20" cy="1086.40" r="8.90" fill="#424086"/>
<circle cx="1205.00" cy="1087.00" r="8.90" fill="#424186"/>
<circle cx="1195.40" cy="1088.90" r="8.90" fill="#424186"/>
<circle cx="1187.80" cy="1095.30" r="8.90" fill="#424086"/>
<circle cx="1199.20" cy="1096.50" r="8.90" fill="#424086"/>
<circle cx="1125.60" cy="1091.40" r="8.90" fill="#433d84"/>
<circle cx="1139.60" cy="1099.10" r="8.90" fill="#433e85"/>
<circle cx="1147.20" cy="1107.90" r="8.90" fill="#433e85"/>
<circle cx="1178.90" cy="1114.90" r="8.90" fill="#414287"/>
<circle cx="1196.70" cy="1111.80" r="8.90" fill="#424186"/>
<circle cx="1229.70" cy="1097.80" r="8.90" fill="#424186"/>
<circle cx="1238.60" cy="1103.50" r="8.90" fill="#414287"/>
<circle cx="1017.70" cy="889.20" r="8.90" fill="#460a5d"/>
<circle cx="1022.50" cy="886.00" r="8.90" fill="#470d60"/>
<circle cx="1053.40" cy="894.70" r="8.90" fill="#481d6f"/>
<circle cx="1057.40" cy="903.40" r="8.90" fill="#481d6f"/>
<circle cx="1069.30" cy="907.40" r="8.90" fill="#482677"/>
<circle cx="1047.90" cy="901.90" r="8.90" fill="#481a6c"/>
<circle cx="1033.60" cy="919.30" r="8.90" fill="#471164"/>
<circle cx="1028.90" cy="923.30" r="8.90" fill="#471063"/>
<circle cx="1041.50" cy="931.20" r="8.90" fill="#481467"/>
<circle cx="1057.10" cy="931.00" r="8.90" fill="#481a6c"/>
<circle cx="1073.10" cy="927.00" r="8.90" fill="#482677"/>
<circle cx="1022.50" cy="909.80" r="8.90" fill="#470d60"/>
<circle cx="1065.10" cy="917.00" r="8.90" fill="#482173"/>
<circle cx="1075.10" cy="900.00" r="8.90" fill="#472e7c"/>
<circle cx="1038.10" cy="824.00" r="8.90" fill="#472f7d"/>
<circle cx="1031.60" cy="835.00" r="8.90" fill="#482071"/>
<circle cx="1043.60" cy="838.50" r="8.90" fill="#472e7c"/>
<circle cx="1147.60" cy="862.50" r="8.90" fill="#1f9f88"/>
<circle cx="1106.60" cy="873.50" r="8.90" fill="#32658e"/>
<circle cx="1105.10" cy="922.00" r="8.90" fill="#423f85"/>
<circle cx="1088.10" cy="944.00" r="8.90" fill="#46337f"/>
<circle cx="1084.10" cy="968.00" r="8.90" fill="#463480"/>
<circle cx="1104.10" cy="968.00" r="8.90" fill="#443983"/>
<circle cx="1133.10" cy="962.00" r="8.90" fill="#404588"/>
<circle cx="1142.10" cy="970.00" r="8.90" fill="#3f4788"/>
<circle cx="1153.10" cy="965.00" r="8.90" fill="#3e4a89"/>
<circle cx="1106.10" cy="985.00" r="8.90" fill="#443a83"/>
<circle cx="1145.10" cy="982.00" r="8.90" fill="#3f4788"/>
<circle cx="1081.90" cy="896.30" r="8.90" fill="#453581"/>
<circle cx="1100.10" cy="932.00" r="8.90" fill="#453882"/>
<circle cx="1064.10" cy="997.00" r="8.90" fill="#472e7c"/>
<circle cx="1076.10" cy="1011.00" r="8.90" fill="#46327e"/>
<circle cx="1097.10" cy="992.00" r="8.90" fill="#453882"/>
<circle cx="1098.10" cy="1003.00" r="8.90" fill="#453882"/>
<circle cx="1110.10" cy="1020.00" r="8.90" fill="#443a83"/>
<circle cx="1117.10" cy="998.00" r="8.90" fill="#433d84"/>
<circle cx="1128.10" cy="1030.00" r="8.90" fill="#433d84"/>
<circle cx="1142.10" cy="1053.00" r="8.90" fill="#423f85"/>
<circle cx="1104.10" cy="1058.00" r="8.90" fill="#443a83"/>
<circle cx="1086.10" cy="1032.00" r="8.90" fill="#453581"/>
<circle cx="1121.10" cy="1058.00" r="8.90" fill="#433d84"/>
<circle cx="1135.10" cy="1078.00" r="8.90" fill="#433e85"/>
<circle cx="1171.10" cy="995.00" r="8.90" fill="#3f4889"/>
<circle cx="1180.10" cy="1002.00" r="8.90" fill="#3f4788"/>
<circle cx="1175.10" cy="1024.00" r="8.90" fill="#414487"/>
<circle cx="1168.10" cy="1038.00" r="8.90" fill="#424186"/>
<circle cx="1180.10" cy="1040.00" r="8.90" fill="#414287"/>
<circle cx="1175.10" cy="1058.00" r="8.90" fill="#424086"/>
<circle cx="1162.10" cy="1062.00" r="8.90" fill="#424086"/>
<circle cx="1183.10" cy="1073.00" r="8.90" fill="#424186"/>
<circle cx="1161.10" cy="1022.00" r="8.90" fill="#414287"/>
<circle cx="1192.10" cy="1052.00" r="8.90" fill="#414287"/>
<circle cx="1111.10" cy="1062.00" r="8.90" fill="#443b84"/>
<circle cx="1133.10" cy="1060.00" r="8.90" fill="#433e85"/>
<circle cx="1146.10" cy="1058.00" r="8.90" fill="#423f85"/>
<circle cx="1153.10" cy="1071.00" r="8.90" fill="#424086"/>
<circle cx="1165.10" cy="1065.00" r="8.90" fill="#424086"/>
<circle cx="1142.10" cy="1077.00" r="8.90" fill="#433e85"/>
<circle cx="1122.10" cy="1080.00" r="8.90" fill="#433d84"/>
<circle cx="1050.10" cy="946.00" r="8.90" fill="#481c6e"/>
<circle cx="1034.10" cy="958.00" r="8.90" fill="#481769"/>
<circle cx="1046.10" cy="955.00" r="8.90" fill="#481c6e"/>
<circle cx="1060.10" cy="960.00" r="8.90" fill="#482576"/>
<circle cx="1051.10" cy="975.00" r="8.90" fill="#482475"/>
<circle cx="1066.10" cy="985.00" r="8.90" fill="#472d7b"/>
<circle cx="1046.10" cy="985.00" r="8.90" fill="#482374"/>
<circle cx="1048.10" cy="1000.00" r="8.90" fill="#482677"/>
<circle cx="1065.10" cy="1005.00" r="8.90" fill="#472f7d"/>
<circle cx="1068.10" cy="1018.00" r="8.90" fill="#46307e"/>
<circle cx="1165.10" cy="975.00" r="8.90" fill="#3e4c8a"/>
<circle cx="1198.10" cy="966.00" r="8.90" fill="#38588c"/>
<circle cx="1169.10" cy="985.00" r="8.90" fill="#3e4989"/>
<circle cx="1151.10" cy="907.00" r="8.90" fill="#31688e"/>
<circle cx="1212.50" cy="1034.80" r="8.90" fill="#3f4788"/>
<circle cx="1174.10" cy="1068.00" r="8.90" fill="#424086"/>
<circle cx="1018.10" cy="898.00" r="8.90" fill="#460a5d"/>
<circle cx="1031.10" cy="893.00" r="8.90" fill="#471164"/>
<circle cx="1078.10" cy="942.00" r="8.90" fill="#472d7b"/>
<circle cx="1076.10" cy="964.00" r="8.90" fill="#46307e"/>
<circle cx="1087.10" cy="980.00" r="8.90" fill="#463480"/>
<circle cx="1087.10" cy="1012.00" r="8.90" fill="#453581"/>
<circle cx="1115.10" cy="1033.00" r="8.90" fill="#443b84"/>
<circle cx="1138.10" cy="1028.00" r="8.90" fill="#433e85"/>
<circle cx="1156.10" cy="1047.00" r="8.90" fill="#424086"/>
<circle cx="1132.10" cy="1048.00" r="8.90" fill="#433e85"/>
<circle cx="1090.10" cy="1046.00" r="8.90" fill="#453882"/>
<circle cx="1106.10" cy="1050.00" r="8.90" fill="#443a83"/>
<circle cx="1069.10" cy="1042.00" r="8.90" fill="#463480"/>
<circle cx="1102.10" cy="1072.00" r="8.90" fill="#443b84"/>
<circle cx="1132.10" cy="1068.00" r="8.90" fill="#433e85"/>
<circle cx="1137.10" cy="1094.00" r="8.90" fill="#433e85"/>
<circle cx="1158.10" cy="1080.00" r="8.90" fill="#423f85"/>
<circle cx="1029.10" cy="797.80" r="8.90" fill="#46337f"/>
</g>
<g clip-path="url(#c11)">
<path d="M986.22 1183.60 L986.22 703.00" fill="none" stroke="#00ffff" stroke-opacity="0.8" stroke-width="5.08" stroke-dasharray="18.8 8.13"/>
<path d="M986.56 703.00 L988.01 710.00 L989.47 716.89 L990.92 723.69 L992.37 730.38 L993.82 736.98 L995.27 743.48 L996.72 749.89 L998.17 756.21 L999.62 762.43 L1001.07 768.56 L1002.52 774.60 L1003.97 780.56 L1005.43 786.42 L1006.88 792.21 L1008.33 797.91 L1009.78 803.52 L1011.23 809.05 L1012.68 814.51 L1014.13 819.88 L1015.58 825.18 L1017.03 830.39 L1018.48 835.54 L1019.94 840.60 L1021.39 845.60 L1022.84 850.52 L1024.29 855.37 L1025.74 860.15 L1027.19 864.86 L1028.64 869.50 L1030.09 874.07 L1031.54 878.58 L1032.99 883.02 L1034.44 887.39 L1035.90 891.71 L1037.35 895.96 L1038.80 900.14 L1040.25 904.27 L1041.70 908.34 L1043.15 912.34 L1044.60 916.29 L1046.05 920.18 L1047.50 924.02 L1048.95 927.80 L1050.40 931.52 L1051.86 935.19 L1053.31 938.81 L1054.76 942.37 L1056.21 945.89 L1057.66 949.35 L1059.11 952.76 L1060.56 956.12 L1062.01 959.43 L1063.46 962.69 L1064.91 965.91 L1066.37 969.08 L1067.82 972.20 L1069.27 975.28 L1070.72 978.31 L1072.17 981.30 L1073.62 984.25 L1075.07 987.15 L1076.52 990.01 L1077.97 992.83 L1079.42 995.61 L1080.87 998.34 L1082.33 1001.04 L1083.78 1003.70 L1085.23 1006.32 L1086.68 1008.90 L1088.13 1011.44 L1089.58 1013.95 L1091.03 1016.42 L1092.48 1018.85 L1093.93 1021.25 L1095.38 1023.61 L1096.83 1025.94 L1098.29 1028.24 L1099.74 1030.50 L1101.19 1032.73 L1102.64 1034.93 L1104.09 1037.09 L1105.54 1039.22 L1106.99 1041.33 L1108.44 1043.40 L1109.89 1045.44 L1111.34 1047.45 L1112.80 1049.43 L1114.25 1051.38 L1115.70 1053.31 L1117.15 1055.21 L1118.60 1057.08 L1120.05 1058.92 L1121.50 1060.73 L1122.95 1062.52 L1124.40 1064.28 L1125.85 1066.02 L1127.30 1067.73 L1128.76 1069.42 L1130.21 1071.08 L1131.66 1072.72 L1133.11 1074.34 L1134.56 1075.93 L1136.01 1077.49 L1137.46 1079.04 L1138.91 1080.56 L1140.36 1082.06 L1141.81 1083.54 L1143.26 1085.00 L1144.72 1086.43 L1146.17 1087.85 L1147.62 1089.24 L1149.07 1090.61 L1150.52 1091.97 L1151.97 1093.30 L1153.42 1094.62 L1154.87 1095.91 L1156.32 1097.19 L1157.77 1098.45 L1159.23 1099.69 L1160.68 1100.91 L1162.13 1102.11 L1163.58 1103.30 L1165.03 1104.47 L1166.48 1105.62 L1167.93 1106.76 L1169.38 1107.87 L1170.83 1108.98 L1172.28 1110.06 L1173.73 1111.13 L1175.19 1112.19 L1176.64 1113.23 L1178.09 1114.25 L1179.54 1115.26 L1180.99 1116.26 L1182.44 1117.24 L1183.89 1118.20 L1185.34 1119.16 L1186.79 1120.09 L1188.24 1121.02 L1189.69 1121.93 L1191.15 1122.83 L1192.60 1123.71 L1194.05 1124.58 L1195.50 1125.44 L1196.95 1126.29 L1198.40 1127.12 L1199.85 1127.95 L1201.30 1128.76 L1202.75 1129.56 L1204.20 1130.34 L1205.66 1131.12 L1207.11 1131.88 L1208.56 1132.63 L1210.01 1133.38 L1211.46 1134.11 L1212.91 1134.83 L1214.36 1135.54 L1215.81 1136.24 L1217.26 1136.93 L1218.71 1137.61 L1220.16 1138.28 L1221.62 1138.94 L1223.07 1139.59 L1224.52 1140.23 L1225.97 1140.86 L1227.42 1141.48 L1228.87 1142.09 L1230.32 1142.70 L1231.77 1143.29 L1233.22 1143.88 L1234.67 1144.46 L1236.12 1145.03 L1237.58 1145.59 L1239.03 1146.14 L1240.48 1146.69 L1241.93 1147.23 L1243.38 1147.76 L1244.83 1148.28 L1246.28 1148.79 L1247.73 1149.30 L1249.18 1149.80 L1250.63 1150.29 L1252.09 1150.78 L1253.54 1151.25 L1254.99 1151.72 L1256.44 1152.19 L1257.89 1152.65 L1259.34 1153.10 L1260.79 1153.54 L1262.24 1153.98 L1263.69 1154.41 L1265.14 1154.83 L1266.59 1155.25 L1268.05 1155.67 L1269.50 1156.07 L1270.95 1156.47 L1272.40 1156.87 L1273.85 1157.26 L1275.30 1157.64" fill="none" stroke="#00ffff" stroke-opacity="0.8" stroke-width="5.08" stroke-dasharray="18.8 8.13"/>
</g>
<g clip-path="url(#c12)">
<circle cx="1763.60" cy="703.00" r="8.90" fill="#414287"/>
<circle cx="1789.90" cy="703.00" r="8.90" fill="#482878"/>
<circle cx="1814.00" cy="725.20" r="8.90" fill="#471365"/>
<circle cx="1736.60" cy="734.60" r="8.90" fill="#34618d"/>
<circle cx="1714.40" cy="740.30" r="8.90" fill="#2f6b8e"/>
<circle cx="1791.20" cy="748.90" r="8.90" fill="#472a7a"/>
<circle cx="1727.10" cy="760.70" r="8.90" fill="#30698e"/>
<circle cx="1718.80" cy="767.10" r="8.90" fill="#2f6c8e"/>
<circle cx="1766.40" cy="770.50" r="8.90" fill="#3e4989"/>
<circle cx="1747.40" cy="773.70" r="8.90" fill="#355e8d"/>
<circle cx="1844.50" cy="762.90" r="8.90" fill="#450457"/>
<circle cx="1853.50" cy="768.80" r="8.90" fill="#440154"/>
<circle cx="1845.70" cy="780.00" r="8.90" fill="#450559"/>
<circle cx="1727.70" cy="783.20" r="8.90" fill="#30698e"/>
<circle cx="1753.70" cy="787.00" r="8.90" fill="#38588c"/>
<circle cx="1762.60" cy="788.90" r="8.90" fill="#3c4f8a"/>
<circle cx="1777.20" cy="787.60" r="8.90" fill="#424186"/>
<circle cx="1793.10" cy="788.90" r="8.90" fill="#46337f"/>
<circle cx="1833.70" cy="795.90" r="8.90" fill="#470d60"/>
<circle cx="1743.60" cy="795.30" r="8.90" fill="#33638d"/>
<circle cx="1854.50" cy="808.60" r="8.90" fill="#450457"/>
<circle cx="1793.70" cy="806.70" r="8.90" fill="#453882"/>
<circle cx="1799.40" cy="813.00" r="8.90" fill="#46327e"/>
<circle cx="1740.40" cy="808.00" r="8.90" fill="#32658e"/>
<circle cx="1748.70" cy="809.20" r="8.90" fill="#34618d"/>
<circle cx="1767.10" cy="800.30" r="8.90" fill="#3b518b"/>
<circle cx="1774.70" cy="800.30" r="8.90" fill="#3e4a89"/>
<circle cx="1763.30" cy="810.50" r="8.90" fill="#375a8c"/>
<circle cx="1773.40" cy="811.80" r="8.90" fill="#3b518b"/>
<circle cx="1789.90" cy="819.40" r="8.90" fill="#424086"/>
<circle cx="1850.50" cy="825.10" r="8.90" fill="#450559"/>
<circle cx="1741.10" cy="828.90" r="8.90" fill="#31678e"/>
<circle cx="1759.50" cy="829.50" r="8.90" fill="#34608d"/>
<circle cx="1768.30" cy="829.50" r="8.90" fill="#375a8c"/>
<circle cx="1778.50" cy="830.80" r="8.90" fill="#3c508b"/>
<circle cx="1805.10" cy="835.90" r="8.90" fill="#472c7a"/>
<circle cx="1822.90" cy="833.30" r="8.90" fill="#481769"/>
<circle cx="1833.70" cy="839.70" r="8.90" fill="#460a5d"/>
<circle cx="1847.60" cy="843.50" r="8.90" fill="#450559"/>
<circle cx="1718.80" cy="846.00" r="8.90" fill="#2d718e"/>
<circle cx="1729.00" cy="840.30" r="8.90" fill="#2f6c8e"/>
<circle cx="1748.70" cy="842.80" r="8.90" fill="#33638d"/>
<circle cx="1770.90" cy="851.10" r="8.90" fill="#38588c"/>
<circle cx="1793.70" cy="842.20" r="8.90" fill="#433d84"/>
<circle cx="1816.60" cy="849.80" r="8.90" fill="#481b6d"/>
<circle cx="1833.00" cy="849.80" r="8.90" fill="#46085c"/>
<circle cx="1734.10" cy="852.40" r="8.90" fill="#31668e"/>
<circle cx="1784.80" cy="852.40" r="8.90" fill="#3f4889"/>
<circle cx="1803.90" cy="852.40" r="8.90" fill="#472c7a"/>
<circle cx="1891.00" cy="703.00" r="8.90" fill="#440154"/>
<circle cx="1932.20" cy="703.00" r="8.90" fill="#440154"/>
<circle cx="1870.30" cy="747.30" r="8.90" fill="#440154"/>
<circle cx="1955.10" cy="744.70" r="8.90" fill="#440154"/>
<circle cx="1926.80" cy="791.20" r="8.90" fill="#440154"/>
<circle cx="1943.60" cy="789.50" r="8.90" fill="#440154"/>
<circle cx="1888.40" cy="806.00" r="8.90" fill="#440154"/>
<circle cx="1972.80" cy="808.00" r="8.90" fill="#440154"/>
<circle cx="1943.60" cy="811.80" r="8.90" fill="#440154"/>
<circle cx="1966.50" cy="820.00" r="8.90" fill="#440154"/>
<circle cx="1891.40" cy="838.40" r="8.90" fill="#440154"/>
<circle cx="1906.20" cy="844.70" r="8.90" fill="#440154"/>
<circle cx="1729.60" cy="854.50" r="8.90" fill="#30698e"/>
<circle cx="1746.80" cy="856.40" r="8.90" fill="#34608d"/>
<circle cx="1769.60" cy="852.60" r="8.90" fill="#38598c"/>
<circle cx="1784.80" cy="855.20" r="8.90" fill="#3f4788"/>
<circle cx="1795.00" cy="846.30" r="8.90" fill="#443a83"/>
<circle cx="1803.90" cy="859.00" r="8.90" fill="#472a7a"/>
<circle cx="1814.00" cy="862.80" r="8.90" fill="#481c6e"/>
<circle cx="1830.50" cy="855.20" r="8.90" fill="#460a5d"/>
<circle cx="1724.60" cy="879.90" r="8.90" fill="#2e6d8e"/>
<circle cx="1742.30" cy="872.90" r="8.90" fill="#365d8d"/>
<circle cx="1740.40" cy="885.60" r="8.90" fill="#375b8d"/>
<circle cx="1760.70" cy="881.80" r="8.90" fill="#3c508b"/>
<circle cx="1778.50" cy="874.20" r="8.90" fill="#3f4889"/>
<circle cx="1789.90" cy="878.00" r="8.90" fill="#443a83"/>
<circle cx="1803.90" cy="877.40" r="8.90" fill="#482576"/>
<circle cx="1814.70" cy="892.00" r="8.90" fill="#481769"/>
<circle cx="1828.00" cy="871.60" r="8.90" fill="#470d60"/>
<circle cx="1847.00" cy="874.20" r="8.90" fill="#440256"/>
<circle cx="1848.30" cy="883.10" r="8.90" fill="#440256"/>
<circle cx="1730.90" cy="894.50" r="8.90" fill="#32648e"/>
<circle cx="1722.60" cy="904.60" r="8.90" fill="#2e6e8e"/>
<circle cx="1737.90" cy="907.20" r="8.90" fill="#38598c"/>
<circle cx="1754.40" cy="903.40" r="8.90" fill="#3d4d8a"/>
<circle cx="1751.80" cy="909.70" r="8.90" fill="#3d4d8a"/>
<circle cx="1768.30" cy="893.20" r="8.90" fill="#3f4788"/>
<circle cx="1782.30" cy="895.80" r="8.90" fill="#433d84"/>
<circle cx="1787.40" cy="904.60" r="8.90" fill="#453581"/>
<circle cx="1800.10" cy="916.10" r="8.90" fill="#482677"/>
<circle cx="1828.00" cy="895.80" r="8.90" fill="#460b5e"/>
<circle cx="1839.40" cy="904.60" r="8.90" fill="#450559"/>
<circle cx="1828.00" cy="911.00" r="8.90" fill="#460b5e"/>
<circle cx="1843.20" cy="915.40" r="8.90" fill="#450457"/>
<circle cx="1853.40" cy="904.60" r="8.90" fill="#440154"/>
<circle cx="1759.50" cy="922.40" r="8.90" fill="#404688"/>
<circle cx="1774.70" cy="916.10" r="8.90" fill="#423f85"/>
<circle cx="1789.90" cy="918.60" r="8.90" fill="#46337f"/>
<circle cx="1812.80" cy="921.10" r="8.90" fill="#48186a"/>
<circle cx="1822.90" cy="926.20" r="8.90" fill="#471063"/>
<circle cx="1840.70" cy="932.60" r="8.90" fill="#450559"/>
<circle cx="1853.40" cy="921.10" r="8.90" fill="#440154"/>
<circle cx="1739.10" cy="935.70" r="8.90" fill="#3a548c"/>
<circle cx="1719.50" cy="939.50" r="8.90" fill="#2d708e"/>
<circle cx="1713.80" cy="944.00" r="8.90" fill="#2b748e"/>
<circle cx="1759.50" cy="936.40" r="8.90" fill="#404588"/>
<circle cx="1777.20" cy="932.60" r="8.90" fill="#433d84"/>
<circle cx="1793.70" cy="936.40" r="8.90" fill="#472d7b"/>
<circle cx="1810.20" cy="933.80" r="8.90" fill="#481a6c"/>
<circle cx="1828.00" cy="944.00" r="8.90" fill="#460a5d"/>
<circle cx="1850.80" cy="949.00" r="8.90" fill="#440154"/>
<circle cx="1723.30" cy="962.40" r="8.90" fill="#32658e"/>
<circle cx="1751.80" cy="958.00" r="8.90" fill="#3d4d8a"/>
<circle cx="1765.80" cy="949.00" r="8.90" fill="#414287"/>
<circle cx="1754.40" cy="966.80" r="8.90" fill="#3e4a89"/>
<circle cx="1772.10" cy="964.30" r="8.90" fill="#433e85"/>
<circle cx="1787.40" cy="954.10" r="8.90" fill="#472e7c"/>
<circle cx="1803.90" cy="952.90" r="8.90" fill="#481c6e"/>
<circle cx="1820.40" cy="959.20" r="8.90" fill="#460b5e"/>
<circle cx="1839.40" cy="955.40" r="8.90" fill="#440256"/>
<circle cx="1850.80" cy="964.30" r="8.90" fill="#440154"/>
<circle cx="1767.10" cy="977.00" r="8.90" fill="#424186"/>
<circle cx="1784.80" cy="979.50" r="8.90" fill="#472d7b"/>
<circle cx="1805.10" cy="974.40" r="8.90" fill="#481a6c"/>
<circle cx="1822.90" cy="973.20" r="8.90" fill="#460a5d"/>
<circle cx="1840.70" cy="978.20" r="8.90" fill="#440256"/>
<circle cx="1750.60" cy="988.40" r="8.90" fill="#404588"/>
<circle cx="1735.30" cy="999.80" r="8.90" fill="#404588"/>
<circle cx="1767.10" cy="996.00" r="8.90" fill="#443a83"/>
<circle cx="1782.30" cy="991.00" r="8.90" fill="#472d7b"/>
<circle cx="1801.30" cy="991.00" r="8.90" fill="#481a6c"/>
<circle cx="1817.80" cy="992.20" r="8.90" fill="#460b5e"/>
<circle cx="1835.60" cy="994.70" r="8.90" fill="#440154"/>
<circle cx="1751.80" cy="1003.60" r="8.90" fill="#443b84"/>
<circle cx="1852.10" cy="987.10" r="8.90" fill="#440154"/>
<circle cx="1872.30" cy="862.10" r="8.90" fill="#440154"/>
<circle cx="1891.00" cy="876.10" r="8.90" fill="#440154"/>
<circle cx="1877.60" cy="879.30" r="8.90" fill="#440154"/>
<circle cx="1915.10" cy="869.10" r="8.90" fill="#440154"/>
<circle cx="1926.50" cy="867.80" r="8.90" fill="#440154"/>
<circle cx="1934.10" cy="881.20" r="8.90" fill="#440154"/>
<circle cx="1925.90" cy="884.30" r="8.90" fill="#440154"/>
<circle cx="1926.50" cy="893.90" r="8.90" fill="#440154"/>
<circle cx="1962.00" cy="885.40" r="8.90" fill="#440154"/>
<circle cx="1965.80" cy="901.50" r="8.90" fill="#440154"/>
<circle cx="1878.30" cy="891.30" r="8.90" fill="#440154"/>
<circle cx="1898.00" cy="896.40" r="8.90" fill="#440154"/>
<circle cx="1857.00" cy="912.00" r="8.90" fill="#440154"/>
<circle cx="1870.00" cy="906.00" r="8.90" fill="#440154"/>
<circle cx="1882.70" cy="914.80" r="8.90" fill="#440154"/>
<circle cx="1901.80" cy="914.80" r="8.90" fill="#440154"/>
<circle cx="1917.00" cy="912.90" r="8.90" fill="#440154"/>
<circle cx="1938.60" cy="919.90" r="8.90" fill="#440154"/>
<circle cx="1904.30" cy="927.50" r="8.90" fill="#440154"/>
<circle cx="1921.40" cy="928.80" r="8.90" fill="#440154"/>
<circle cx="1935.40" cy="930.70" r="8.90" fill="#440154"/>
<circle cx="1948.70" cy="935.10" r="8.90" fill="#440154"/>
<circle cx="1988.10" cy="937.60" r="8.90" fill="#440154"/>
<circle cx="1854.80" cy="932.60" r="8.90" fill="#440154"/>
<circle cx="1873.80" cy="940.20" r="8.90" fill="#440154"/>
<circle cx="1881.50" cy="951.00" r="8.90" fill="#440154"/>
<circle cx="1858.60" cy="946.50" r="8.90" fill="#440154"/>
<circle cx="1910.00" cy="949.00" r="8.90" fill="#440154"/>
<circle cx="1898.00" cy="958.00" r="8.90" fill="#440154"/>
<circle cx="1929.70" cy="955.40" r="8.90" fill="#440154"/>
<circle cx="1937.30" cy="966.20" r="8.90" fill="#440154"/>
<circle cx="1963.90" cy="951.60" r="8.90" fill="#440154"/>
<circle cx="1968.40" cy="963.00" r="8.90" fill="#440154"/>
<circle cx="1905.60" cy="971.90" r="8.90" fill="#440154"/>
<circle cx="1917.00" cy="970.60" r="8.90" fill="#440154"/>
<circle cx="1927.10" cy="979.50" r="8.90" fill="#440154"/>
<circle cx="1927.10" cy="988.40" r="8.90" fill="#440154"/>
<circle cx="1998.20" cy="979.50" r="8.90" fill="#440154"/>
<circle cx="1881.50" cy="969.40" r="8.90" fill="#440154"/>
<circle cx="1858.60" cy="979.50" r="8.90" fill="#440154"/>
<circle cx="1863.70" cy="988.40" r="8.90" fill="#440154"/>
<circle cx="1884.00" cy="984.60" r="8.90" fill="#440154"/>
<circle cx="1901.80" cy="999.80" r="8.90" fill="#440154"/>
<circle cx="1887.80" cy="1002.40" r="8.90" fill="#440154"/>
<circle cx="1928.40" cy="1003.60" r="8.90" fill="#440154"/>
<circle cx="1956.30" cy="1002.40" r="8.90" fill="#440154"/>
<circle cx="1993.10" cy="999.80" r="8.90" fill="#440154"/>
<circle cx="1856.10" cy="1001.00" r="8.90" fill="#440154"/>
<circle cx="1770.20" cy="1000.10" r="8.90" fill="#453781"/>
<circle cx="1769.00" cy="1016.60" r="8.90" fill="#472e7c"/>
<circle cx="1786.10" cy="1012.80" r="8.90" fill="#481d6f"/>
<circle cx="1797.50" cy="1002.60" r="8.90" fill="#481a6c"/>
<circle cx="1769.00" cy="1033.10" r="8.90" fill="#482475"/>
<circle cx="1787.40" cy="1047.00" r="8.90" fill="#470e61"/>
<circle cx="1797.50" cy="1031.80" r="8.90" fill="#470e61"/>
<circle cx="1810.20" cy="1026.70" r="8.90" fill="#460a5d"/>
<circle cx="1828.00" cy="1014.00" r="8.90" fill="#440256"/>
<circle cx="1845.70" cy="1011.50" r="8.90" fill="#440154"/>
<circle cx="1850.80" cy="1024.20" r="8.90" fill="#440154"/>
<circle cx="1807.70" cy="1054.60" r="8.90" fill="#450559"/>
<circle cx="1817.80" cy="1063.50" r="8.90" fill="#440256"/>
<circle cx="1822.90" cy="1045.80" r="8.90" fill="#440256"/>
<circle cx="1835.60" cy="1039.40" r="8.90" fill="#440154"/>
<circle cx="1848.30" cy="1045.80" r="8.90" fill="#440154"/>
<circle cx="1825.40" cy="1081.30" r="8.90" fill="#440154"/>
<circle cx="1841.90" cy="1069.90" r="8.90" fill="#440154"/>
<circle cx="1847.00" cy="1092.70" r="8.90" fill="#440154"/>
<circle cx="1852.10" cy="1082.60" r="8.90" fill="#440154"/>
<circle cx="1806.40" cy="1038.10" r="8.90" fill="#460a5d"/>
<circle cx="1816.60" cy="1002.60" r="8.90" fill="#460b5e"/>
<circle cx="1835.60" cy="1002.60" r="8.90" fill="#440154"/>
<circle cx="1830.50" cy="1029.30" r="8.90" fill="#440154"/>
<circle cx="1890.30" cy="1005.20" r="8.90" fill="#440154"/>
<circle cx="1865.00" cy="1017.20" r="8.90" fill="#440154"/>
<circle cx="1876.40" cy="1016.60" r="8.90" fill="#440154"/>
<circle cx="1903.00" cy="1016.60" r="8.90" fill="#440154"/>
<circle cx="1919.50" cy="1017.80" r="8.90" fill="#440154"/>
<circle cx="1948.70" cy="1021.00" r="8.90" fill="#440154"/>
<circle cx="1896.70" cy="1026.70" r="8.90" fill="#440154"/>
<circle cx="1924.60" cy="1031.80" r="8.90" fill="#440154"/>
<circle cx="1932.20" cy="1031.80" r="8.90" fill="#440154"/>
<circle cx="1952.50" cy="1035.60" r="8.90" fill="#440154"/>
<circle cx="1988.70" cy="1036.20" r="8.90" fill="#440154"/>
<circle cx="1978.50" cy="1042.60" r="8.90" fill="#440154"/>
<circle cx="1998.20" cy="1050.80" r="8.90" fill="#440154"/>
<circle cx="1909.40" cy="1036.90" r="8.90" fill="#440154"/>
<circle cx="1856.10" cy="1039.40" r="8.90" fill="#440154"/>
<circle cx="1870.00" cy="1036.90" r="8.90" fill="#440154"/>
<circle cx="1886.50" cy="1040.70" r="8.90" fill="#440154"/>
<circle cx="1900.50" cy="1054.60" r="8.90" fill="#440154"/>
<circle cx="1922.10" cy="1050.80" r="8.90" fill="#440154"/>
<circle cx="1936.00" cy="1054.60" r="8.90" fill="#440154"/>
<circle cx="1956.30" cy="1054.60" r="8.90" fill="#440154"/>
<circle cx="1968.40" cy="1064.80" r="8.90" fill="#440154"/>
<circle cx="1991.20" cy="1070.50" r="8.90" fill="#440154"/>
<circle cx="1998.20" cy="1059.70" r="8.90" fill="#440154"/>
<circle cx="1934.10" cy="1068.00" r="8.90" fill="#440154"/>
<circle cx="1911.90" cy="1073.70" r="8.90" fill="#440154"/>
<circle cx="1890.30" cy="1068.60" r="8.90" fill="#440154"/>
<circle cx="1858.60" cy="1077.50" r="8.90" fill="#440154"/>
<circle cx="1876.40" cy="1071.10" r="8.90" fill="#440154"/>
<circle cx="1884.60" cy="1088.90" r="8.90" fill="#440154"/>
<circle cx="1908.10" cy="1086.40" r="8.90" fill="#440154"/>
<circle cx="1932.90" cy="1087.00" r="8.90" fill="#440154"/>
<circle cx="1923.30" cy="1088.90" r="8.90" fill="#440154"/>
<circle cx="1915.70" cy="1095.30" r="8.90" fill="#440154"/>
<circle cx="1927.10" cy="1096.50" r="8.90" fill="#440154"/>
<circle cx="1853.50" cy="1091.40" r="8.90" fill="#440154"/>
<circle cx="1867.50" cy="1099.10" r="8.90" fill="#440154"/>
<circle cx="1875.10" cy="1107.90" r="8.90" fill="#440154"/>
<circle cx="1906.80" cy="1114.90" r="8.90" fill="#440154"/>
<circle cx="1924.60" cy="1111.80" r="8.90" fill="#440154"/>
<circle cx="1957.60" cy="1097.80" r="8.90" fill="#440154"/>
<circle cx="1966.50" cy="1103.50" r="8.90" fill="#440154"/>
<circle cx="1745.60" cy="889.20" r="8.90" fill="#39568c"/>
<circle cx="1750.40" cy="886.00" r="8.90" fill="#3a548c"/>
<circle cx="1781.30" cy="894.70" r="8.90" fill="#433e85"/>
<circle cx="1785.30" cy="903.40" r="8.90" fill="#453882"/>
<circle cx="1797.20" cy="907.40" r="8.90" fill="#472a7a"/>
<circle cx="1775.80" cy="901.90" r="8.90" fill="#424086"/>
<circle cx="1761.50" cy="919.30" r="8.90" fill="#404588"/>
<circle cx="1756.80" cy="923.30" r="8.90" fill="#3f4788"/>
<circle cx="1769.40" cy="931.20" r="8.90" fill="#424086"/>
<circle cx="1785.00" cy="931.00" r="8.90" fill="#453882"/>
<circle cx="1801.00" cy="927.00" r="8.90" fill="#482576"/>
<circle cx="1750.40" cy="909.80" r="8.90" fill="#3d4e8a"/>
<circle cx="1793.00" cy="917.00" r="8.90" fill="#472f7d"/>
<circle cx="1803.00" cy="900.00" r="8.90" fill="#482475"/>
<circle cx="1766.00" cy="824.00" r="8.90" fill="#375b8d"/>
<circle cx="1759.50" cy="835.00" r="8.90" fill="#34618d"/>
<circle cx="1771.50" cy="838.50" r="8.90" fill="#38588c"/>
<circle cx="1875.50" cy="862.50" r="8.90" fill="#440154"/>
<circle cx="1834.50" cy="873.50" r="8.90" fill="#46075a"/>
<circle cx="1833.00" cy="922.00" r="8.90" fill="#46085c"/>
<circle cx="1816.00" cy="944.00" r="8.90" fill="#471365"/>
<circle cx="1812.00" cy="968.00" r="8.90" fill="#471365"/>
<circle cx="1832.00" cy="968.00" r="8.90" fill="#450559"/>
<circle cx="1861.00" cy="962.00" r="8.90" fill="#440154"/>
<circle cx="1870.00" cy="970.00" r="8.90" fill="#440154"/>
<circle cx="1881.00" cy="965.00" r="8.90" fill="#440154"/>
<circle cx="1834.00" cy="985.00" r="8.90" fill="#450457"/>
<circle cx="1873.00" cy="982.00" r="8.90" fill="#440154"/>
<circle cx="1809.80" cy="896.30" r="8.90" fill="#481c6e"/>
<circle cx="1828.00" cy="932.00" r="8.90" fill="#460b5e"/>
<circle cx="1792.00" cy="997.00" r="8.90" fill="#482071"/>
<circle cx="1804.00" cy="1011.00" r="8.90" fill="#471164"/>
<circle cx="1825.00" cy="992.00" r="8.90" fill="#46075a"/>
<circle cx="1826.00" cy="1003.00" r="8.90" fill="#450457"/>
<circle cx="1838.00" cy="1020.00" r="8.90" fill="#440154"/>
<circle cx="1845.00" cy="998.00" r="8.90" fill="#440154"/>
<circle cx="1856.00" cy="1030.00" r="8.90" fill="#440154"/>
<circle cx="1870.00" cy="1053.00" r="8.90" fill="#440154"/>
<circle cx="1832.00" cy="1058.00" r="8.90" fill="#440154"/>
<circle cx="1814.00" cy="1032.00" r="8.90" fill="#46075a"/>
<circle cx="1849.00" cy="1058.00" r="8.90" fill="#440154"/>
<circle cx="1863.00" cy="1078.00" r="8.90" fill="#440154"/>
<circle cx="1899.00" cy="995.00" r="8.90" fill="#440154"/>
<circle cx="1908.00" cy="1002.00" r="8.90" fill="#440154"/>
<circle cx="1903.00" cy="1024.00" r="8.90" fill="#440154"/>
<circle cx="1896.00" cy="1038.00" r="8.90" fill="#440154"/>
<circle cx="1908.00" cy="1040.00" r="8.90" fill="#440154"/>
<circle cx="1903.00" cy="1058.00" r="8.90" fill="#440154"/>
<circle cx="1890.00" cy="1062.00" r="8.90" fill="#440154"/>
<circle cx="1911.00" cy="1073.00" r="8.90" fill="#440154"/>
<circle cx="1889.00" cy="1022.00" r="8.90" fill="#440154"/>
<circle cx="1920.00" cy="1052.00" r="8.90" fill="#440154"/>
<circle cx="1839.00" cy="1062.00" r="8.90" fill="#440154"/>
<circle cx="1861.00" cy="1060.00" r="8.90" fill="#440154"/>
<circle cx="1874.00" cy="1058.00" r="8.90" fill="#440154"/>
<circle cx="1881.00" cy="1071.00" r="8.90" fill="#440154"/>
<circle cx="1893.00" cy="1065.00" r="8.90" fill="#440154"/>
<circle cx="1870.00" cy="1077.00" r="8.90" fill="#440154"/>
<circle cx="1850.00" cy="1080.00" r="8.90" fill="#440154"/>
<circle cx="1778.00" cy="946.00" r="8.90" fill="#443a83"/>
<circle cx="1762.00" cy="958.00" r="8.90" fill="#404588"/>
<circle cx="1774.00" cy="955.00" r="8.90" fill="#433d84"/>
<circle cx="1788.00" cy="960.00" r="8.90" fill="#472c7a"/>
<circle cx="1779.00" cy="975.00" r="8.90" fill="#453581"/>
<circle cx="1794.00" cy="985.00" r="8.90" fill="#482173"/>
<circle cx="1774.00" cy="985.00" r="8.90" fill="#443983"/>
<circle cx="1776.00" cy="1000.00" r="8.90" fill="#46307e"/>
<circle cx="1793.00" cy="1005.00" r="8.90" fill="#481c6e"/>
<circle cx="1796.00" cy="1018.00" r="8.90" fill="#481467"/>
<circle cx="1893.00" cy="975.00" r="8.90" fill="#440154"/>
<circle cx="1926.00" cy="966.00" r="8.90" fill="#440154"/>
<circle cx="1897.00" cy="985.00" r="8.90" fill="#440154"/>
<circle cx="1879.00" cy="907.00" r="8.90" fill="#440154"/>
<circle cx="1940.40" cy="1034.80" r="8.90" fill="#440154"/>
<circle cx="1902.00" cy="1068.00" r="8.90" fill="#440154"/>
<circle cx="1746.00" cy="898.00" r="8.90" fill="#3a538b"/>
<circle cx="1759.00" cy="893.00" r="8.90" fill="#3d4d8a"/>
<circle cx="1806.00" cy="942.00" r="8.90" fill="#481c6e"/>
<circle cx="1804.00" cy="964.00" r="8.90" fill="#481b6d"/>
<circle cx="1815.00" cy="980.00" r="8.90" fill="#471063"/>
<circle cx="1815.00" cy="1012.00" r="8.90" fill="#460a5d"/>
<circle cx="1843.00" cy="1033.00" r="8.90" fill="#440154"/>
<circle cx="1866.00" cy="1028.00" r="8.90" fill="#440154"/>
<circle cx="1884.00" cy="1047.00" r="8.90" fill="#440154"/>
<circle cx="1860.00" cy="1048.00" r="8.90" fill="#440154"/>
<circle cx="1818.00" cy="1046.00" r="8.90" fill="#450457"/>
<circle cx="1834.00" cy="1050.00" r="8.90" fill="#440154"/>
<circle cx="1797.00" cy="1042.00" r="8.90" fill="#470d60"/>
<circle cx="1830.00" cy="1072.00" r="8.90" fill="#440154"/>
<circle cx="1860.00" cy="1068.00" r="8.90" fill="#440154"/>
<circle cx="1865.00" cy="1094.00" r="8.90" fill="#440154"/>
<circle cx="1886.00" cy="1080.00" r="8.90" fill="#440154"/>
<circle cx="1757.00" cy="797.80" r="8.90" fill="#38598c"/>
</g>
<g clip-path="url(#c12)">
<path d="M1714.12 1183.60 L1714.12 703.00" fill="none" stroke="#00ffff" stroke-opacity="0.8" stroke-width="5.08" stroke-dasharray="18.8 8.13"/>
<path d="M1714.46 703.00 L1715.91 710.00 L1717.37 716.89 L1718.82 723.69 L1720.27 730.38 L1721.72 736.98 L1723.17 743.48 L1724.62 749.89 L1726.07 756.21 L1727.52 762.43 L1728.97 768.56 L1730.42 774.60 L1731.87 780.56 L1733.33 786.42 L1734.78 792.21 L1736.23 797.91 L1737.68 803.52 L1739.13 809.05 L1740.58 814.51 L1742.03 819.88 L1743.48 825.18 L1744.93 830.39 L1746.38 835.54 L1747.84 840.60 L1749.29 845.60 L1750.74 850.52 L1752.19 855.37 L1753.64 860.15 L1755.09 864.86 L1756.54 869.50 L1757.99 874.07 L1759.44 878.58 L1760.89 883.02 L1762.34 887.39 L1763.80 891.71 L1765.25 895.96 L1766.70 900.14 L1768.15 904.27 L1769.60 908.34 L1771.05 912.34 L1772.50 916.29 L1773.95 920.18 L1775.40 924.02 L1776.85 927.80 L1778.30 931.52 L1779.76 935.19 L1781.21 938.81 L1782.66 942.37 L1784.11 945.89 L1785.56 949.35 L1787.01 952.76 L1788.46 956.12 L1789.91 959.43 L1791.36 962.69 L1792.81 965.91 L1794.27 969.08 L1795.72 972.20 L1797.17 975.28 L1798.62 978.31 L1800.07 981.30 L1801.52 984.25 L1802.97 987.15 L1804.42 990.01 L1805.87 992.83 L1807.32 995.61 L1808.77 998.34 L1810.23 1001.04 L1811.68 1003.70 L1813.13 1006.32 L1814.58 1008.90 L1816.03 1011.44 L1817.48 1013.95 L1818.93 1016.42 L1820.38 1018.85 L1821.83 1021.25 L1823.28 1023.61 L1824.73 1025.94 L1826.19 1028.24 L1827.64 1030.50 L1829.09 1032.73 L1830.54 1034.93 L1831.99 1037.09 L1833.44 1039.22 L1834.89 1041.33 L1836.34 1043.40 L1837.79 1045.44 L1839.24 1047.45 L1840.70 1049.43 L1842.15 1051.38 L1843.60 1053.31 L1845.05 1055.21 L1846.50 1057.08 L1847.95 1058.92 L1849.40 1060.73 L1850.85 1062.52 L1852.30 1064.28 L1853.75 1066.02 L1855.20 1067.73 L1856.66 1069.42 L1858.11 1071.08 L1859.56 1072.72 L1861.01 1074.34 L1862.46 1075.93 L1863.91 1077.49 L1865.36 1079.04 L1866.81 1080.56 L1868.26 1082.06 L1869.71 1083.54 L1871.16 1085.00 L1872.62 1086.43 L1874.07 1087.85 L1875.52 1089.24 L1876.97 1090.61 L1878.42 1091.97 L1879.87 1093.30 L1881.32 1094.62 L1882.77 1095.91 L1884.22 1097.19 L1885.67 1098.45 L1887.13 1099.69 L1888.58 1100.91 L1890.03 1102.11 L1891.48 1103.30 L1892.93 1104.47 L1894.38 1105.62 L1895.83 1106.76 L1897.28 1107.87 L1898.73 1108.98 L1900.18 1110.06 L1901.63 1111.13 L1903.09 1112.19 L1904.54 1113.23 L1905.99 1114.25 L1907.44 1115.26 L1908.89 1116.26 L1910.34 1117.24 L1911.79 1118.20 L1913.24 1119.16 L1914.69 1120.09 L1916.14 1121.02 L1917.59 1121.93 L1919.05 1122.83 L1920.50 1123.71 L1921.95 1124.58 L1923.40 1125.44 L1924.85 1126.29 L1926.30 1127.12 L1927.75 1127.95 L1929.20 1128.76 L1930.65 1129.56 L1932.10 1130.34 L1933.56 1131.12 L1935.01 1131.88 L1936.46 1132.63 L1937.91 1133.38 L1939.36 1134.11 L1940.81 1134.83 L1942.26 1135.54 L1943.71 1136.24 L1945.16 1136.93 L1946.61 1137.61 L1948.06 1138.28 L1949.52 1138.94 L1950.97 1139.59 L1952.42 1140.23 L1953.87 1140.86 L1955.32 1141.48 L1956.77 1142.09 L1958.22 1142.70 L1959.67 1143.29 L1961.12 1143.88 L1962.57 1144.46 L1964.02 1145.03 L1965.48 1145.59 L1966.93 1146.14 L1968.38 1146.69 L1969.83 1147.23 L1971.28 1147.76 L1972.73 1148.28 L1974.18 1148.79 L1975.63 1149.30 L1977.08 1149.80 L1978.53 1150.29 L1979.99 1150.78 L1981.44 1151.25 L1982.89 1151.72 L1984.34 1152.19 L1985.79 1152.65 L1987.24 1153.10 L1988.69 1153.54 L1990.14 1153.98 L1991.59 1154.41 L1993.04 1154.83 L1994.49 1155.25 L1995.95 1155.67 L1997.40 1156.07 L1998.85 1156.47 L2000.30 1156.87 L2001.75 1157.26 L2003.20 1157.64" fill="none" stroke="#00ffff" stroke-opacity="0.8" stroke-width="5.08" stroke-dasharray="18.8 8.13"/>
</g>
<rect x="91.60" y="92.20" width="455.60" height="480.60" fill="none" stroke="#000" stroke-width="2.0"/>
<path d="M91.60 572.80 V581.69 M91.60 92.20 V83.31 M205.50 572.80 V581.69 M205.50 92.20 V83.31 M319.40 572.80 V581.69 M319.40 92.20 V83.31 M433.30 572.80 V581.69 M433.30 92.20 V83.31 M547.20 572.80 V581.69 M547.20 92.20 V83.31 M91.60 572.80 H82.71 M547.20 572.80 H556.09 M91.60 476.68 H82.71 M547.20 476.68 H556.09 M91.60 380.56 H82.71 M547.20 380.56 H556.09 M91.60 284.44 H82.71 M547.20 284.44 H556.09 M91.60 188.32 H82.71 M547.20 188.32 H556.09 M91.60 92.20 H82.71 M547.20 92.20 H556.09" stroke="#000" stroke-width="2.0" fill="none"/>
<g font-family="'DejaVu Sans', 'Liberation Sans', sans-serif" font-size="25.40" fill="#000">
<text x="91.60" y="609.90" text-anchor="middle">−1.0</text>
<text x="205.50" y="609.90" text-anchor="middle">−0.5</text>
<text x="319.40" y="609.90" text-anchor="middle">0.0</text>
<text x="433.30" y="609.90" text-anchor="middle">0.5</text>
<text x="547.20" y="609.90" text-anchor="middle">1.0</text>
<text x="73.82" y="582.20" text-anchor="end">0.0</text>
<text x="73.82" y="486.08" text-anchor="end">0.2</text>
<text x="73.82" y="389.96" text-anchor="end">0.4</text>
<text x="73.82" y="293.84" text-anchor="end">0.6</text>
<text x="73.82" y="197.72" text-anchor="end">0.8</text>
<text x="73.82" y="101.60" text-anchor="end">1.0</text>
<text x="319.40" y="644.60" text-anchor="middle">log a/kpc</text>
<text transform="translate(20.10 335.50) rotate(-90)" text-anchor="middle">b/a</text>
</g>
<rect x="589.90" y="92.20" width="24.20" height="480.60" fill="url(#vg)" stroke="#000" stroke-width="2.0"/>
<path d="M614.10 572.80 H622.99 M614.10 476.68 H622.99 M614.10 380.56 H622.99 M614.10 284.44 H622.99 M614.10 188.32 H622.99 M614.10 92.20 H622.99" stroke="#000" stroke-width="2.0" fill="none"/>
<g font-family="'DejaVu Sans', 'Liberation Sans', sans-serif" font-size="25.40" fill="#000">
<text x="631.88" y="582.20">0.0</text>
<text x="631.88" y="486.08">0.2</text>
<text x="631.88" y="389.96">0.4</text>
<text x="631.88" y="293.84">0.6</text>
<text x="631.88" y="197.72">0.8</text>
<text x="631.88" y="101.60">1.0</text>
</g>
<text transform="translate(707.90 336.50) rotate(-90)" text-anchor="middle" font-family="'DejaVu Sans', 'Liberation Sans', sans-serif" font-size="30.48">Fraction</text>
<text x="319.40" y="77.60" text-anchor="middle" font-family="'DejaVu Sans', 'Liberation Sans', sans-serif" font-size="30.48">Model Prolate Fractions</text>
<rect x="819.70" y="92.20" width="455.60" height="480.60" fill="none" stroke="#000" stroke-width="2.0"/>
<path d="M819.70 572.80 V581.69 M819.70 92.20 V83.31 M933.60 572.80 V581.69 M933.60 92.20 V83.31 M1047.50 572.80 V581.69 M1047.50 92.20 V83.31 M1161.40 572.80 V581.69 M1161.40 92.20 V83.31 M1275.30 572.80 V581.69 M1275.30 92.20 V83.31 M819.70 572.80 H810.81 M1275.30 572.80 H1284.19 M819.70 476.68 H810.81 M1275.30 476.68 H1284.19 M819.70 380.56 H810.81 M1275.30 380.56 H1284.19 M819.70 284.44 H810.81 M1275.30 284.44 H1284.19 M819.70 188.32 H810.81 M1275.30 188.32 H1284.19 M819.70 92.20 H810.81 M1275.30 92.20 H1284.19" stroke="#000" stroke-width="2.0" fill="none"/>
<g font-family="'DejaVu Sans', 'Liberation Sans', sans-serif" font-size="25.40" fill="#000">
<text x="819.70" y="609.90" text-anchor="middle">−1.0</text>
<text x="933.60" y="609.90" text-anchor="middle">−0.5</text>
<text x="1047.50" y="609.90" text-anchor="middle">0.0</text>
<text x="1161.40" y="609.90" text-anchor="middle">0.5</text>
<text x="1275.30" y="609.90" text-anchor="middle">1.0</text>
<text x="801.92" y="582.20" text-anchor="end">0.0</text>
<text x="801.92" y="486.08" text-anchor="end">0.2</text>
<text x="801.92" y="389.96" text-anchor="end">0.4</text>
<text x="801.92" y="293.84" text-anchor="end">0.6</text>
<text x="801.92" y="197.72" text-anchor="end">0.8</text>
<text x="801.92" y="101.60" text-anchor="end">1.0</text>
<text x="1047.50" y="644.60" text-anchor="middle">log a/kpc</text>
<text transform="translate(748.20 335.50) rotate(-90)" text-anchor="middle">b/a</text>
</g>
<rect x="1318.00" y="92.20" width="24.20" height="480.60" fill="url(#vg)" stroke="#000" stroke-width="2.0"/>
<path d="M1342.20 572.80 H1351.09 M1342.20 476.68 H1351.09 M1342.20 380.56 H1351.09 M1342.20 284.44 H1351.09 M1342.20 188.32 H1351.09 M1342.20 92.20 H1351.09" stroke="#000" stroke-width="2.0" fill="none"/>
<g font-family="'DejaVu Sans', 'Liberation Sans', sans-serif" font-size="25.40" fill="#000">
<text x="1359.98" y="582.20">0.0</text>
<text x="1359.98" y="486.08">0.2</text>
<text x="1359.98" y="389.96">0.4</text>
<text x="1359.98" y="293.84">0.6</text>
<text x="1359.98" y="197.72">0.8</text>
<text x="1359.98" y="101.60">1.0</text>
</g>
<text transform="translate(1436.00 336.50) rotate(-90)" text-anchor="middle" font-family="'DejaVu Sans', 'Liberation Sans', sans-serif" font-size="30.48">Fraction</text>
<text x="1047.50" y="77.60" text-anchor="middle" font-family="'DejaVu Sans', 'Liberation Sans', sans-serif" font-size="30.48">Model Oblate Fractions</text>
<rect x="1547.60" y="92.20" width="455.60" height="480.60" fill="none" stroke="#000" stroke-width="2.0"/>
<path d="M1547.60 572.80 V581.69 M1547.60 92.20 V83.31 M1661.50 572.80 V581.69 M1661.50 92.20 V83.31 M1775.40 572.80 V581.69 M1775.40 92.20 V83.31 M1889.30 572.80 V581.69 M1889.30 92.20 V83.31 M2003.20 572.80 V581.69 M2003.20 92.20 V83.31 M1547.60 572.80 H1538.71 M2003.20 572.80 H2012.09 M1547.60 476.68 H1538.71 M2003.20 476.68 H2012.09 M1547.60 380.56 H1538.71 M2003.20 380.56 H2012.09 M1547.60 284.44 H1538.71 M2003.20 284.44 H2012.09 M1547.60 188.32 H1538.71 M2003.20 188.32 H2012.09 M1547.60 92.20 H1538.71 M2003.20 92.20 H2012.09" stroke="#000" stroke-width="2.0" fill="none"/>
<g font-family="'DejaVu Sans', 'Liberation Sans', sans-serif" font-size="25.40" fill="#000">
<text x="1547.60" y="609.90" text-anchor="middle">−1.0</text>
<text x="1661.50" y="609.90" text-anchor="middle">−0.5</text>
<text x="1775.40" y="609.90" text-anchor="middle">0.0</text>
<text x="1889.30" y="609.90" text-anchor="middle">0.5</text>
<text x="2003.20" y="609.90" text-anchor="middle">1.0</text>
<text x="1529.82" y="582.20" text-anchor="end">0.0</text>
<text x="1529.82" y="486.08" text-anchor="end">0.2</text>
<text x="1529.82" y="389.96" text-anchor="end">0.4</text>
<text x="1529.82" y="293.84" text-anchor="end">0.6</text>
<text x="1529.82" y="197.72" text-anchor="end">0.8</text>
<text x="1529.82" y="101.60" text-anchor="end">1.0</text>
<text x="1775.40" y="644.60" text-anchor="middle">log a/kpc</text>
<text transform="translate(1476.10 335.50) rotate(-90)" text-anchor="middle">b/a</text>
</g>
<rect x="2045.90" y="92.20" width="24.20" height="480.60" fill="url(#vg)" stroke="#000" stroke-width="2.0"/>
<path d="M2070.10 572.80 H2078.99 M2070.10 476.68 H2078.99 M2070.10 380.56 H2078.99 M2070.10 284.44 H2078.99 M2070.10 188.32 H2078.99 M2070.10 92.20 H2078.99" stroke="#000" stroke-width="2.0" fill="none"/>
<g font-family="'DejaVu Sans', 'Liberation Sans', sans-serif" font-size="25.40" fill="#000">
<text x="2087.88" y="582.20">0.0</text>
<text x="2087.88" y="486.08">0.2</text>
<text x="2087.88" y="389.96">0.4</text>
<text x="2087.88" y="293.84">0.6</text>
<text x="2087.88" y="197.72">0.8</text>
<text x="2087.88" y="101.60">1.0</text>
</g>
<text transform="translate(2163.90 336.50) rotate(-90)" text-anchor="middle" font-family="'DejaVu Sans', 'Liberation Sans', sans-serif" font-size="30.48">Fraction</text>
<text x="1775.40" y="77.60" text-anchor="middle" font-family="'DejaVu Sans', 'Liberation Sans', sans-serif" font-size="30.48">Model Spheroidal Fractions</text>
<rect x="91.60" y="703.00" width="455.60" height="480.60" fill="none" stroke="#000" stroke-width="2.0"/>
<path d="M91.60 1183.60 V1192.49 M91.60 703.00 V694.11 M205.50 1183.60 V1192.49 M205.50 703.00 V694.11 M319.40 1183.60 V1192.49 M319.40 703.00 V694.11 M433.30 1183.60 V1192.49 M433.30 703.00 V694.11 M547.20 1183.60 V1192.49 M547.20 703.00 V694.11 M91.60 1183.60 H82.71 M547.20 1183.60 H556.09 M91.60 1087.48 H82.71 M547.20 1087.48 H556.09 M91.60 991.36 H82.71 M547.20 991.36 H556.09 M91.60 895.24 H82.71 M547.20 895.24 H556.09 M91.60 799.12 H82.71 M547.20 799.12 H556.09 M91.60 703.00 H82.71 M547.20 703.00 H556.09" stroke="#000" stroke-width="2.0" fill="none"/>
<g font-family="'DejaVu Sans', 'Liberation Sans', sans-serif" font-size="25.40" fill="#000">
<text x="91.60" y="1220.70" text-anchor="middle">−1.0</text>
<text x="205.50" y="1220.70" text-anchor="middle">−0.5</text>
<text x="319.40" y="1220.70" text-anchor="middle">0.0</text>
<text x="433.30" y="1220.70" text-anchor="middle">0.5</text>
<text x="547.20" y="1220.70" text-anchor="middle">1.0</text>
<text x="73.82" y="1193.00" text-anchor="end">0.0</text>
<text x="73.82" y="1096.88" text-anchor="end">0.2</text>
<text x="73.82" y="1000.76" text-anchor="end">0.4</text>
<text x="73.82" y="904.64" text-anchor="end">0.6</text>
<text x="73.82" y="808.52" text-anchor="end">0.8</text>
<text x="73.82" y="712.40" text-anchor="end">1.0</text>
<text x="319.40" y="1255.40" text-anchor="middle">log a/kpc</text>
<text transform="translate(20.10 946.30) rotate(-90)" text-anchor="middle">b/a</text>
</g>
<rect x="589.90" y="703.00" width="24.20" height="480.60" fill="url(#vg)" stroke="#000" stroke-width="2.0"/>
<path d="M614.10 1183.60 H622.99 M614.10 1087.48 H622.99 M614.10 991.36 H622.99 M614.10 895.24 H622.99 M614.10 799.12 H622.99 M614.10 703.00 H622.99" stroke="#000" stroke-width="2.0" fill="none"/>
<g font-family="'DejaVu Sans', 'Liberation Sans', sans-serif" font-size="25.40" fill="#000">
<text x="631.88" y="1193.00">0.0</text>
<text x="631.88" y="1096.88">0.2</text>
<text x="631.88" y="1000.76">0.4</text>
<text x="631.88" y="904.64">0.6</text>
<text x="631.88" y="808.52">0.8</text>
<text x="631.88" y="712.40">1.0</text>
</g>
<text transform="translate(707.90 947.30) rotate(-90)" text-anchor="middle" font-family="'DejaVu Sans', 'Liberation Sans', sans-serif" font-size="30.48">Probability</text>
<text x="319.40" y="688.40" text-anchor="middle" font-family="'DejaVu Sans', 'Liberation Sans', sans-serif" font-size="30.48">Observed Prolate Probabilities</text>
<rect x="819.70" y="703.00" width="455.60" height="480.60" fill="none" stroke="#000" stroke-width="2.0"/>
<path d="M819.70 1183.60 V1192.49 M819.70 703.00 V694.11 M933.60 1183.60 V1192.49 M933.60 703.00 V694.11 M1047.50 1183.60 V1192.49 M1047.50 703.00 V694.11 M1161.40 1183.60 V1192.49 M1161.40 703.00 V694.11 M1275.30 1183.60 V1192.49 M1275.30 703.00 V694.11 M819.70 1183.60 H810.81 M1275.30 1183.60 H1284.19 M819.70 1087.48 H810.81 M1275.30 1087.48 H1284.19 M819.70 991.36 H810.81 M1275.30 991.36 H1284.19 M819.70 895.24 H810.81 M1275.30 895.24 H1284.19 M819.70 799.12 H810.81 M1275.30 799.12 H1284.19 M819.70 703.00 H810.81 M1275.30 703.00 H1284.19" stroke="#000" stroke-width="2.0" fill="none"/>
<g font-family="'DejaVu Sans', 'Liberation Sans', sans-serif" font-size="25.40" fill="#000">
<text x="819.70" y="1220.70" text-anchor="middle">−1.0</text>
<text x="933.60" y="1220.70" text-anchor="middle">−0.5</text>
<text x="1047.50" y="1220.70" text-anchor="middle">0.0</text>
<text x="1161.40" y="1220.70" text-anchor="middle">0.5</text>
<text x="1275.30" y="1220.70" text-anchor="middle">1.0</text>
<text x="801.92" y="1193.00" text-anchor="end">0.0</text>
<text x="801.92" y="1096.88" text-anchor="end">0.2</text>
<text x="801.92" y="1000.76" text-anchor="end">0.4</text>
<text x="801.92" y="904.64" text-anchor="end">0.6</text>
<text x="801.92" y="808.52" text-anchor="end">0.8</text>
<text x="801.92" y="712.40" text-anchor="end">1.0</text>
<text x="1047.50" y="1255.40" text-anchor="middle">log a/kpc</text>
<text transform="translate(748.20 946.30) rotate(-90)" text-anchor="middle">b/a</text>
</g>
<rect x="1318.00" y="703.00" width="24.20" height="480.60" fill="url(#vg)" stroke="#000" stroke-width="2.0"/>
<path d="M1342.20 1183.60 H1351.09 M1342.20 1087.48 H1351.09 M1342.20 991.36 H1351.09 M1342.20 895.24 H1351.09 M1342.20 799.12 H1351.09 M1342.20 703.00 H1351.09" stroke="#000" stroke-width="2.0" fill="none"/>
<g font-family="'DejaVu Sans', 'Liberation Sans', sans-serif" font-size="25.40" fill="#000">
<text x="1359.98" y="1193.00">0.0</text>
<text x="1359.98" y="1096.88">0.2</text>
<text x="1359.98" y="1000.76">0.4</text>
<text x="1359.98" y="904.64">0.6</text>
<text x="1359.98" y="808.52">0.8</text>
<text x="1359.98" y="712.40">1.0</text>
</g>
<text transform="translate(1436.00 947.30) rotate(-90)" text-anchor="middle" font-family="'DejaVu Sans', 'Liberation Sans', sans-serif" font-size="30.48">Probability</text>
<text x="1047.50" y="688.40" text-anchor="middle" font-family="'DejaVu Sans', 'Liberation Sans', sans-serif" font-size="30.48">Observed Oblate Probabilities</text>
<rect x="1547.60" y="703.00" width="455.60" height="480.60" fill="none" stroke="#000" stroke-width="2.0"/>
<path d="M1547.60 1183.60 V1192.49 M1547.60 703.00 V694.11 M1661.50 1183.60 V1192.49 M1661.50 703.00 V694.11 M1775.40 1183.60 V1192.49 M1775.40 703.00 V694.11 M1889.30 1183.60 V1192.49 M1889.30 703.00 V694.11 M2003.20 1183.60 V1192.49 M2003.20 703.00 V694.11 M1547.60 1183.60 H1538.71 M2003.20 1183.60 H2012.09 M1547.60 1087.48 H1538.71 M2003.20 1087.48 H2012.09 M1547.60 991.36 H1538.71 M2003.20 991.36 H2012.09 M1547.60 895.24 H1538.71 M2003.20 895.24 H2012.09 M1547.60 799.12 H1538.71 M2003.20 799.12 H2012.09 M1547.60 703.00 H1538.71 M2003.20 703.00 H2012.09" stroke="#000" stroke-width="2.0" fill="none"/>
<g font-family="'DejaVu Sans', 'Liberation Sans', sans-serif" font-size="25.40" fill="#000">
<text x="1547.60" y="1220.70" text-anchor="middle">−1.0</text>
<text x="1661.50" y="1220.70" text-anchor="middle">−0.5</text>
<text x="1775.40" y="1220.70" text-anchor="middle">0.0</text>
<text x="1889.30" y="1220.70" text-anchor="middle">0.5</text>
<text x="2003.20" y="1220.70" text-anchor="middle">1.0</text>
<text x="1529.82" y="1193.00" text-anchor="end">0.0</text>
<text x="1529.82" y="1096.88" text-anchor="end">0.2</text>
<text x="1529.82" y="1000.76" text-anchor="end">0.4</text>
<text x="1529.82" y="904.64" text-anchor="end">0.6</text>
<text x="1529.82" y="808.52" text-anchor="end">0.8</text>
<text x="1529.82" y="712.40" text-anchor="end">1.0</text>
<text x="1775.40" y="1255.40" text-anchor="middle">log a/kpc</text>
<text transform="translate(1476.10 946.30) rotate(-90)" text-anchor="middle">b/a</text>
</g>
<rect x="2045.90" y="703.00" width="24.20" height="480.60" fill="url(#vg)" stroke="#000" stroke-width="2.0"/>
<path d="M2070.10 1183.60 H2078.99 M2070.10 1087.48 H2078.99 M2070.10 991.36 H2078.99 M2070.10 895.24 H2078.99 M2070.10 799.12 H2078.99 M2070.10 703.00 H2078.99" stroke="#000" stroke-width="2.0" fill="none"/>
<g font-family="'DejaVu Sans', 'Liberation Sans', sans-serif" font-size="25.40" fill="#000">
<text x="2087.88" y="1193.00">0.0</text>
<text x="2087.88" y="1096.88">0.2</text>
<text x="2087.88" y="1000.76">0.4</text>
<text x="2087.88" y="904.64">0.6</text>
<text x="2087.88" y="808.52">0.8</text>
<text x="2087.88" y="712.40">1.0</text>
</g>
<text transform="translate(2163.90 947.30) rotate(-90)" text-anchor="middle" font-family="'DejaVu Sans', 'Liberation Sans', sans-serif" font-size="30.48">Probability</text>
<text x="1775.40" y="688.40" text-anchor="middle" font-family="'DejaVu Sans', 'Liberation Sans', sans-serif" font-size="30.48">Observed Spheroidal Probabilities</text>
<path d="M341.90 121.50 H387.80" fill="none" stroke="#00ffff" stroke-opacity="0.8" stroke-width="5.08" stroke-dasharray="18.8 8.13"/>
<text x="406.00" y="129.80" font-family="'DejaVu Sans', 'Liberation Sans', sans-serif" font-size="22.5" fill="#00ffff">PSF FWHM</text>
<text x="1085" y="30.8" text-anchor="middle" font-family="'DejaVu Sans', 'Liberation Sans', sans-serif" font-size="40.64">SE++ z=2.0-2.5, logmstar=9.0-9.5</text>
</svg>
</body></html>
